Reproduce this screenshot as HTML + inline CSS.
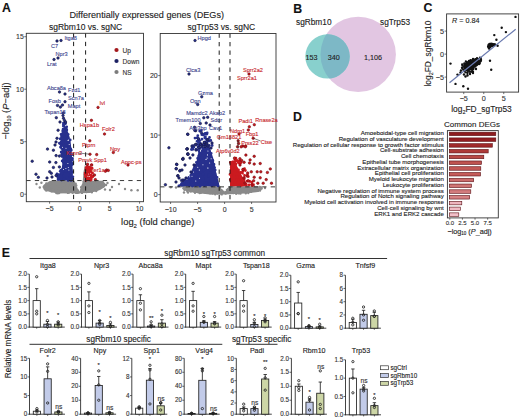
<!DOCTYPE html>
<html><head><meta charset="utf-8"><style>
html,body{margin:0;padding:0;background:#fff;}
svg{display:block;}
text{font-family:"Liberation Sans", sans-serif;}
</style></head><body>
<svg width="520" height="419" viewBox="0 0 520 419" font-family="Liberation Sans, sans-serif">
<rect width="520" height="419" fill="#fff"/>
<text x="2.00" y="12.30" font-size="12.3" text-anchor="start" fill="#111" stroke="#111" stroke-width="0.12" font-weight="bold">A</text>
<text x="293.30" y="12.60" font-size="12.3" text-anchor="start" fill="#111" stroke="#111" stroke-width="0.12" font-weight="bold">B</text>
<text x="423.50" y="12.20" font-size="12.3" text-anchor="start" fill="#111" stroke="#111" stroke-width="0.12" font-weight="bold">C</text>
<text x="293.00" y="121.00" font-size="12.3" text-anchor="start" fill="#111" stroke="#111" stroke-width="0.12" font-weight="bold">D</text>
<text x="1.80" y="256.50" font-size="12.3" text-anchor="start" fill="#111" stroke="#111" stroke-width="0.12" font-weight="bold">E</text>
<text x="69.50" y="18.20" font-size="9.1" text-anchor="start" fill="#222" stroke="#222" stroke-width="0.12" >Differentially expressed genes (DEGs)</text>
<text x="49.00" y="30.00" font-size="8.5" text-anchor="start" fill="#222" stroke="#222" stroke-width="0.12" >sgRbm10 vs. sgNC</text>
<text x="187.50" y="30.00" font-size="8.5" text-anchor="start" fill="#222" stroke="#222" stroke-width="0.12" >sgTrp53 vs. sgNC</text>
<text transform="translate(8.6,111) rotate(-90)" font-size="9.4" text-anchor="middle" fill="#222" stroke="#222" stroke-width="0.12">−log<tspan font-size="5.5" dy="2">10</tspan><tspan dy="-2"> (</tspan><tspan font-style="italic">P</tspan>−adj)</text>
<text x="157.7" y="225.0" font-size="9.4" text-anchor="middle" fill="#222" stroke="#222" stroke-width="0.12">log<tspan font-size="6" dy="2.5">2</tspan><tspan dy="-2.5"> (fold change)</tspan></text>
<polygon points="44.0,184.5 50.0,181.0 53.0,180.7 74.4,180.7 79.2,192.0 83.2,180.7 103.0,180.7 105.5,184.0 105.0,187.0 100.0,190.0 90.0,193.0 79.0,193.2 70.0,193.2 58.0,193.6 50.0,192.0 44.0,190.0 42.5,187.0" fill="#8a8a8a" />
<polygon points="82.8,180.7 83.5,172.0 84.8,165.0 85.6,166.0 85.6,180.7" fill="#8a8a8a" />
<path d="M61.7,182.6a1.2,1.2 0 1,0 2.4,0a1.2,1.2 0 1,0 -2.4,0M82.3,181.6a1.2,1.2 0 1,0 2.4,0a1.2,1.2 0 1,0 -2.4,0M75.1,185.4a1.2,1.2 0 1,0 2.4,0a1.2,1.2 0 1,0 -2.4,0M45.0,187.2a1.2,1.2 0 1,0 2.4,0a1.2,1.2 0 1,0 -2.4,0M43.7,186.3a1.2,1.2 0 1,0 2.4,0a1.2,1.2 0 1,0 -2.4,0M68.0,191.4a1.2,1.2 0 1,0 2.4,0a1.2,1.2 0 1,0 -2.4,0M49.1,183.6a1.2,1.2 0 1,0 2.4,0a1.2,1.2 0 1,0 -2.4,0M80.8,192.9a1.2,1.2 0 1,0 2.4,0a1.2,1.2 0 1,0 -2.4,0M95.4,184.4a1.2,1.2 0 1,0 2.4,0a1.2,1.2 0 1,0 -2.4,0M50.4,182.2a1.2,1.2 0 1,0 2.4,0a1.2,1.2 0 1,0 -2.4,0M60.7,191.2a1.2,1.2 0 1,0 2.4,0a1.2,1.2 0 1,0 -2.4,0M52.7,188.2a1.2,1.2 0 1,0 2.4,0a1.2,1.2 0 1,0 -2.4,0M81.6,185.5a1.2,1.2 0 1,0 2.4,0a1.2,1.2 0 1,0 -2.4,0M45.1,183.4a1.2,1.2 0 1,0 2.4,0a1.2,1.2 0 1,0 -2.4,0M84.2,186.2a1.2,1.2 0 1,0 2.4,0a1.2,1.2 0 1,0 -2.4,0M61.1,188.3a1.2,1.2 0 1,0 2.4,0a1.2,1.2 0 1,0 -2.4,0M69.9,184.6a1.2,1.2 0 1,0 2.4,0a1.2,1.2 0 1,0 -2.4,0M91.3,189.7a1.2,1.2 0 1,0 2.4,0a1.2,1.2 0 1,0 -2.4,0M56.7,188.1a1.2,1.2 0 1,0 2.4,0a1.2,1.2 0 1,0 -2.4,0M74.4,192.0a1.2,1.2 0 1,0 2.4,0a1.2,1.2 0 1,0 -2.4,0M87.3,184.4a1.2,1.2 0 1,0 2.4,0a1.2,1.2 0 1,0 -2.4,0M67.6,190.5a1.2,1.2 0 1,0 2.4,0a1.2,1.2 0 1,0 -2.4,0M50.9,187.0a1.2,1.2 0 1,0 2.4,0a1.2,1.2 0 1,0 -2.4,0M43.8,189.3a1.2,1.2 0 1,0 2.4,0a1.2,1.2 0 1,0 -2.4,0M89.5,188.1a1.2,1.2 0 1,0 2.4,0a1.2,1.2 0 1,0 -2.4,0M96.5,184.7a1.2,1.2 0 1,0 2.4,0a1.2,1.2 0 1,0 -2.4,0M85.1,188.4a1.2,1.2 0 1,0 2.4,0a1.2,1.2 0 1,0 -2.4,0M71.2,189.3a1.2,1.2 0 1,0 2.4,0a1.2,1.2 0 1,0 -2.4,0M45.1,189.7a1.2,1.2 0 1,0 2.4,0a1.2,1.2 0 1,0 -2.4,0M93.1,184.4a1.2,1.2 0 1,0 2.4,0a1.2,1.2 0 1,0 -2.4,0M65.6,189.3a1.2,1.2 0 1,0 2.4,0a1.2,1.2 0 1,0 -2.4,0M42.7,186.7a1.2,1.2 0 1,0 2.4,0a1.2,1.2 0 1,0 -2.4,0M51.9,182.2a1.2,1.2 0 1,0 2.4,0a1.2,1.2 0 1,0 -2.4,0M45.0,190.6a1.2,1.2 0 1,0 2.4,0a1.2,1.2 0 1,0 -2.4,0M49.4,183.9a1.2,1.2 0 1,0 2.4,0a1.2,1.2 0 1,0 -2.4,0M65.9,191.9a1.2,1.2 0 1,0 2.4,0a1.2,1.2 0 1,0 -2.4,0M46.4,186.5a1.2,1.2 0 1,0 2.4,0a1.2,1.2 0 1,0 -2.4,0M75.9,192.1a1.2,1.2 0 1,0 2.4,0a1.2,1.2 0 1,0 -2.4,0M58.8,186.1a1.2,1.2 0 1,0 2.4,0a1.2,1.2 0 1,0 -2.4,0M63.9,192.1a1.2,1.2 0 1,0 2.4,0a1.2,1.2 0 1,0 -2.4,0M101.6,182.6a1.2,1.2 0 1,0 2.4,0a1.2,1.2 0 1,0 -2.4,0M52.4,183.7a1.2,1.2 0 1,0 2.4,0a1.2,1.2 0 1,0 -2.4,0M56.0,187.0a1.2,1.2 0 1,0 2.4,0a1.2,1.2 0 1,0 -2.4,0M64.6,188.0a1.2,1.2 0 1,0 2.4,0a1.2,1.2 0 1,0 -2.4,0M73.8,188.7a1.2,1.2 0 1,0 2.4,0a1.2,1.2 0 1,0 -2.4,0M83.9,181.4a1.2,1.2 0 1,0 2.4,0a1.2,1.2 0 1,0 -2.4,0M66.0,185.8a1.2,1.2 0 1,0 2.4,0a1.2,1.2 0 1,0 -2.4,0M47.8,188.9a1.2,1.2 0 1,0 2.4,0a1.2,1.2 0 1,0 -2.4,0M54.5,182.8a1.2,1.2 0 1,0 2.4,0a1.2,1.2 0 1,0 -2.4,0M62.7,181.4a1.2,1.2 0 1,0 2.4,0a1.2,1.2 0 1,0 -2.4,0M47.7,185.4a1.2,1.2 0 1,0 2.4,0a1.2,1.2 0 1,0 -2.4,0M57.2,185.2a1.2,1.2 0 1,0 2.4,0a1.2,1.2 0 1,0 -2.4,0M64.2,182.3a1.2,1.2 0 1,0 2.4,0a1.2,1.2 0 1,0 -2.4,0M70.7,186.9a1.2,1.2 0 1,0 2.4,0a1.2,1.2 0 1,0 -2.4,0M62.9,184.1a1.2,1.2 0 1,0 2.4,0a1.2,1.2 0 1,0 -2.4,0M93.5,182.8a1.2,1.2 0 1,0 2.4,0a1.2,1.2 0 1,0 -2.4,0M95.7,189.7a1.2,1.2 0 1,0 2.4,0a1.2,1.2 0 1,0 -2.4,0M57.8,185.4a1.2,1.2 0 1,0 2.4,0a1.2,1.2 0 1,0 -2.4,0M51.8,190.7a1.2,1.2 0 1,0 2.4,0a1.2,1.2 0 1,0 -2.4,0M74.9,190.7a1.2,1.2 0 1,0 2.4,0a1.2,1.2 0 1,0 -2.4,0M62.1,183.6a1.2,1.2 0 1,0 2.4,0a1.2,1.2 0 1,0 -2.4,0M95.0,191.1a1.2,1.2 0 1,0 2.4,0a1.2,1.2 0 1,0 -2.4,0M92.9,190.2a1.2,1.2 0 1,0 2.4,0a1.2,1.2 0 1,0 -2.4,0M55.6,187.4a1.2,1.2 0 1,0 2.4,0a1.2,1.2 0 1,0 -2.4,0M63.7,181.1a1.2,1.2 0 1,0 2.4,0a1.2,1.2 0 1,0 -2.4,0M57.6,189.6a1.2,1.2 0 1,0 2.4,0a1.2,1.2 0 1,0 -2.4,0M101.6,186.5a1.2,1.2 0 1,0 2.4,0a1.2,1.2 0 1,0 -2.4,0M101.5,185.4a1.2,1.2 0 1,0 2.4,0a1.2,1.2 0 1,0 -2.4,0M55.2,183.6a1.2,1.2 0 1,0 2.4,0a1.2,1.2 0 1,0 -2.4,0M53.7,183.3a1.2,1.2 0 1,0 2.4,0a1.2,1.2 0 1,0 -2.4,0M80.6,192.3a1.2,1.2 0 1,0 2.4,0a1.2,1.2 0 1,0 -2.4,0M94.2,186.9a1.2,1.2 0 1,0 2.4,0a1.2,1.2 0 1,0 -2.4,0M82.4,191.0a1.2,1.2 0 1,0 2.4,0a1.2,1.2 0 1,0 -2.4,0M46.6,189.2a1.2,1.2 0 1,0 2.4,0a1.2,1.2 0 1,0 -2.4,0M88.6,186.9a1.2,1.2 0 1,0 2.4,0a1.2,1.2 0 1,0 -2.4,0M52.5,190.9a1.2,1.2 0 1,0 2.4,0a1.2,1.2 0 1,0 -2.4,0M62.2,191.0a1.2,1.2 0 1,0 2.4,0a1.2,1.2 0 1,0 -2.4,0M102.5,185.8a1.2,1.2 0 1,0 2.4,0a1.2,1.2 0 1,0 -2.4,0M66.6,192.9a1.2,1.2 0 1,0 2.4,0a1.2,1.2 0 1,0 -2.4,0M87.0,182.9a1.2,1.2 0 1,0 2.4,0a1.2,1.2 0 1,0 -2.4,0M49.3,182.6a1.2,1.2 0 1,0 2.4,0a1.2,1.2 0 1,0 -2.4,0M50.5,191.4a1.2,1.2 0 1,0 2.4,0a1.2,1.2 0 1,0 -2.4,0M63.4,187.8a1.2,1.2 0 1,0 2.4,0a1.2,1.2 0 1,0 -2.4,0M74.5,192.7a1.2,1.2 0 1,0 2.4,0a1.2,1.2 0 1,0 -2.4,0M68.6,191.9a1.2,1.2 0 1,0 2.4,0a1.2,1.2 0 1,0 -2.4,0M93.3,183.4a1.2,1.2 0 1,0 2.4,0a1.2,1.2 0 1,0 -2.4,0M57.2,184.5a1.2,1.2 0 1,0 2.4,0a1.2,1.2 0 1,0 -2.4,0M56.5,188.3a1.2,1.2 0 1,0 2.4,0a1.2,1.2 0 1,0 -2.4,0M57.6,186.1a1.2,1.2 0 1,0 2.4,0a1.2,1.2 0 1,0 -2.4,0M63.6,186.6a1.2,1.2 0 1,0 2.4,0a1.2,1.2 0 1,0 -2.4,0M78.1,192.4a1.2,1.2 0 1,0 2.4,0a1.2,1.2 0 1,0 -2.4,0M67.8,192.5a1.2,1.2 0 1,0 2.4,0a1.2,1.2 0 1,0 -2.4,0M72.9,187.6a1.2,1.2 0 1,0 2.4,0a1.2,1.2 0 1,0 -2.4,0M69.0,183.1a1.2,1.2 0 1,0 2.4,0a1.2,1.2 0 1,0 -2.4,0M52.2,186.8a1.2,1.2 0 1,0 2.4,0a1.2,1.2 0 1,0 -2.4,0M87.0,187.9a1.2,1.2 0 1,0 2.4,0a1.2,1.2 0 1,0 -2.4,0M61.8,187.4a1.2,1.2 0 1,0 2.4,0a1.2,1.2 0 1,0 -2.4,0M76.3,190.8a1.2,1.2 0 1,0 2.4,0a1.2,1.2 0 1,0 -2.4,0M48.0,187.9a1.2,1.2 0 1,0 2.4,0a1.2,1.2 0 1,0 -2.4,0M57.0,184.3a1.2,1.2 0 1,0 2.4,0a1.2,1.2 0 1,0 -2.4,0M90.0,187.2a1.2,1.2 0 1,0 2.4,0a1.2,1.2 0 1,0 -2.4,0M76.7,190.5a1.2,1.2 0 1,0 2.4,0a1.2,1.2 0 1,0 -2.4,0M98.8,186.4a1.2,1.2 0 1,0 2.4,0a1.2,1.2 0 1,0 -2.4,0M79.9,187.2a1.2,1.2 0 1,0 2.4,0a1.2,1.2 0 1,0 -2.4,0M73.6,189.6a1.2,1.2 0 1,0 2.4,0a1.2,1.2 0 1,0 -2.4,0M69.8,187.6a1.2,1.2 0 1,0 2.4,0a1.2,1.2 0 1,0 -2.4,0M71.4,192.8a1.2,1.2 0 1,0 2.4,0a1.2,1.2 0 1,0 -2.4,0M85.4,192.0a1.2,1.2 0 1,0 2.4,0a1.2,1.2 0 1,0 -2.4,0M100.7,184.0a1.2,1.2 0 1,0 2.4,0a1.2,1.2 0 1,0 -2.4,0M76.5,192.9a1.2,1.2 0 1,0 2.4,0a1.2,1.2 0 1,0 -2.4,0M94.2,182.5a1.2,1.2 0 1,0 2.4,0a1.2,1.2 0 1,0 -2.4,0M49.0,186.4a1.2,1.2 0 1,0 2.4,0a1.2,1.2 0 1,0 -2.4,0M45.9,183.8a1.2,1.2 0 1,0 2.4,0a1.2,1.2 0 1,0 -2.4,0M45.9,189.3a1.2,1.2 0 1,0 2.4,0a1.2,1.2 0 1,0 -2.4,0M90.7,192.3a1.2,1.2 0 1,0 2.4,0a1.2,1.2 0 1,0 -2.4,0M51.0,189.9a1.2,1.2 0 1,0 2.4,0a1.2,1.2 0 1,0 -2.4,0M82.9,182.5a1.2,1.2 0 1,0 2.4,0a1.2,1.2 0 1,0 -2.4,0M55.1,193.0a1.2,1.2 0 1,0 2.4,0a1.2,1.2 0 1,0 -2.4,0M66.4,187.0a1.2,1.2 0 1,0 2.4,0a1.2,1.2 0 1,0 -2.4,0M51.5,186.3a1.2,1.2 0 1,0 2.4,0a1.2,1.2 0 1,0 -2.4,0M73.8,185.1a1.2,1.2 0 1,0 2.4,0a1.2,1.2 0 1,0 -2.4,0M53.6,184.8a1.2,1.2 0 1,0 2.4,0a1.2,1.2 0 1,0 -2.4,0M86.8,181.0a1.2,1.2 0 1,0 2.4,0a1.2,1.2 0 1,0 -2.4,0M80.6,187.3a1.2,1.2 0 1,0 2.4,0a1.2,1.2 0 1,0 -2.4,0M47.9,184.1a1.2,1.2 0 1,0 2.4,0a1.2,1.2 0 1,0 -2.4,0M58.3,182.4a1.2,1.2 0 1,0 2.4,0a1.2,1.2 0 1,0 -2.4,0M67.9,192.5a1.2,1.2 0 1,0 2.4,0a1.2,1.2 0 1,0 -2.4,0M92.9,184.0a1.2,1.2 0 1,0 2.4,0a1.2,1.2 0 1,0 -2.4,0M84.7,186.2a1.2,1.2 0 1,0 2.4,0a1.2,1.2 0 1,0 -2.4,0M81.3,191.0a1.2,1.2 0 1,0 2.4,0a1.2,1.2 0 1,0 -2.4,0M69.9,185.1a1.2,1.2 0 1,0 2.4,0a1.2,1.2 0 1,0 -2.4,0M76.1,192.7a1.2,1.2 0 1,0 2.4,0a1.2,1.2 0 1,0 -2.4,0M58.2,182.4a1.2,1.2 0 1,0 2.4,0a1.2,1.2 0 1,0 -2.4,0M74.5,183.8a1.2,1.2 0 1,0 2.4,0a1.2,1.2 0 1,0 -2.4,0M48.2,182.8a1.2,1.2 0 1,0 2.4,0a1.2,1.2 0 1,0 -2.4,0M61.0,184.6a1.2,1.2 0 1,0 2.4,0a1.2,1.2 0 1,0 -2.4,0M89.1,184.4a1.2,1.2 0 1,0 2.4,0a1.2,1.2 0 1,0 -2.4,0M72.8,183.0a1.2,1.2 0 1,0 2.4,0a1.2,1.2 0 1,0 -2.4,0M63.2,180.9a1.2,1.2 0 1,0 2.4,0a1.2,1.2 0 1,0 -2.4,0M57.1,180.9a1.2,1.2 0 1,0 2.4,0a1.2,1.2 0 1,0 -2.4,0M87.5,187.8a1.2,1.2 0 1,0 2.4,0a1.2,1.2 0 1,0 -2.4,0M53.2,186.8a1.2,1.2 0 1,0 2.4,0a1.2,1.2 0 1,0 -2.4,0M100.2,182.1a1.2,1.2 0 1,0 2.4,0a1.2,1.2 0 1,0 -2.4,0M92.9,186.3a1.2,1.2 0 1,0 2.4,0a1.2,1.2 0 1,0 -2.4,0M72.5,191.5a1.2,1.2 0 1,0 2.4,0a1.2,1.2 0 1,0 -2.4,0M66.1,187.2a1.2,1.2 0 1,0 2.4,0a1.2,1.2 0 1,0 -2.4,0M62.9,191.4a1.2,1.2 0 1,0 2.4,0a1.2,1.2 0 1,0 -2.4,0M85.8,188.9a1.2,1.2 0 1,0 2.4,0a1.2,1.2 0 1,0 -2.4,0M66.8,185.2a1.2,1.2 0 1,0 2.4,0a1.2,1.2 0 1,0 -2.4,0M45.8,190.3a1.2,1.2 0 1,0 2.4,0a1.2,1.2 0 1,0 -2.4,0M57.4,182.8a1.2,1.2 0 1,0 2.4,0a1.2,1.2 0 1,0 -2.4,0M96.1,189.4a1.2,1.2 0 1,0 2.4,0a1.2,1.2 0 1,0 -2.4,0M59.1,183.8a1.2,1.2 0 1,0 2.4,0a1.2,1.2 0 1,0 -2.4,0M59.8,186.6a1.2,1.2 0 1,0 2.4,0a1.2,1.2 0 1,0 -2.4,0M51.2,186.5a1.2,1.2 0 1,0 2.4,0a1.2,1.2 0 1,0 -2.4,0M57.9,193.1a1.2,1.2 0 1,0 2.4,0a1.2,1.2 0 1,0 -2.4,0M56.7,193.2a1.2,1.2 0 1,0 2.4,0a1.2,1.2 0 1,0 -2.4,0M60.8,185.3a1.2,1.2 0 1,0 2.4,0a1.2,1.2 0 1,0 -2.4,0M71.2,187.2a1.2,1.2 0 1,0 2.4,0a1.2,1.2 0 1,0 -2.4,0M54.0,187.2a1.2,1.2 0 1,0 2.4,0a1.2,1.2 0 1,0 -2.4,0" fill="#8a8a8a"/>
<circle cx="41.40" cy="182.70" r="1.2" fill="#8a8a8a" />
<circle cx="39.80" cy="187.50" r="1.2" fill="#8a8a8a" />
<circle cx="106.00" cy="185.00" r="1.2" fill="#8a8a8a" />
<circle cx="105.00" cy="189.50" r="1.2" fill="#8a8a8a" />
<circle cx="107.50" cy="183.00" r="1.2" fill="#8a8a8a" />
<circle cx="36.50" cy="184.00" r="1.2" fill="#8a8a8a" />
<circle cx="119.00" cy="184.00" r="1.2" fill="#8a8a8a" />
<circle cx="125.00" cy="189.00" r="1.2" fill="#8a8a8a" />
<circle cx="131.40" cy="190.20" r="1.2" fill="#8a8a8a" />
<circle cx="137.70" cy="190.20" r="1.2" fill="#8a8a8a" />
<circle cx="110.00" cy="190.00" r="1.2" fill="#8a8a8a" />
<circle cx="112.00" cy="187.00" r="1.2" fill="#8a8a8a" />
<polygon points="64.0,127.0 66.5,127.0 68.5,134.0 70.5,141.0 71.5,150.0 72.3,160.0 73.0,180.5 56.5,180.5 58.5,175.0 61.5,170.0 62.8,160.0 62.0,150.0 60.5,145.0 60.5,140.0 62.3,135.0 63.3,130.0" fill="#27308e" />
<path d="M63.9,153.4a1.4,1.4 0 1,0 2.8,0a1.4,1.4 0 1,0 -2.8,0M67.1,160.8a1.4,1.4 0 1,0 2.8,0a1.4,1.4 0 1,0 -2.8,0M66.4,173.5a1.4,1.4 0 1,0 2.8,0a1.4,1.4 0 1,0 -2.8,0M60.1,141.8a1.4,1.4 0 1,0 2.8,0a1.4,1.4 0 1,0 -2.8,0M66.6,160.0a1.4,1.4 0 1,0 2.8,0a1.4,1.4 0 1,0 -2.8,0M69.8,159.1a1.4,1.4 0 1,0 2.8,0a1.4,1.4 0 1,0 -2.8,0M66.8,169.7a1.4,1.4 0 1,0 2.8,0a1.4,1.4 0 1,0 -2.8,0M62.3,171.0a1.4,1.4 0 1,0 2.8,0a1.4,1.4 0 1,0 -2.8,0M68.1,170.5a1.4,1.4 0 1,0 2.8,0a1.4,1.4 0 1,0 -2.8,0M63.9,174.3a1.4,1.4 0 1,0 2.8,0a1.4,1.4 0 1,0 -2.8,0M65.8,162.9a1.4,1.4 0 1,0 2.8,0a1.4,1.4 0 1,0 -2.8,0M63.4,159.1a1.4,1.4 0 1,0 2.8,0a1.4,1.4 0 1,0 -2.8,0M64.7,162.1a1.4,1.4 0 1,0 2.8,0a1.4,1.4 0 1,0 -2.8,0M62.0,123.2a1.4,1.4 0 1,0 2.8,0a1.4,1.4 0 1,0 -2.8,0M68.0,166.0a1.4,1.4 0 1,0 2.8,0a1.4,1.4 0 1,0 -2.8,0M62.3,153.8a1.4,1.4 0 1,0 2.8,0a1.4,1.4 0 1,0 -2.8,0M65.3,126.8a1.4,1.4 0 1,0 2.8,0a1.4,1.4 0 1,0 -2.8,0M66.8,137.5a1.4,1.4 0 1,0 2.8,0a1.4,1.4 0 1,0 -2.8,0M66.7,134.8a1.4,1.4 0 1,0 2.8,0a1.4,1.4 0 1,0 -2.8,0M66.9,179.1a1.4,1.4 0 1,0 2.8,0a1.4,1.4 0 1,0 -2.8,0M62.1,145.0a1.4,1.4 0 1,0 2.8,0a1.4,1.4 0 1,0 -2.8,0M61.8,162.3a1.4,1.4 0 1,0 2.8,0a1.4,1.4 0 1,0 -2.8,0M67.4,158.5a1.4,1.4 0 1,0 2.8,0a1.4,1.4 0 1,0 -2.8,0M65.0,127.5a1.4,1.4 0 1,0 2.8,0a1.4,1.4 0 1,0 -2.8,0M66.9,140.5a1.4,1.4 0 1,0 2.8,0a1.4,1.4 0 1,0 -2.8,0M63.6,123.7a1.4,1.4 0 1,0 2.8,0a1.4,1.4 0 1,0 -2.8,0M65.6,162.8a1.4,1.4 0 1,0 2.8,0a1.4,1.4 0 1,0 -2.8,0M65.6,139.7a1.4,1.4 0 1,0 2.8,0a1.4,1.4 0 1,0 -2.8,0M62.6,149.7a1.4,1.4 0 1,0 2.8,0a1.4,1.4 0 1,0 -2.8,0M61.6,129.8a1.4,1.4 0 1,0 2.8,0a1.4,1.4 0 1,0 -2.8,0M71.5,176.8a1.4,1.4 0 1,0 2.8,0a1.4,1.4 0 1,0 -2.8,0M68.4,178.7a1.4,1.4 0 1,0 2.8,0a1.4,1.4 0 1,0 -2.8,0M61.3,138.4a1.4,1.4 0 1,0 2.8,0a1.4,1.4 0 1,0 -2.8,0M56.6,177.4a1.4,1.4 0 1,0 2.8,0a1.4,1.4 0 1,0 -2.8,0M68.4,152.3a1.4,1.4 0 1,0 2.8,0a1.4,1.4 0 1,0 -2.8,0M69.7,163.4a1.4,1.4 0 1,0 2.8,0a1.4,1.4 0 1,0 -2.8,0M57.1,174.6a1.4,1.4 0 1,0 2.8,0a1.4,1.4 0 1,0 -2.8,0M62.0,124.4a1.4,1.4 0 1,0 2.8,0a1.4,1.4 0 1,0 -2.8,0M61.3,140.4a1.4,1.4 0 1,0 2.8,0a1.4,1.4 0 1,0 -2.8,0M58.7,171.3a1.4,1.4 0 1,0 2.8,0a1.4,1.4 0 1,0 -2.8,0M70.5,164.0a1.4,1.4 0 1,0 2.8,0a1.4,1.4 0 1,0 -2.8,0M59.8,145.6a1.4,1.4 0 1,0 2.8,0a1.4,1.4 0 1,0 -2.8,0M59.6,147.6a1.4,1.4 0 1,0 2.8,0a1.4,1.4 0 1,0 -2.8,0M58.1,176.8a1.4,1.4 0 1,0 2.8,0a1.4,1.4 0 1,0 -2.8,0M62.5,133.9a1.4,1.4 0 1,0 2.8,0a1.4,1.4 0 1,0 -2.8,0M59.8,178.0a1.4,1.4 0 1,0 2.8,0a1.4,1.4 0 1,0 -2.8,0M69.7,169.7a1.4,1.4 0 1,0 2.8,0a1.4,1.4 0 1,0 -2.8,0M64.8,175.5a1.4,1.4 0 1,0 2.8,0a1.4,1.4 0 1,0 -2.8,0M70.8,154.6a1.4,1.4 0 1,0 2.8,0a1.4,1.4 0 1,0 -2.8,0M66.7,148.9a1.4,1.4 0 1,0 2.8,0a1.4,1.4 0 1,0 -2.8,0M67.1,160.1a1.4,1.4 0 1,0 2.8,0a1.4,1.4 0 1,0 -2.8,0M61.7,142.8a1.4,1.4 0 1,0 2.8,0a1.4,1.4 0 1,0 -2.8,0M65.3,140.3a1.4,1.4 0 1,0 2.8,0a1.4,1.4 0 1,0 -2.8,0M63.4,145.7a1.4,1.4 0 1,0 2.8,0a1.4,1.4 0 1,0 -2.8,0M56.6,175.1a1.4,1.4 0 1,0 2.8,0a1.4,1.4 0 1,0 -2.8,0M62.2,135.7a1.4,1.4 0 1,0 2.8,0a1.4,1.4 0 1,0 -2.8,0M70.1,180.3a1.4,1.4 0 1,0 2.8,0a1.4,1.4 0 1,0 -2.8,0M61.3,131.0a1.4,1.4 0 1,0 2.8,0a1.4,1.4 0 1,0 -2.8,0M63.6,174.0a1.4,1.4 0 1,0 2.8,0a1.4,1.4 0 1,0 -2.8,0M67.1,146.7a1.4,1.4 0 1,0 2.8,0a1.4,1.4 0 1,0 -2.8,0M60.6,153.1a1.4,1.4 0 1,0 2.8,0a1.4,1.4 0 1,0 -2.8,0M59.9,142.4a1.4,1.4 0 1,0 2.8,0a1.4,1.4 0 1,0 -2.8,0M62.3,159.2a1.4,1.4 0 1,0 2.8,0a1.4,1.4 0 1,0 -2.8,0M60.3,148.6a1.4,1.4 0 1,0 2.8,0a1.4,1.4 0 1,0 -2.8,0M71.0,171.8a1.4,1.4 0 1,0 2.8,0a1.4,1.4 0 1,0 -2.8,0M69.9,150.2a1.4,1.4 0 1,0 2.8,0a1.4,1.4 0 1,0 -2.8,0M63.9,123.0a1.4,1.4 0 1,0 2.8,0a1.4,1.4 0 1,0 -2.8,0M60.2,176.3a1.4,1.4 0 1,0 2.8,0a1.4,1.4 0 1,0 -2.8,0M68.5,172.2a1.4,1.4 0 1,0 2.8,0a1.4,1.4 0 1,0 -2.8,0M62.7,162.2a1.4,1.4 0 1,0 2.8,0a1.4,1.4 0 1,0 -2.8,0M70.8,164.5a1.4,1.4 0 1,0 2.8,0a1.4,1.4 0 1,0 -2.8,0M65.1,167.0a1.4,1.4 0 1,0 2.8,0a1.4,1.4 0 1,0 -2.8,0M61.4,154.7a1.4,1.4 0 1,0 2.8,0a1.4,1.4 0 1,0 -2.8,0M57.1,175.9a1.4,1.4 0 1,0 2.8,0a1.4,1.4 0 1,0 -2.8,0M65.1,140.5a1.4,1.4 0 1,0 2.8,0a1.4,1.4 0 1,0 -2.8,0M64.9,163.2a1.4,1.4 0 1,0 2.8,0a1.4,1.4 0 1,0 -2.8,0M62.7,156.5a1.4,1.4 0 1,0 2.8,0a1.4,1.4 0 1,0 -2.8,0M60.1,135.9a1.4,1.4 0 1,0 2.8,0a1.4,1.4 0 1,0 -2.8,0M64.2,123.6a1.4,1.4 0 1,0 2.8,0a1.4,1.4 0 1,0 -2.8,0M71.1,160.1a1.4,1.4 0 1,0 2.8,0a1.4,1.4 0 1,0 -2.8,0M69.7,150.3a1.4,1.4 0 1,0 2.8,0a1.4,1.4 0 1,0 -2.8,0M71.1,163.5a1.4,1.4 0 1,0 2.8,0a1.4,1.4 0 1,0 -2.8,0M62.2,161.8a1.4,1.4 0 1,0 2.8,0a1.4,1.4 0 1,0 -2.8,0M60.7,137.8a1.4,1.4 0 1,0 2.8,0a1.4,1.4 0 1,0 -2.8,0M65.5,176.2a1.4,1.4 0 1,0 2.8,0a1.4,1.4 0 1,0 -2.8,0M59.1,147.2a1.4,1.4 0 1,0 2.8,0a1.4,1.4 0 1,0 -2.8,0M65.8,134.4a1.4,1.4 0 1,0 2.8,0a1.4,1.4 0 1,0 -2.8,0M68.0,165.5a1.4,1.4 0 1,0 2.8,0a1.4,1.4 0 1,0 -2.8,0M62.3,134.8a1.4,1.4 0 1,0 2.8,0a1.4,1.4 0 1,0 -2.8,0M58.3,177.7a1.4,1.4 0 1,0 2.8,0a1.4,1.4 0 1,0 -2.8,0M62.2,133.8a1.4,1.4 0 1,0 2.8,0a1.4,1.4 0 1,0 -2.8,0M65.4,177.6a1.4,1.4 0 1,0 2.8,0a1.4,1.4 0 1,0 -2.8,0M56.7,179.0a1.4,1.4 0 1,0 2.8,0a1.4,1.4 0 1,0 -2.8,0M69.9,173.8a1.4,1.4 0 1,0 2.8,0a1.4,1.4 0 1,0 -2.8,0M66.7,180.4a1.4,1.4 0 1,0 2.8,0a1.4,1.4 0 1,0 -2.8,0M56.2,176.8a1.4,1.4 0 1,0 2.8,0a1.4,1.4 0 1,0 -2.8,0M65.4,144.8a1.4,1.4 0 1,0 2.8,0a1.4,1.4 0 1,0 -2.8,0M59.8,142.1a1.4,1.4 0 1,0 2.8,0a1.4,1.4 0 1,0 -2.8,0M58.0,143.2a1.4,1.4 0 1,0 2.8,0a1.4,1.4 0 1,0 -2.8,0M59.5,170.2a1.4,1.4 0 1,0 2.8,0a1.4,1.4 0 1,0 -2.8,0M68.5,147.9a1.4,1.4 0 1,0 2.8,0a1.4,1.4 0 1,0 -2.8,0M59.8,175.9a1.4,1.4 0 1,0 2.8,0a1.4,1.4 0 1,0 -2.8,0M60.5,169.7a1.4,1.4 0 1,0 2.8,0a1.4,1.4 0 1,0 -2.8,0M67.0,174.7a1.4,1.4 0 1,0 2.8,0a1.4,1.4 0 1,0 -2.8,0M59.1,138.7a1.4,1.4 0 1,0 2.8,0a1.4,1.4 0 1,0 -2.8,0M71.1,158.5a1.4,1.4 0 1,0 2.8,0a1.4,1.4 0 1,0 -2.8,0M58.7,138.8a1.4,1.4 0 1,0 2.8,0a1.4,1.4 0 1,0 -2.8,0M70.3,159.5a1.4,1.4 0 1,0 2.8,0a1.4,1.4 0 1,0 -2.8,0M71.1,177.8a1.4,1.4 0 1,0 2.8,0a1.4,1.4 0 1,0 -2.8,0M60.1,137.4a1.4,1.4 0 1,0 2.8,0a1.4,1.4 0 1,0 -2.8,0M60.9,151.4a1.4,1.4 0 1,0 2.8,0a1.4,1.4 0 1,0 -2.8,0M68.1,165.5a1.4,1.4 0 1,0 2.8,0a1.4,1.4 0 1,0 -2.8,0M68.5,167.4a1.4,1.4 0 1,0 2.8,0a1.4,1.4 0 1,0 -2.8,0M64.3,141.8a1.4,1.4 0 1,0 2.8,0a1.4,1.4 0 1,0 -2.8,0M58.8,143.8a1.4,1.4 0 1,0 2.8,0a1.4,1.4 0 1,0 -2.8,0M58.9,179.4a1.4,1.4 0 1,0 2.8,0a1.4,1.4 0 1,0 -2.8,0M69.7,179.8a1.4,1.4 0 1,0 2.8,0a1.4,1.4 0 1,0 -2.8,0M66.3,148.7a1.4,1.4 0 1,0 2.8,0a1.4,1.4 0 1,0 -2.8,0M64.6,161.8a1.4,1.4 0 1,0 2.8,0a1.4,1.4 0 1,0 -2.8,0M67.0,171.7a1.4,1.4 0 1,0 2.8,0a1.4,1.4 0 1,0 -2.8,0M65.4,130.0a1.4,1.4 0 1,0 2.8,0a1.4,1.4 0 1,0 -2.8,0M68.8,139.9a1.4,1.4 0 1,0 2.8,0a1.4,1.4 0 1,0 -2.8,0M63.5,144.4a1.4,1.4 0 1,0 2.8,0a1.4,1.4 0 1,0 -2.8,0M66.8,134.5a1.4,1.4 0 1,0 2.8,0a1.4,1.4 0 1,0 -2.8,0M55.6,173.8a1.4,1.4 0 1,0 2.8,0a1.4,1.4 0 1,0 -2.8,0M63.8,141.8a1.4,1.4 0 1,0 2.8,0a1.4,1.4 0 1,0 -2.8,0M60.2,180.1a1.4,1.4 0 1,0 2.8,0a1.4,1.4 0 1,0 -2.8,0M62.4,136.3a1.4,1.4 0 1,0 2.8,0a1.4,1.4 0 1,0 -2.8,0M68.2,160.6a1.4,1.4 0 1,0 2.8,0a1.4,1.4 0 1,0 -2.8,0M61.8,170.1a1.4,1.4 0 1,0 2.8,0a1.4,1.4 0 1,0 -2.8,0M68.8,175.6a1.4,1.4 0 1,0 2.8,0a1.4,1.4 0 1,0 -2.8,0M69.3,148.8a1.4,1.4 0 1,0 2.8,0a1.4,1.4 0 1,0 -2.8,0M64.1,158.6a1.4,1.4 0 1,0 2.8,0a1.4,1.4 0 1,0 -2.8,0M65.2,134.7a1.4,1.4 0 1,0 2.8,0a1.4,1.4 0 1,0 -2.8,0M65.7,133.6a1.4,1.4 0 1,0 2.8,0a1.4,1.4 0 1,0 -2.8,0M67.9,154.5a1.4,1.4 0 1,0 2.8,0a1.4,1.4 0 1,0 -2.8,0M60.2,154.6a1.4,1.4 0 1,0 2.8,0a1.4,1.4 0 1,0 -2.8,0M64.9,128.2a1.4,1.4 0 1,0 2.8,0a1.4,1.4 0 1,0 -2.8,0M60.5,139.3a1.4,1.4 0 1,0 2.8,0a1.4,1.4 0 1,0 -2.8,0M58.5,177.8a1.4,1.4 0 1,0 2.8,0a1.4,1.4 0 1,0 -2.8,0M59.5,146.9a1.4,1.4 0 1,0 2.8,0a1.4,1.4 0 1,0 -2.8,0M69.3,180.3a1.4,1.4 0 1,0 2.8,0a1.4,1.4 0 1,0 -2.8,0M59.6,134.3a1.4,1.4 0 1,0 2.8,0a1.4,1.4 0 1,0 -2.8,0M66.7,134.7a1.4,1.4 0 1,0 2.8,0a1.4,1.4 0 1,0 -2.8,0M60.8,170.2a1.4,1.4 0 1,0 2.8,0a1.4,1.4 0 1,0 -2.8,0M60.4,173.8a1.4,1.4 0 1,0 2.8,0a1.4,1.4 0 1,0 -2.8,0M61.5,132.3a1.4,1.4 0 1,0 2.8,0a1.4,1.4 0 1,0 -2.8,0M65.0,175.3a1.4,1.4 0 1,0 2.8,0a1.4,1.4 0 1,0 -2.8,0M59.8,152.0a1.4,1.4 0 1,0 2.8,0a1.4,1.4 0 1,0 -2.8,0M62.7,176.2a1.4,1.4 0 1,0 2.8,0a1.4,1.4 0 1,0 -2.8,0M68.1,178.6a1.4,1.4 0 1,0 2.8,0a1.4,1.4 0 1,0 -2.8,0M70.8,179.1a1.4,1.4 0 1,0 2.8,0a1.4,1.4 0 1,0 -2.8,0M61.9,126.1a1.4,1.4 0 1,0 2.8,0a1.4,1.4 0 1,0 -2.8,0M70.1,158.7a1.4,1.4 0 1,0 2.8,0a1.4,1.4 0 1,0 -2.8,0M60.4,171.7a1.4,1.4 0 1,0 2.8,0a1.4,1.4 0 1,0 -2.8,0M62.6,145.1a1.4,1.4 0 1,0 2.8,0a1.4,1.4 0 1,0 -2.8,0M66.6,174.6a1.4,1.4 0 1,0 2.8,0a1.4,1.4 0 1,0 -2.8,0M64.2,154.6a1.4,1.4 0 1,0 2.8,0a1.4,1.4 0 1,0 -2.8,0M64.7,140.6a1.4,1.4 0 1,0 2.8,0a1.4,1.4 0 1,0 -2.8,0M60.7,156.5a1.4,1.4 0 1,0 2.8,0a1.4,1.4 0 1,0 -2.8,0M60.8,160.9a1.4,1.4 0 1,0 2.8,0a1.4,1.4 0 1,0 -2.8,0M61.2,148.2a1.4,1.4 0 1,0 2.8,0a1.4,1.4 0 1,0 -2.8,0M62.0,136.5a1.4,1.4 0 1,0 2.8,0a1.4,1.4 0 1,0 -2.8,0M67.3,167.8a1.4,1.4 0 1,0 2.8,0a1.4,1.4 0 1,0 -2.8,0M61.4,133.3a1.4,1.4 0 1,0 2.8,0a1.4,1.4 0 1,0 -2.8,0M61.7,129.2a1.4,1.4 0 1,0 2.8,0a1.4,1.4 0 1,0 -2.8,0M62.4,125.3a1.4,1.4 0 1,0 2.8,0a1.4,1.4 0 1,0 -2.8,0M64.9,127.7a1.4,1.4 0 1,0 2.8,0a1.4,1.4 0 1,0 -2.8,0M66.8,167.7a1.4,1.4 0 1,0 2.8,0a1.4,1.4 0 1,0 -2.8,0M62.5,126.1a1.4,1.4 0 1,0 2.8,0a1.4,1.4 0 1,0 -2.8,0" fill="#27308e"/>
<path d="M65.5,148.2a0.5,0.5 0 1,0 1.0,0a0.5,0.5 0 1,0 -1.0,0M68.4,169.9a0.5,0.5 0 1,0 1.0,0a0.5,0.5 0 1,0 -1.0,0M67.4,163.5a0.5,0.5 0 1,0 1.0,0a0.5,0.5 0 1,0 -1.0,0M63.0,169.4a0.5,0.5 0 1,0 1.0,0a0.5,0.5 0 1,0 -1.0,0M65.4,168.5a0.5,0.5 0 1,0 1.0,0a0.5,0.5 0 1,0 -1.0,0M67.8,167.6a0.5,0.5 0 1,0 1.0,0a0.5,0.5 0 1,0 -1.0,0M62.0,147.3a0.5,0.5 0 1,0 1.0,0a0.5,0.5 0 1,0 -1.0,0M67.5,140.6a0.5,0.5 0 1,0 1.0,0a0.5,0.5 0 1,0 -1.0,0M68.7,144.6a0.5,0.5 0 1,0 1.0,0a0.5,0.5 0 1,0 -1.0,0M68.0,140.0a0.5,0.5 0 1,0 1.0,0a0.5,0.5 0 1,0 -1.0,0" fill="#ffffff"/>
<circle cx="57.00" cy="41.00" r="1.25" fill="#27308e" stroke="#15163a" stroke-width="0.6"/>
<circle cx="61.00" cy="40.50" r="1.25" fill="#27308e" stroke="#15163a" stroke-width="0.6"/>
<circle cx="58.00" cy="58.00" r="1.25" fill="#27308e" stroke="#15163a" stroke-width="0.6"/>
<circle cx="54.00" cy="59.50" r="1.25" fill="#27308e" stroke="#15163a" stroke-width="0.6"/>
<circle cx="59.50" cy="92.00" r="1.25" fill="#27308e" stroke="#15163a" stroke-width="0.6"/>
<circle cx="65.00" cy="94.00" r="1.25" fill="#27308e" stroke="#15163a" stroke-width="0.6"/>
<circle cx="65.00" cy="101.70" r="1.25" fill="#27308e" stroke="#15163a" stroke-width="0.6"/>
<circle cx="62.50" cy="105.00" r="1.25" fill="#27308e" stroke="#15163a" stroke-width="0.6"/>
<circle cx="60.40" cy="107.10" r="1.25" fill="#27308e" stroke="#15163a" stroke-width="0.6"/>
<circle cx="57.50" cy="105.40" r="1.25" fill="#27308e" stroke="#15163a" stroke-width="0.6"/>
<circle cx="63.30" cy="112.90" r="1.25" fill="#27308e" stroke="#15163a" stroke-width="0.6"/>
<circle cx="63.50" cy="118.30" r="1.25" fill="#27308e" stroke="#15163a" stroke-width="0.6"/>
<circle cx="64.50" cy="120.50" r="1.25" fill="#27308e" stroke="#15163a" stroke-width="0.6"/>
<circle cx="56.30" cy="117.70" r="1.25" fill="#27308e" stroke="#15163a" stroke-width="0.6"/>
<circle cx="60.00" cy="122.00" r="1.25" fill="#27308e" stroke="#15163a" stroke-width="0.6"/>
<circle cx="63.00" cy="115.50" r="1.25" fill="#27308e" stroke="#15163a" stroke-width="0.6"/>
<circle cx="65.50" cy="122.00" r="1.25" fill="#27308e" stroke="#15163a" stroke-width="0.6"/>
<circle cx="58.10" cy="130.20" r="1.25" fill="#27308e" stroke="#15163a" stroke-width="0.6"/>
<circle cx="57.00" cy="138.30" r="1.25" fill="#27308e" stroke="#15163a" stroke-width="0.6"/>
<circle cx="47.50" cy="149.10" r="1.25" fill="#27308e" stroke="#15163a" stroke-width="0.6"/>
<circle cx="53.40" cy="150.20" r="1.25" fill="#27308e" stroke="#15163a" stroke-width="0.6"/>
<circle cx="56.10" cy="155.60" r="1.25" fill="#27308e" stroke="#15163a" stroke-width="0.6"/>
<circle cx="59.40" cy="156.10" r="1.25" fill="#27308e" stroke="#15163a" stroke-width="0.6"/>
<circle cx="49.70" cy="162.00" r="1.25" fill="#27308e" stroke="#15163a" stroke-width="0.6"/>
<circle cx="55.90" cy="162.60" r="1.25" fill="#27308e" stroke="#15163a" stroke-width="0.6"/>
<circle cx="53.40" cy="167.40" r="1.25" fill="#27308e" stroke="#15163a" stroke-width="0.6"/>
<circle cx="59.40" cy="166.90" r="1.25" fill="#27308e" stroke="#15163a" stroke-width="0.6"/>
<circle cx="49.70" cy="171.70" r="1.25" fill="#27308e" stroke="#15163a" stroke-width="0.6"/>
<circle cx="51.30" cy="173.30" r="1.25" fill="#27308e" stroke="#15163a" stroke-width="0.6"/>
<circle cx="56.10" cy="175.50" r="1.25" fill="#27308e" stroke="#15163a" stroke-width="0.6"/>
<circle cx="32.20" cy="161.20" r="1.25" fill="#27308e" stroke="#15163a" stroke-width="0.6"/>
<circle cx="36.00" cy="174.20" r="1.25" fill="#27308e" stroke="#15163a" stroke-width="0.6"/>
<circle cx="38.30" cy="177.30" r="1.25" fill="#27308e" stroke="#15163a" stroke-width="0.6"/>
<circle cx="52.00" cy="177.00" r="1.25" fill="#27308e" stroke="#15163a" stroke-width="0.6"/>
<circle cx="47.00" cy="178.00" r="1.25" fill="#27308e" stroke="#15163a" stroke-width="0.6"/>
<circle cx="55.00" cy="145.00" r="1.25" fill="#27308e" stroke="#15163a" stroke-width="0.6"/>
<circle cx="56.00" cy="142.00" r="1.25" fill="#27308e" stroke="#15163a" stroke-width="0.6"/>
<polygon points="85.8,180.5 86.0,172.0 87.5,168.0 90.5,168.0 92.0,172.0 92.5,180.5" fill="#cb1a1f" />
<path d="M88.0,179.2a1.4,1.4 0 1,0 2.8,0a1.4,1.4 0 1,0 -2.8,0M85.4,168.3a1.4,1.4 0 1,0 2.8,0a1.4,1.4 0 1,0 -2.8,0M88.0,169.3a1.4,1.4 0 1,0 2.8,0a1.4,1.4 0 1,0 -2.8,0M85.0,179.5a1.4,1.4 0 1,0 2.8,0a1.4,1.4 0 1,0 -2.8,0M89.5,178.8a1.4,1.4 0 1,0 2.8,0a1.4,1.4 0 1,0 -2.8,0M85.1,177.0a1.4,1.4 0 1,0 2.8,0a1.4,1.4 0 1,0 -2.8,0M84.6,172.8a1.4,1.4 0 1,0 2.8,0a1.4,1.4 0 1,0 -2.8,0M89.1,169.9a1.4,1.4 0 1,0 2.8,0a1.4,1.4 0 1,0 -2.8,0M91.2,173.2a1.4,1.4 0 1,0 2.8,0a1.4,1.4 0 1,0 -2.8,0M88.6,178.6a1.4,1.4 0 1,0 2.8,0a1.4,1.4 0 1,0 -2.8,0M84.5,180.4a1.4,1.4 0 1,0 2.8,0a1.4,1.4 0 1,0 -2.8,0M89.1,170.5a1.4,1.4 0 1,0 2.8,0a1.4,1.4 0 1,0 -2.8,0M90.5,168.4a1.4,1.4 0 1,0 2.8,0a1.4,1.4 0 1,0 -2.8,0M86.7,176.6a1.4,1.4 0 1,0 2.8,0a1.4,1.4 0 1,0 -2.8,0M87.4,166.9a1.4,1.4 0 1,0 2.8,0a1.4,1.4 0 1,0 -2.8,0M90.1,164.8a1.4,1.4 0 1,0 2.8,0a1.4,1.4 0 1,0 -2.8,0M90.7,168.2a1.4,1.4 0 1,0 2.8,0a1.4,1.4 0 1,0 -2.8,0M89.2,180.2a1.4,1.4 0 1,0 2.8,0a1.4,1.4 0 1,0 -2.8,0M88.7,175.0a1.4,1.4 0 1,0 2.8,0a1.4,1.4 0 1,0 -2.8,0M89.0,171.1a1.4,1.4 0 1,0 2.8,0a1.4,1.4 0 1,0 -2.8,0M88.1,178.8a1.4,1.4 0 1,0 2.8,0a1.4,1.4 0 1,0 -2.8,0M84.7,167.7a1.4,1.4 0 1,0 2.8,0a1.4,1.4 0 1,0 -2.8,0M84.5,169.9a1.4,1.4 0 1,0 2.8,0a1.4,1.4 0 1,0 -2.8,0M85.6,173.6a1.4,1.4 0 1,0 2.8,0a1.4,1.4 0 1,0 -2.8,0M88.7,167.4a1.4,1.4 0 1,0 2.8,0a1.4,1.4 0 1,0 -2.8,0M89.0,171.8a1.4,1.4 0 1,0 2.8,0a1.4,1.4 0 1,0 -2.8,0M84.8,179.5a1.4,1.4 0 1,0 2.8,0a1.4,1.4 0 1,0 -2.8,0M85.7,166.5a1.4,1.4 0 1,0 2.8,0a1.4,1.4 0 1,0 -2.8,0M84.4,174.5a1.4,1.4 0 1,0 2.8,0a1.4,1.4 0 1,0 -2.8,0M91.2,176.9a1.4,1.4 0 1,0 2.8,0a1.4,1.4 0 1,0 -2.8,0M87.1,168.4a1.4,1.4 0 1,0 2.8,0a1.4,1.4 0 1,0 -2.8,0M83.7,174.6a1.4,1.4 0 1,0 2.8,0a1.4,1.4 0 1,0 -2.8,0M88.5,169.8a1.4,1.4 0 1,0 2.8,0a1.4,1.4 0 1,0 -2.8,0M89.2,171.3a1.4,1.4 0 1,0 2.8,0a1.4,1.4 0 1,0 -2.8,0M91.8,176.1a1.4,1.4 0 1,0 2.8,0a1.4,1.4 0 1,0 -2.8,0M85.8,178.9a1.4,1.4 0 1,0 2.8,0a1.4,1.4 0 1,0 -2.8,0M84.0,172.8a1.4,1.4 0 1,0 2.8,0a1.4,1.4 0 1,0 -2.8,0M87.1,167.9a1.4,1.4 0 1,0 2.8,0a1.4,1.4 0 1,0 -2.8,0M84.1,176.9a1.4,1.4 0 1,0 2.8,0a1.4,1.4 0 1,0 -2.8,0M83.7,173.1a1.4,1.4 0 1,0 2.8,0a1.4,1.4 0 1,0 -2.8,0" fill="#cb1a1f"/>
<path d="M87.4,176.3a0.5,0.5 0 1,0 1.0,0a0.5,0.5 0 1,0 -1.0,0M88.8,176.5a0.5,0.5 0 1,0 1.0,0a0.5,0.5 0 1,0 -1.0,0M90.2,173.2a0.5,0.5 0 1,0 1.0,0a0.5,0.5 0 1,0 -1.0,0M87.9,174.1a0.5,0.5 0 1,0 1.0,0a0.5,0.5 0 1,0 -1.0,0" fill="#ffffff"/>
<circle cx="98.00" cy="107.40" r="1.25" fill="#cb1a1f" stroke="#6a0a0e" stroke-width="0.55"/>
<circle cx="91.40" cy="120.30" r="1.25" fill="#cb1a1f" stroke="#6a0a0e" stroke-width="0.55"/>
<circle cx="104.50" cy="134.00" r="1.25" fill="#cb1a1f" stroke="#6a0a0e" stroke-width="0.55"/>
<circle cx="89.80" cy="140.80" r="1.25" fill="#cb1a1f" stroke="#6a0a0e" stroke-width="0.55"/>
<circle cx="90.00" cy="154.20" r="1.25" fill="#cb1a1f" stroke="#6a0a0e" stroke-width="0.55"/>
<circle cx="96.70" cy="154.60" r="1.25" fill="#cb1a1f" stroke="#6a0a0e" stroke-width="0.55"/>
<circle cx="113.30" cy="152.50" r="1.25" fill="#cb1a1f" stroke="#6a0a0e" stroke-width="0.55"/>
<circle cx="128.00" cy="165.00" r="1.25" fill="#cb1a1f" stroke="#6a0a0e" stroke-width="0.55"/>
<circle cx="87.50" cy="164.20" r="1.25" fill="#cb1a1f" stroke="#6a0a0e" stroke-width="0.55"/>
<circle cx="91.70" cy="165.00" r="1.25" fill="#cb1a1f" stroke="#6a0a0e" stroke-width="0.55"/>
<circle cx="106.70" cy="170.00" r="1.25" fill="#cb1a1f" stroke="#6a0a0e" stroke-width="0.55"/>
<circle cx="108.30" cy="170.40" r="1.25" fill="#cb1a1f" stroke="#6a0a0e" stroke-width="0.55"/>
<circle cx="105.40" cy="171.20" r="1.25" fill="#cb1a1f" stroke="#6a0a0e" stroke-width="0.55"/>
<circle cx="95.40" cy="179.60" r="1.25" fill="#cb1a1f" stroke="#6a0a0e" stroke-width="0.55"/>
<circle cx="94.50" cy="175.00" r="1.25" fill="#cb1a1f" stroke="#6a0a0e" stroke-width="0.55"/>
<line x1="73.60" y1="33.30" x2="73.60" y2="201.70" stroke="#111" stroke-width="0.95" stroke-dasharray="4.3,4.2"/>
<line x1="85.60" y1="33.30" x2="85.60" y2="201.70" stroke="#111" stroke-width="0.95" stroke-dasharray="4.3,4.2"/>
<line x1="26.30" y1="180.55" x2="143.50" y2="180.55" stroke="#222" stroke-width="0.9" stroke-dasharray="4.3,4.2"/>
<rect x="26.30" y="33.30" width="117.20" height="168.40" fill="none" stroke="#333" stroke-width="0.9" />
<line x1="49.60" y1="201.70" x2="49.60" y2="203.70" stroke="#333" stroke-width="0.7" />
<text x="49.60" y="211.30" font-size="7" text-anchor="middle" fill="#333" stroke="#333" stroke-width="0.12" >−5</text>
<line x1="79.60" y1="201.70" x2="79.60" y2="203.70" stroke="#333" stroke-width="0.7" />
<text x="79.60" y="211.30" font-size="7" text-anchor="middle" fill="#333" stroke="#333" stroke-width="0.12" >0</text>
<line x1="109.60" y1="201.70" x2="109.60" y2="203.70" stroke="#333" stroke-width="0.7" />
<text x="109.60" y="211.30" font-size="7" text-anchor="middle" fill="#333" stroke="#333" stroke-width="0.12" >5</text>
<line x1="139.60" y1="201.70" x2="139.60" y2="203.70" stroke="#333" stroke-width="0.7" />
<text x="139.60" y="211.30" font-size="7" text-anchor="middle" fill="#333" stroke="#333" stroke-width="0.12" >10</text>
<line x1="24.30" y1="194.20" x2="26.30" y2="194.20" stroke="#333" stroke-width="0.7" />
<text x="23.80" y="196.70" font-size="7" text-anchor="end" fill="#333" stroke="#333" stroke-width="0.12" >0</text>
<line x1="24.30" y1="141.70" x2="26.30" y2="141.70" stroke="#333" stroke-width="0.7" />
<text x="23.80" y="144.20" font-size="7" text-anchor="end" fill="#333" stroke="#333" stroke-width="0.12" >5</text>
<line x1="24.30" y1="89.20" x2="26.30" y2="89.20" stroke="#333" stroke-width="0.7" />
<text x="23.80" y="91.70" font-size="7" text-anchor="end" fill="#333" stroke="#333" stroke-width="0.12" >10</text>
<line x1="24.30" y1="36.70" x2="26.30" y2="36.70" stroke="#333" stroke-width="0.7" />
<text x="23.80" y="39.20" font-size="7" text-anchor="end" fill="#333" stroke="#333" stroke-width="0.12" >15</text>
<circle cx="116.50" cy="50.00" r="2.1" fill="#a3181c" />
<text x="122.50" y="52.60" font-size="6.6" text-anchor="start" fill="#333" stroke="#333" stroke-width="0.12" >Up</text>
<circle cx="116.50" cy="61.00" r="2.1" fill="#1c2163" />
<text x="122.50" y="63.60" font-size="6.6" text-anchor="start" fill="#333" stroke="#333" stroke-width="0.12" >Down</text>
<circle cx="116.50" cy="72.00" r="2.1" fill="#7c7c7c" />
<text x="122.50" y="74.60" font-size="6.6" text-anchor="start" fill="#333" stroke="#333" stroke-width="0.12" >NS</text>
<text x="64.50" y="39.50" font-size="5.6" text-anchor="start" fill="#40468e" stroke="#40468e" stroke-width="0.12" >Itga8</text>
<text x="51.00" y="48.00" font-size="5.6" text-anchor="start" fill="#40468e" stroke="#40468e" stroke-width="0.12" >C7</text>
<text x="55.50" y="56.00" font-size="5.6" text-anchor="start" fill="#40468e" stroke="#40468e" stroke-width="0.12" >Npr3</text>
<text x="47.00" y="66.00" font-size="5.6" text-anchor="start" fill="#40468e" stroke="#40468e" stroke-width="0.12" >Lrat</text>
<text x="47.00" y="90.00" font-size="5.6" text-anchor="start" fill="#40468e" stroke="#40468e" stroke-width="0.12" >Abca8a</text>
<text x="68.00" y="92.00" font-size="5.6" text-anchor="start" fill="#40468e" stroke="#40468e" stroke-width="0.12" >Fzd1</text>
<text x="68.00" y="99.50" font-size="5.6" text-anchor="start" fill="#40468e" stroke="#40468e" stroke-width="0.12" >Scn7a</text>
<text x="48.50" y="103.00" font-size="5.6" text-anchor="start" fill="#40468e" stroke="#40468e" stroke-width="0.12" >Fosb</text>
<text x="67.80" y="108.00" font-size="5.6" text-anchor="start" fill="#40468e" stroke="#40468e" stroke-width="0.12" >Mapt</text>
<text x="44.50" y="113.50" font-size="5.6" text-anchor="start" fill="#40468e" stroke="#40468e" stroke-width="0.12" >Tspan18</text>
<text x="99.50" y="104.80" font-size="5.6" text-anchor="start" fill="#c8282c" stroke="#c8282c" stroke-width="0.12" >Ivl</text>
<text x="79.80" y="127.00" font-size="5.6" text-anchor="start" fill="#c8282c" stroke="#c8282c" stroke-width="0.12" >Hspa1b</text>
<text x="102.00" y="131.00" font-size="5.6" text-anchor="start" fill="#c8282c" stroke="#c8282c" stroke-width="0.12" >Folr2</text>
<text x="82.00" y="147.40" font-size="5.6" text-anchor="start" fill="#c8282c" stroke="#c8282c" stroke-width="0.12" >Ptprn</text>
<text x="66.30" y="154.80" font-size="5.6" text-anchor="start" fill="#c8282c" stroke="#c8282c" stroke-width="0.12" >Kcnn2</text>
<text x="78.30" y="162.40" font-size="5.6" text-anchor="start" fill="#c8282c" stroke="#c8282c" stroke-width="0.12" >Pmvk</text>
<text x="93.70" y="162.40" font-size="5.6" text-anchor="start" fill="#c8282c" stroke="#c8282c" stroke-width="0.12" >Spp1</text>
<text x="110.00" y="150.50" font-size="5.6" text-anchor="start" fill="#c8282c" stroke="#c8282c" stroke-width="0.12" >Npy</text>
<text x="121.00" y="163.50" font-size="5.6" text-anchor="start" fill="#c8282c" stroke="#c8282c" stroke-width="0.12" >Apoc-ps</text>
<text x="92.00" y="171.60" font-size="5.6" text-anchor="start" fill="#c8282c" stroke="#c8282c" stroke-width="0.12" >Ier1a</text>
<line x1="78.30" y1="153.00" x2="89.80" y2="154.20" stroke="#333" stroke-width="0.6" />
<polygon points="183.0,186.3 219.3,186.3 224.6,192.5 229.4,186.3 262.0,186.3 263.0,189.0 258.0,192.0 245.0,193.5 224.6,194.6 210.0,194.6 196.0,193.0 186.0,191.0 182.0,188.5" fill="#8a8a8a" />
<path d="M244.2,192.2a1.2,1.2 0 1,0 2.4,0a1.2,1.2 0 1,0 -2.4,0M241.2,190.2a1.2,1.2 0 1,0 2.4,0a1.2,1.2 0 1,0 -2.4,0M240.9,190.1a1.2,1.2 0 1,0 2.4,0a1.2,1.2 0 1,0 -2.4,0M199.1,187.2a1.2,1.2 0 1,0 2.4,0a1.2,1.2 0 1,0 -2.4,0M199.6,186.6a1.2,1.2 0 1,0 2.4,0a1.2,1.2 0 1,0 -2.4,0M208.0,192.5a1.2,1.2 0 1,0 2.4,0a1.2,1.2 0 1,0 -2.4,0M237.1,193.3a1.2,1.2 0 1,0 2.4,0a1.2,1.2 0 1,0 -2.4,0M238.4,188.5a1.2,1.2 0 1,0 2.4,0a1.2,1.2 0 1,0 -2.4,0M225.7,189.9a1.2,1.2 0 1,0 2.4,0a1.2,1.2 0 1,0 -2.4,0M244.7,190.6a1.2,1.2 0 1,0 2.4,0a1.2,1.2 0 1,0 -2.4,0M202.3,191.6a1.2,1.2 0 1,0 2.4,0a1.2,1.2 0 1,0 -2.4,0M259.0,188.1a1.2,1.2 0 1,0 2.4,0a1.2,1.2 0 1,0 -2.4,0M252.1,186.4a1.2,1.2 0 1,0 2.4,0a1.2,1.2 0 1,0 -2.4,0M201.9,188.3a1.2,1.2 0 1,0 2.4,0a1.2,1.2 0 1,0 -2.4,0M241.2,189.0a1.2,1.2 0 1,0 2.4,0a1.2,1.2 0 1,0 -2.4,0M252.1,189.0a1.2,1.2 0 1,0 2.4,0a1.2,1.2 0 1,0 -2.4,0M231.9,192.1a1.2,1.2 0 1,0 2.4,0a1.2,1.2 0 1,0 -2.4,0M218.8,193.3a1.2,1.2 0 1,0 2.4,0a1.2,1.2 0 1,0 -2.4,0M237.3,193.4a1.2,1.2 0 1,0 2.4,0a1.2,1.2 0 1,0 -2.4,0M216.2,192.3a1.2,1.2 0 1,0 2.4,0a1.2,1.2 0 1,0 -2.4,0M227.0,188.9a1.2,1.2 0 1,0 2.4,0a1.2,1.2 0 1,0 -2.4,0M198.0,191.5a1.2,1.2 0 1,0 2.4,0a1.2,1.2 0 1,0 -2.4,0M192.5,186.5a1.2,1.2 0 1,0 2.4,0a1.2,1.2 0 1,0 -2.4,0M208.7,187.5a1.2,1.2 0 1,0 2.4,0a1.2,1.2 0 1,0 -2.4,0M183.1,186.6a1.2,1.2 0 1,0 2.4,0a1.2,1.2 0 1,0 -2.4,0M236.9,191.6a1.2,1.2 0 1,0 2.4,0a1.2,1.2 0 1,0 -2.4,0M237.3,192.4a1.2,1.2 0 1,0 2.4,0a1.2,1.2 0 1,0 -2.4,0M186.1,191.2a1.2,1.2 0 1,0 2.4,0a1.2,1.2 0 1,0 -2.4,0M210.2,193.1a1.2,1.2 0 1,0 2.4,0a1.2,1.2 0 1,0 -2.4,0M189.5,188.0a1.2,1.2 0 1,0 2.4,0a1.2,1.2 0 1,0 -2.4,0M189.9,186.6a1.2,1.2 0 1,0 2.4,0a1.2,1.2 0 1,0 -2.4,0M232.2,193.1a1.2,1.2 0 1,0 2.4,0a1.2,1.2 0 1,0 -2.4,0M232.0,188.7a1.2,1.2 0 1,0 2.4,0a1.2,1.2 0 1,0 -2.4,0M188.9,187.1a1.2,1.2 0 1,0 2.4,0a1.2,1.2 0 1,0 -2.4,0M242.1,188.0a1.2,1.2 0 1,0 2.4,0a1.2,1.2 0 1,0 -2.4,0M206.7,189.8a1.2,1.2 0 1,0 2.4,0a1.2,1.2 0 1,0 -2.4,0M182.5,188.4a1.2,1.2 0 1,0 2.4,0a1.2,1.2 0 1,0 -2.4,0M203.7,192.2a1.2,1.2 0 1,0 2.4,0a1.2,1.2 0 1,0 -2.4,0M210.6,189.0a1.2,1.2 0 1,0 2.4,0a1.2,1.2 0 1,0 -2.4,0M258.9,190.5a1.2,1.2 0 1,0 2.4,0a1.2,1.2 0 1,0 -2.4,0M249.8,191.4a1.2,1.2 0 1,0 2.4,0a1.2,1.2 0 1,0 -2.4,0M183.3,189.7a1.2,1.2 0 1,0 2.4,0a1.2,1.2 0 1,0 -2.4,0M216.2,192.7a1.2,1.2 0 1,0 2.4,0a1.2,1.2 0 1,0 -2.4,0M208.9,192.1a1.2,1.2 0 1,0 2.4,0a1.2,1.2 0 1,0 -2.4,0M250.6,187.1a1.2,1.2 0 1,0 2.4,0a1.2,1.2 0 1,0 -2.4,0M247.2,187.7a1.2,1.2 0 1,0 2.4,0a1.2,1.2 0 1,0 -2.4,0M220.6,192.9a1.2,1.2 0 1,0 2.4,0a1.2,1.2 0 1,0 -2.4,0M195.7,190.4a1.2,1.2 0 1,0 2.4,0a1.2,1.2 0 1,0 -2.4,0M208.9,193.2a1.2,1.2 0 1,0 2.4,0a1.2,1.2 0 1,0 -2.4,0M203.8,188.1a1.2,1.2 0 1,0 2.4,0a1.2,1.2 0 1,0 -2.4,0M237.5,190.4a1.2,1.2 0 1,0 2.4,0a1.2,1.2 0 1,0 -2.4,0M189.7,191.6a1.2,1.2 0 1,0 2.4,0a1.2,1.2 0 1,0 -2.4,0M237.3,192.8a1.2,1.2 0 1,0 2.4,0a1.2,1.2 0 1,0 -2.4,0M231.7,189.3a1.2,1.2 0 1,0 2.4,0a1.2,1.2 0 1,0 -2.4,0M213.3,189.6a1.2,1.2 0 1,0 2.4,0a1.2,1.2 0 1,0 -2.4,0M252.9,187.0a1.2,1.2 0 1,0 2.4,0a1.2,1.2 0 1,0 -2.4,0M252.8,186.5a1.2,1.2 0 1,0 2.4,0a1.2,1.2 0 1,0 -2.4,0M197.5,188.5a1.2,1.2 0 1,0 2.4,0a1.2,1.2 0 1,0 -2.4,0M253.8,190.5a1.2,1.2 0 1,0 2.4,0a1.2,1.2 0 1,0 -2.4,0M211.5,193.6a1.2,1.2 0 1,0 2.4,0a1.2,1.2 0 1,0 -2.4,0M199.7,190.1a1.2,1.2 0 1,0 2.4,0a1.2,1.2 0 1,0 -2.4,0M223.9,192.6a1.2,1.2 0 1,0 2.4,0a1.2,1.2 0 1,0 -2.4,0M241.8,191.7a1.2,1.2 0 1,0 2.4,0a1.2,1.2 0 1,0 -2.4,0M209.0,189.0a1.2,1.2 0 1,0 2.4,0a1.2,1.2 0 1,0 -2.4,0M234.4,192.5a1.2,1.2 0 1,0 2.4,0a1.2,1.2 0 1,0 -2.4,0M194.5,189.9a1.2,1.2 0 1,0 2.4,0a1.2,1.2 0 1,0 -2.4,0M243.4,191.1a1.2,1.2 0 1,0 2.4,0a1.2,1.2 0 1,0 -2.4,0M191.0,190.1a1.2,1.2 0 1,0 2.4,0a1.2,1.2 0 1,0 -2.4,0M252.5,188.3a1.2,1.2 0 1,0 2.4,0a1.2,1.2 0 1,0 -2.4,0M196.3,188.8a1.2,1.2 0 1,0 2.4,0a1.2,1.2 0 1,0 -2.4,0M237.8,193.3a1.2,1.2 0 1,0 2.4,0a1.2,1.2 0 1,0 -2.4,0M193.3,187.6a1.2,1.2 0 1,0 2.4,0a1.2,1.2 0 1,0 -2.4,0M200.9,189.0a1.2,1.2 0 1,0 2.4,0a1.2,1.2 0 1,0 -2.4,0M207.4,187.9a1.2,1.2 0 1,0 2.4,0a1.2,1.2 0 1,0 -2.4,0M189.0,189.5a1.2,1.2 0 1,0 2.4,0a1.2,1.2 0 1,0 -2.4,0M240.2,189.9a1.2,1.2 0 1,0 2.4,0a1.2,1.2 0 1,0 -2.4,0M196.7,191.6a1.2,1.2 0 1,0 2.4,0a1.2,1.2 0 1,0 -2.4,0M189.5,188.0a1.2,1.2 0 1,0 2.4,0a1.2,1.2 0 1,0 -2.4,0M212.3,186.6a1.2,1.2 0 1,0 2.4,0a1.2,1.2 0 1,0 -2.4,0M213.1,192.9a1.2,1.2 0 1,0 2.4,0a1.2,1.2 0 1,0 -2.4,0M237.0,190.5a1.2,1.2 0 1,0 2.4,0a1.2,1.2 0 1,0 -2.4,0M232.0,190.1a1.2,1.2 0 1,0 2.4,0a1.2,1.2 0 1,0 -2.4,0M192.3,191.3a1.2,1.2 0 1,0 2.4,0a1.2,1.2 0 1,0 -2.4,0M213.6,192.4a1.2,1.2 0 1,0 2.4,0a1.2,1.2 0 1,0 -2.4,0M254.3,189.9a1.2,1.2 0 1,0 2.4,0a1.2,1.2 0 1,0 -2.4,0M227.3,192.5a1.2,1.2 0 1,0 2.4,0a1.2,1.2 0 1,0 -2.4,0M214.9,188.2a1.2,1.2 0 1,0 2.4,0a1.2,1.2 0 1,0 -2.4,0M239.3,193.6a1.2,1.2 0 1,0 2.4,0a1.2,1.2 0 1,0 -2.4,0M243.5,192.1a1.2,1.2 0 1,0 2.4,0a1.2,1.2 0 1,0 -2.4,0M249.8,191.9a1.2,1.2 0 1,0 2.4,0a1.2,1.2 0 1,0 -2.4,0M232.8,190.1a1.2,1.2 0 1,0 2.4,0a1.2,1.2 0 1,0 -2.4,0M206.2,191.5a1.2,1.2 0 1,0 2.4,0a1.2,1.2 0 1,0 -2.4,0M188.7,189.8a1.2,1.2 0 1,0 2.4,0a1.2,1.2 0 1,0 -2.4,0M244.2,192.2a1.2,1.2 0 1,0 2.4,0a1.2,1.2 0 1,0 -2.4,0M231.8,188.4a1.2,1.2 0 1,0 2.4,0a1.2,1.2 0 1,0 -2.4,0M215.1,190.1a1.2,1.2 0 1,0 2.4,0a1.2,1.2 0 1,0 -2.4,0M231.1,189.7a1.2,1.2 0 1,0 2.4,0a1.2,1.2 0 1,0 -2.4,0M195.6,191.7a1.2,1.2 0 1,0 2.4,0a1.2,1.2 0 1,0 -2.4,0M243.8,189.5a1.2,1.2 0 1,0 2.4,0a1.2,1.2 0 1,0 -2.4,0M220.5,194.4a1.2,1.2 0 1,0 2.4,0a1.2,1.2 0 1,0 -2.4,0M193.8,192.8a1.2,1.2 0 1,0 2.4,0a1.2,1.2 0 1,0 -2.4,0M257.0,190.6a1.2,1.2 0 1,0 2.4,0a1.2,1.2 0 1,0 -2.4,0M189.0,191.1a1.2,1.2 0 1,0 2.4,0a1.2,1.2 0 1,0 -2.4,0M224.6,192.3a1.2,1.2 0 1,0 2.4,0a1.2,1.2 0 1,0 -2.4,0M222.3,191.6a1.2,1.2 0 1,0 2.4,0a1.2,1.2 0 1,0 -2.4,0M247.9,190.6a1.2,1.2 0 1,0 2.4,0a1.2,1.2 0 1,0 -2.4,0M214.0,194.2a1.2,1.2 0 1,0 2.4,0a1.2,1.2 0 1,0 -2.4,0M197.8,192.0a1.2,1.2 0 1,0 2.4,0a1.2,1.2 0 1,0 -2.4,0M212.6,192.6a1.2,1.2 0 1,0 2.4,0a1.2,1.2 0 1,0 -2.4,0M209.6,186.8a1.2,1.2 0 1,0 2.4,0a1.2,1.2 0 1,0 -2.4,0M203.0,189.6a1.2,1.2 0 1,0 2.4,0a1.2,1.2 0 1,0 -2.4,0M214.9,192.1a1.2,1.2 0 1,0 2.4,0a1.2,1.2 0 1,0 -2.4,0M209.3,188.5a1.2,1.2 0 1,0 2.4,0a1.2,1.2 0 1,0 -2.4,0M199.0,192.5a1.2,1.2 0 1,0 2.4,0a1.2,1.2 0 1,0 -2.4,0M256.9,190.7a1.2,1.2 0 1,0 2.4,0a1.2,1.2 0 1,0 -2.4,0M198.5,193.0a1.2,1.2 0 1,0 2.4,0a1.2,1.2 0 1,0 -2.4,0M212.5,188.1a1.2,1.2 0 1,0 2.4,0a1.2,1.2 0 1,0 -2.4,0M246.4,191.6a1.2,1.2 0 1,0 2.4,0a1.2,1.2 0 1,0 -2.4,0M218.8,191.0a1.2,1.2 0 1,0 2.4,0a1.2,1.2 0 1,0 -2.4,0M209.4,191.6a1.2,1.2 0 1,0 2.4,0a1.2,1.2 0 1,0 -2.4,0M247.1,193.1a1.2,1.2 0 1,0 2.4,0a1.2,1.2 0 1,0 -2.4,0M218.7,188.7a1.2,1.2 0 1,0 2.4,0a1.2,1.2 0 1,0 -2.4,0M248.3,189.2a1.2,1.2 0 1,0 2.4,0a1.2,1.2 0 1,0 -2.4,0M249.7,188.5a1.2,1.2 0 1,0 2.4,0a1.2,1.2 0 1,0 -2.4,0M211.3,188.4a1.2,1.2 0 1,0 2.4,0a1.2,1.2 0 1,0 -2.4,0M215.3,187.8a1.2,1.2 0 1,0 2.4,0a1.2,1.2 0 1,0 -2.4,0M203.6,188.3a1.2,1.2 0 1,0 2.4,0a1.2,1.2 0 1,0 -2.4,0M205.2,190.3a1.2,1.2 0 1,0 2.4,0a1.2,1.2 0 1,0 -2.4,0M215.5,191.6a1.2,1.2 0 1,0 2.4,0a1.2,1.2 0 1,0 -2.4,0M234.2,189.3a1.2,1.2 0 1,0 2.4,0a1.2,1.2 0 1,0 -2.4,0M232.1,186.4a1.2,1.2 0 1,0 2.4,0a1.2,1.2 0 1,0 -2.4,0M233.9,188.4a1.2,1.2 0 1,0 2.4,0a1.2,1.2 0 1,0 -2.4,0M189.0,187.5a1.2,1.2 0 1,0 2.4,0a1.2,1.2 0 1,0 -2.4,0M199.7,192.7a1.2,1.2 0 1,0 2.4,0a1.2,1.2 0 1,0 -2.4,0M208.9,187.6a1.2,1.2 0 1,0 2.4,0a1.2,1.2 0 1,0 -2.4,0M230.1,192.8a1.2,1.2 0 1,0 2.4,0a1.2,1.2 0 1,0 -2.4,0M234.9,193.7a1.2,1.2 0 1,0 2.4,0a1.2,1.2 0 1,0 -2.4,0M244.6,193.3a1.2,1.2 0 1,0 2.4,0a1.2,1.2 0 1,0 -2.4,0M196.8,192.1a1.2,1.2 0 1,0 2.4,0a1.2,1.2 0 1,0 -2.4,0M223.8,192.5a1.2,1.2 0 1,0 2.4,0a1.2,1.2 0 1,0 -2.4,0M216.3,193.6a1.2,1.2 0 1,0 2.4,0a1.2,1.2 0 1,0 -2.4,0M199.8,187.5a1.2,1.2 0 1,0 2.4,0a1.2,1.2 0 1,0 -2.4,0M218.6,187.5a1.2,1.2 0 1,0 2.4,0a1.2,1.2 0 1,0 -2.4,0M220.6,190.4a1.2,1.2 0 1,0 2.4,0a1.2,1.2 0 1,0 -2.4,0M224.5,193.5a1.2,1.2 0 1,0 2.4,0a1.2,1.2 0 1,0 -2.4,0M218.7,191.0a1.2,1.2 0 1,0 2.4,0a1.2,1.2 0 1,0 -2.4,0M234.7,193.3a1.2,1.2 0 1,0 2.4,0a1.2,1.2 0 1,0 -2.4,0M211.2,189.8a1.2,1.2 0 1,0 2.4,0a1.2,1.2 0 1,0 -2.4,0M258.6,186.9a1.2,1.2 0 1,0 2.4,0a1.2,1.2 0 1,0 -2.4,0M232.4,191.6a1.2,1.2 0 1,0 2.4,0a1.2,1.2 0 1,0 -2.4,0" fill="#8a8a8a"/>
<circle cx="170.80" cy="187.30" r="1.2" fill="#8a8a8a" />
<circle cx="176.00" cy="187.50" r="1.2" fill="#8a8a8a" />
<circle cx="188.00" cy="192.50" r="1.2" fill="#8a8a8a" />
<circle cx="187.00" cy="190.00" r="1.2" fill="#8a8a8a" />
<circle cx="265.00" cy="188.00" r="1.2" fill="#8a8a8a" />
<circle cx="184.00" cy="192.50" r="1.2" fill="#8a8a8a" />
<path d="M204.6,148.6a1.4,1.4 0 1,0 2.8,0a1.4,1.4 0 1,0 -2.8,0M196.4,149.6a1.4,1.4 0 1,0 2.8,0a1.4,1.4 0 1,0 -2.8,0M200.6,139.2a1.4,1.4 0 1,0 2.8,0a1.4,1.4 0 1,0 -2.8,0M205.5,142.1a1.4,1.4 0 1,0 2.8,0a1.4,1.4 0 1,0 -2.8,0M196.6,147.1a1.4,1.4 0 1,0 2.8,0a1.4,1.4 0 1,0 -2.8,0M197.2,139.0a1.4,1.4 0 1,0 2.8,0a1.4,1.4 0 1,0 -2.8,0M201.0,145.2a1.4,1.4 0 1,0 2.8,0a1.4,1.4 0 1,0 -2.8,0M193.6,138.1a1.4,1.4 0 1,0 2.8,0a1.4,1.4 0 1,0 -2.8,0M198.5,140.6a1.4,1.4 0 1,0 2.8,0a1.4,1.4 0 1,0 -2.8,0M208.1,137.5a1.4,1.4 0 1,0 2.8,0a1.4,1.4 0 1,0 -2.8,0M200.4,134.7a1.4,1.4 0 1,0 2.8,0a1.4,1.4 0 1,0 -2.8,0M200.5,149.5a1.4,1.4 0 1,0 2.8,0a1.4,1.4 0 1,0 -2.8,0M204.0,145.6a1.4,1.4 0 1,0 2.8,0a1.4,1.4 0 1,0 -2.8,0M196.4,135.7a1.4,1.4 0 1,0 2.8,0a1.4,1.4 0 1,0 -2.8,0M195.6,141.3a1.4,1.4 0 1,0 2.8,0a1.4,1.4 0 1,0 -2.8,0M203.5,145.5a1.4,1.4 0 1,0 2.8,0a1.4,1.4 0 1,0 -2.8,0M209.4,140.5a1.4,1.4 0 1,0 2.8,0a1.4,1.4 0 1,0 -2.8,0M204.1,145.6a1.4,1.4 0 1,0 2.8,0a1.4,1.4 0 1,0 -2.8,0M203.1,142.2a1.4,1.4 0 1,0 2.8,0a1.4,1.4 0 1,0 -2.8,0M205.0,141.5a1.4,1.4 0 1,0 2.8,0a1.4,1.4 0 1,0 -2.8,0M204.6,133.5a1.4,1.4 0 1,0 2.8,0a1.4,1.4 0 1,0 -2.8,0M204.3,138.6a1.4,1.4 0 1,0 2.8,0a1.4,1.4 0 1,0 -2.8,0M206.8,148.2a1.4,1.4 0 1,0 2.8,0a1.4,1.4 0 1,0 -2.8,0M204.0,136.7a1.4,1.4 0 1,0 2.8,0a1.4,1.4 0 1,0 -2.8,0M207.9,145.5a1.4,1.4 0 1,0 2.8,0a1.4,1.4 0 1,0 -2.8,0M201.8,134.4a1.4,1.4 0 1,0 2.8,0a1.4,1.4 0 1,0 -2.8,0M195.7,137.9a1.4,1.4 0 1,0 2.8,0a1.4,1.4 0 1,0 -2.8,0M196.1,138.0a1.4,1.4 0 1,0 2.8,0a1.4,1.4 0 1,0 -2.8,0M203.7,148.6a1.4,1.4 0 1,0 2.8,0a1.4,1.4 0 1,0 -2.8,0M207.6,141.1a1.4,1.4 0 1,0 2.8,0a1.4,1.4 0 1,0 -2.8,0M202.5,148.7a1.4,1.4 0 1,0 2.8,0a1.4,1.4 0 1,0 -2.8,0M198.3,131.1a1.4,1.4 0 1,0 2.8,0a1.4,1.4 0 1,0 -2.8,0M203.7,133.5a1.4,1.4 0 1,0 2.8,0a1.4,1.4 0 1,0 -2.8,0M191.5,149.3a1.4,1.4 0 1,0 2.8,0a1.4,1.4 0 1,0 -2.8,0M190.7,147.3a1.4,1.4 0 1,0 2.8,0a1.4,1.4 0 1,0 -2.8,0M205.5,134.1a1.4,1.4 0 1,0 2.8,0a1.4,1.4 0 1,0 -2.8,0M205.8,132.9a1.4,1.4 0 1,0 2.8,0a1.4,1.4 0 1,0 -2.8,0M205.4,147.0a1.4,1.4 0 1,0 2.8,0a1.4,1.4 0 1,0 -2.8,0M203.4,143.9a1.4,1.4 0 1,0 2.8,0a1.4,1.4 0 1,0 -2.8,0M199.4,148.6a1.4,1.4 0 1,0 2.8,0a1.4,1.4 0 1,0 -2.8,0M194.6,149.3a1.4,1.4 0 1,0 2.8,0a1.4,1.4 0 1,0 -2.8,0M195.9,144.3a1.4,1.4 0 1,0 2.8,0a1.4,1.4 0 1,0 -2.8,0M192.5,147.1a1.4,1.4 0 1,0 2.8,0a1.4,1.4 0 1,0 -2.8,0M200.0,130.3a1.4,1.4 0 1,0 2.8,0a1.4,1.4 0 1,0 -2.8,0M197.2,141.1a1.4,1.4 0 1,0 2.8,0a1.4,1.4 0 1,0 -2.8,0M198.9,143.2a1.4,1.4 0 1,0 2.8,0a1.4,1.4 0 1,0 -2.8,0M192.0,145.7a1.4,1.4 0 1,0 2.8,0a1.4,1.4 0 1,0 -2.8,0M197.1,142.5a1.4,1.4 0 1,0 2.8,0a1.4,1.4 0 1,0 -2.8,0M203.4,137.8a1.4,1.4 0 1,0 2.8,0a1.4,1.4 0 1,0 -2.8,0M197.7,145.5a1.4,1.4 0 1,0 2.8,0a1.4,1.4 0 1,0 -2.8,0M210.8,145.5a1.4,1.4 0 1,0 2.8,0a1.4,1.4 0 1,0 -2.8,0M201.9,135.1a1.4,1.4 0 1,0 2.8,0a1.4,1.4 0 1,0 -2.8,0M190.0,149.5a1.4,1.4 0 1,0 2.8,0a1.4,1.4 0 1,0 -2.8,0M205.1,146.4a1.4,1.4 0 1,0 2.8,0a1.4,1.4 0 1,0 -2.8,0M196.4,141.7a1.4,1.4 0 1,0 2.8,0a1.4,1.4 0 1,0 -2.8,0" fill="#27308e"/>
<polygon points="200.0,147.0 209.6,147.0 213.2,158.0 215.6,170.0 218.6,182.0 219.5,186.3 177.4,186.3 182.2,182.0 189.3,176.0 192.9,170.0 196.5,161.5 198.9,150.0" fill="#27308e" />
<path d="M201.4,159.1a1.3,1.3 0 1,0 2.6,0a1.3,1.3 0 1,0 -2.6,0M194.1,181.9a1.3,1.3 0 1,0 2.6,0a1.3,1.3 0 1,0 -2.6,0M192.0,173.9a1.3,1.3 0 1,0 2.6,0a1.3,1.3 0 1,0 -2.6,0M201.4,182.2a1.3,1.3 0 1,0 2.6,0a1.3,1.3 0 1,0 -2.6,0M210.1,158.1a1.3,1.3 0 1,0 2.6,0a1.3,1.3 0 1,0 -2.6,0M193.9,170.1a1.3,1.3 0 1,0 2.6,0a1.3,1.3 0 1,0 -2.6,0M210.5,181.9a1.3,1.3 0 1,0 2.6,0a1.3,1.3 0 1,0 -2.6,0M210.3,181.1a1.3,1.3 0 1,0 2.6,0a1.3,1.3 0 1,0 -2.6,0M200.2,157.8a1.3,1.3 0 1,0 2.6,0a1.3,1.3 0 1,0 -2.6,0M211.9,178.7a1.3,1.3 0 1,0 2.6,0a1.3,1.3 0 1,0 -2.6,0M204.9,182.9a1.3,1.3 0 1,0 2.6,0a1.3,1.3 0 1,0 -2.6,0M199.4,178.3a1.3,1.3 0 1,0 2.6,0a1.3,1.3 0 1,0 -2.6,0M201.7,173.6a1.3,1.3 0 1,0 2.6,0a1.3,1.3 0 1,0 -2.6,0M209.4,165.1a1.3,1.3 0 1,0 2.6,0a1.3,1.3 0 1,0 -2.6,0M208.6,156.2a1.3,1.3 0 1,0 2.6,0a1.3,1.3 0 1,0 -2.6,0M200.5,182.2a1.3,1.3 0 1,0 2.6,0a1.3,1.3 0 1,0 -2.6,0M213.4,167.5a1.3,1.3 0 1,0 2.6,0a1.3,1.3 0 1,0 -2.6,0M196.2,170.2a1.3,1.3 0 1,0 2.6,0a1.3,1.3 0 1,0 -2.6,0M193.0,167.3a1.3,1.3 0 1,0 2.6,0a1.3,1.3 0 1,0 -2.6,0M209.2,153.1a1.3,1.3 0 1,0 2.6,0a1.3,1.3 0 1,0 -2.6,0M201.2,160.6a1.3,1.3 0 1,0 2.6,0a1.3,1.3 0 1,0 -2.6,0M177.5,185.9a1.3,1.3 0 1,0 2.6,0a1.3,1.3 0 1,0 -2.6,0M212.6,166.1a1.3,1.3 0 1,0 2.6,0a1.3,1.3 0 1,0 -2.6,0M200.0,157.3a1.3,1.3 0 1,0 2.6,0a1.3,1.3 0 1,0 -2.6,0M208.9,163.7a1.3,1.3 0 1,0 2.6,0a1.3,1.3 0 1,0 -2.6,0M215.9,177.2a1.3,1.3 0 1,0 2.6,0a1.3,1.3 0 1,0 -2.6,0M210.6,184.9a1.3,1.3 0 1,0 2.6,0a1.3,1.3 0 1,0 -2.6,0M199.6,181.2a1.3,1.3 0 1,0 2.6,0a1.3,1.3 0 1,0 -2.6,0M195.4,184.2a1.3,1.3 0 1,0 2.6,0a1.3,1.3 0 1,0 -2.6,0M201.3,162.6a1.3,1.3 0 1,0 2.6,0a1.3,1.3 0 1,0 -2.6,0M181.1,184.7a1.3,1.3 0 1,0 2.6,0a1.3,1.3 0 1,0 -2.6,0M203.1,184.6a1.3,1.3 0 1,0 2.6,0a1.3,1.3 0 1,0 -2.6,0M204.3,162.4a1.3,1.3 0 1,0 2.6,0a1.3,1.3 0 1,0 -2.6,0M216.8,186.0a1.3,1.3 0 1,0 2.6,0a1.3,1.3 0 1,0 -2.6,0M214.1,182.5a1.3,1.3 0 1,0 2.6,0a1.3,1.3 0 1,0 -2.6,0M209.2,174.9a1.3,1.3 0 1,0 2.6,0a1.3,1.3 0 1,0 -2.6,0M203.3,185.7a1.3,1.3 0 1,0 2.6,0a1.3,1.3 0 1,0 -2.6,0M207.9,183.9a1.3,1.3 0 1,0 2.6,0a1.3,1.3 0 1,0 -2.6,0M204.6,158.7a1.3,1.3 0 1,0 2.6,0a1.3,1.3 0 1,0 -2.6,0M201.0,176.8a1.3,1.3 0 1,0 2.6,0a1.3,1.3 0 1,0 -2.6,0M204.6,147.5a1.3,1.3 0 1,0 2.6,0a1.3,1.3 0 1,0 -2.6,0M206.3,154.7a1.3,1.3 0 1,0 2.6,0a1.3,1.3 0 1,0 -2.6,0M185.4,183.7a1.3,1.3 0 1,0 2.6,0a1.3,1.3 0 1,0 -2.6,0M212.6,181.9a1.3,1.3 0 1,0 2.6,0a1.3,1.3 0 1,0 -2.6,0M180.2,183.5a1.3,1.3 0 1,0 2.6,0a1.3,1.3 0 1,0 -2.6,0M211.6,171.7a1.3,1.3 0 1,0 2.6,0a1.3,1.3 0 1,0 -2.6,0M210.8,165.8a1.3,1.3 0 1,0 2.6,0a1.3,1.3 0 1,0 -2.6,0M202.5,152.6a1.3,1.3 0 1,0 2.6,0a1.3,1.3 0 1,0 -2.6,0M206.1,168.7a1.3,1.3 0 1,0 2.6,0a1.3,1.3 0 1,0 -2.6,0M182.2,181.2a1.3,1.3 0 1,0 2.6,0a1.3,1.3 0 1,0 -2.6,0M211.4,160.1a1.3,1.3 0 1,0 2.6,0a1.3,1.3 0 1,0 -2.6,0M189.5,182.5a1.3,1.3 0 1,0 2.6,0a1.3,1.3 0 1,0 -2.6,0M180.9,185.5a1.3,1.3 0 1,0 2.6,0a1.3,1.3 0 1,0 -2.6,0M204.2,155.3a1.3,1.3 0 1,0 2.6,0a1.3,1.3 0 1,0 -2.6,0M196.2,158.2a1.3,1.3 0 1,0 2.6,0a1.3,1.3 0 1,0 -2.6,0M191.4,185.9a1.3,1.3 0 1,0 2.6,0a1.3,1.3 0 1,0 -2.6,0M206.7,158.5a1.3,1.3 0 1,0 2.6,0a1.3,1.3 0 1,0 -2.6,0M210.1,160.4a1.3,1.3 0 1,0 2.6,0a1.3,1.3 0 1,0 -2.6,0M211.1,167.7a1.3,1.3 0 1,0 2.6,0a1.3,1.3 0 1,0 -2.6,0M200.2,152.4a1.3,1.3 0 1,0 2.6,0a1.3,1.3 0 1,0 -2.6,0M206.1,154.7a1.3,1.3 0 1,0 2.6,0a1.3,1.3 0 1,0 -2.6,0M201.7,166.5a1.3,1.3 0 1,0 2.6,0a1.3,1.3 0 1,0 -2.6,0M201.9,174.8a1.3,1.3 0 1,0 2.6,0a1.3,1.3 0 1,0 -2.6,0M210.3,169.9a1.3,1.3 0 1,0 2.6,0a1.3,1.3 0 1,0 -2.6,0M206.9,163.0a1.3,1.3 0 1,0 2.6,0a1.3,1.3 0 1,0 -2.6,0M206.5,149.2a1.3,1.3 0 1,0 2.6,0a1.3,1.3 0 1,0 -2.6,0M210.2,160.2a1.3,1.3 0 1,0 2.6,0a1.3,1.3 0 1,0 -2.6,0M211.5,181.0a1.3,1.3 0 1,0 2.6,0a1.3,1.3 0 1,0 -2.6,0M183.9,179.7a1.3,1.3 0 1,0 2.6,0a1.3,1.3 0 1,0 -2.6,0M191.7,170.4a1.3,1.3 0 1,0 2.6,0a1.3,1.3 0 1,0 -2.6,0M194.9,167.3a1.3,1.3 0 1,0 2.6,0a1.3,1.3 0 1,0 -2.6,0M210.5,181.0a1.3,1.3 0 1,0 2.6,0a1.3,1.3 0 1,0 -2.6,0M189.6,174.9a1.3,1.3 0 1,0 2.6,0a1.3,1.3 0 1,0 -2.6,0M192.2,176.5a1.3,1.3 0 1,0 2.6,0a1.3,1.3 0 1,0 -2.6,0M197.7,167.8a1.3,1.3 0 1,0 2.6,0a1.3,1.3 0 1,0 -2.6,0M198.7,147.8a1.3,1.3 0 1,0 2.6,0a1.3,1.3 0 1,0 -2.6,0M186.6,179.1a1.3,1.3 0 1,0 2.6,0a1.3,1.3 0 1,0 -2.6,0M205.5,154.7a1.3,1.3 0 1,0 2.6,0a1.3,1.3 0 1,0 -2.6,0M200.4,167.6a1.3,1.3 0 1,0 2.6,0a1.3,1.3 0 1,0 -2.6,0M205.7,151.0a1.3,1.3 0 1,0 2.6,0a1.3,1.3 0 1,0 -2.6,0M212.7,175.2a1.3,1.3 0 1,0 2.6,0a1.3,1.3 0 1,0 -2.6,0M196.9,166.7a1.3,1.3 0 1,0 2.6,0a1.3,1.3 0 1,0 -2.6,0M201.0,180.8a1.3,1.3 0 1,0 2.6,0a1.3,1.3 0 1,0 -2.6,0M207.5,153.5a1.3,1.3 0 1,0 2.6,0a1.3,1.3 0 1,0 -2.6,0M210.9,183.8a1.3,1.3 0 1,0 2.6,0a1.3,1.3 0 1,0 -2.6,0M211.5,167.7a1.3,1.3 0 1,0 2.6,0a1.3,1.3 0 1,0 -2.6,0M192.8,184.0a1.3,1.3 0 1,0 2.6,0a1.3,1.3 0 1,0 -2.6,0M208.8,160.3a1.3,1.3 0 1,0 2.6,0a1.3,1.3 0 1,0 -2.6,0M194.4,185.6a1.3,1.3 0 1,0 2.6,0a1.3,1.3 0 1,0 -2.6,0M210.0,182.9a1.3,1.3 0 1,0 2.6,0a1.3,1.3 0 1,0 -2.6,0M210.4,180.3a1.3,1.3 0 1,0 2.6,0a1.3,1.3 0 1,0 -2.6,0M216.4,183.7a1.3,1.3 0 1,0 2.6,0a1.3,1.3 0 1,0 -2.6,0M202.7,161.3a1.3,1.3 0 1,0 2.6,0a1.3,1.3 0 1,0 -2.6,0M198.4,149.7a1.3,1.3 0 1,0 2.6,0a1.3,1.3 0 1,0 -2.6,0M194.3,166.8a1.3,1.3 0 1,0 2.6,0a1.3,1.3 0 1,0 -2.6,0M210.2,181.8a1.3,1.3 0 1,0 2.6,0a1.3,1.3 0 1,0 -2.6,0M203.1,157.4a1.3,1.3 0 1,0 2.6,0a1.3,1.3 0 1,0 -2.6,0M204.7,157.7a1.3,1.3 0 1,0 2.6,0a1.3,1.3 0 1,0 -2.6,0M198.9,183.3a1.3,1.3 0 1,0 2.6,0a1.3,1.3 0 1,0 -2.6,0M202.3,156.8a1.3,1.3 0 1,0 2.6,0a1.3,1.3 0 1,0 -2.6,0M198.0,164.0a1.3,1.3 0 1,0 2.6,0a1.3,1.3 0 1,0 -2.6,0M198.6,152.8a1.3,1.3 0 1,0 2.6,0a1.3,1.3 0 1,0 -2.6,0M211.5,171.0a1.3,1.3 0 1,0 2.6,0a1.3,1.3 0 1,0 -2.6,0M200.1,172.6a1.3,1.3 0 1,0 2.6,0a1.3,1.3 0 1,0 -2.6,0M195.5,168.5a1.3,1.3 0 1,0 2.6,0a1.3,1.3 0 1,0 -2.6,0M201.9,165.4a1.3,1.3 0 1,0 2.6,0a1.3,1.3 0 1,0 -2.6,0M192.2,170.0a1.3,1.3 0 1,0 2.6,0a1.3,1.3 0 1,0 -2.6,0M199.5,166.3a1.3,1.3 0 1,0 2.6,0a1.3,1.3 0 1,0 -2.6,0M188.1,185.8a1.3,1.3 0 1,0 2.6,0a1.3,1.3 0 1,0 -2.6,0M188.5,177.3a1.3,1.3 0 1,0 2.6,0a1.3,1.3 0 1,0 -2.6,0M212.8,164.3a1.3,1.3 0 1,0 2.6,0a1.3,1.3 0 1,0 -2.6,0M194.6,175.9a1.3,1.3 0 1,0 2.6,0a1.3,1.3 0 1,0 -2.6,0M190.9,173.5a1.3,1.3 0 1,0 2.6,0a1.3,1.3 0 1,0 -2.6,0M202.0,180.4a1.3,1.3 0 1,0 2.6,0a1.3,1.3 0 1,0 -2.6,0M210.7,167.3a1.3,1.3 0 1,0 2.6,0a1.3,1.3 0 1,0 -2.6,0M207.2,176.2a1.3,1.3 0 1,0 2.6,0a1.3,1.3 0 1,0 -2.6,0M208.1,165.7a1.3,1.3 0 1,0 2.6,0a1.3,1.3 0 1,0 -2.6,0M209.1,174.8a1.3,1.3 0 1,0 2.6,0a1.3,1.3 0 1,0 -2.6,0M208.3,170.0a1.3,1.3 0 1,0 2.6,0a1.3,1.3 0 1,0 -2.6,0M197.1,184.8a1.3,1.3 0 1,0 2.6,0a1.3,1.3 0 1,0 -2.6,0M200.2,163.4a1.3,1.3 0 1,0 2.6,0a1.3,1.3 0 1,0 -2.6,0M209.1,181.3a1.3,1.3 0 1,0 2.6,0a1.3,1.3 0 1,0 -2.6,0M201.7,161.9a1.3,1.3 0 1,0 2.6,0a1.3,1.3 0 1,0 -2.6,0M195.1,165.0a1.3,1.3 0 1,0 2.6,0a1.3,1.3 0 1,0 -2.6,0M206.5,158.5a1.3,1.3 0 1,0 2.6,0a1.3,1.3 0 1,0 -2.6,0M192.5,168.8a1.3,1.3 0 1,0 2.6,0a1.3,1.3 0 1,0 -2.6,0M209.2,180.4a1.3,1.3 0 1,0 2.6,0a1.3,1.3 0 1,0 -2.6,0M197.1,164.5a1.3,1.3 0 1,0 2.6,0a1.3,1.3 0 1,0 -2.6,0M200.6,150.5a1.3,1.3 0 1,0 2.6,0a1.3,1.3 0 1,0 -2.6,0M211.6,179.9a1.3,1.3 0 1,0 2.6,0a1.3,1.3 0 1,0 -2.6,0M194.1,182.8a1.3,1.3 0 1,0 2.6,0a1.3,1.3 0 1,0 -2.6,0M199.9,166.5a1.3,1.3 0 1,0 2.6,0a1.3,1.3 0 1,0 -2.6,0M214.8,177.4a1.3,1.3 0 1,0 2.6,0a1.3,1.3 0 1,0 -2.6,0M198.8,186.2a1.3,1.3 0 1,0 2.6,0a1.3,1.3 0 1,0 -2.6,0M197.9,167.3a1.3,1.3 0 1,0 2.6,0a1.3,1.3 0 1,0 -2.6,0M204.9,162.3a1.3,1.3 0 1,0 2.6,0a1.3,1.3 0 1,0 -2.6,0M190.9,184.3a1.3,1.3 0 1,0 2.6,0a1.3,1.3 0 1,0 -2.6,0M204.6,167.6a1.3,1.3 0 1,0 2.6,0a1.3,1.3 0 1,0 -2.6,0M193.0,169.1a1.3,1.3 0 1,0 2.6,0a1.3,1.3 0 1,0 -2.6,0M200.3,181.6a1.3,1.3 0 1,0 2.6,0a1.3,1.3 0 1,0 -2.6,0M194.6,171.5a1.3,1.3 0 1,0 2.6,0a1.3,1.3 0 1,0 -2.6,0M198.4,179.1a1.3,1.3 0 1,0 2.6,0a1.3,1.3 0 1,0 -2.6,0M197.7,151.3a1.3,1.3 0 1,0 2.6,0a1.3,1.3 0 1,0 -2.6,0M213.8,174.1a1.3,1.3 0 1,0 2.6,0a1.3,1.3 0 1,0 -2.6,0M210.6,185.9a1.3,1.3 0 1,0 2.6,0a1.3,1.3 0 1,0 -2.6,0M197.6,166.8a1.3,1.3 0 1,0 2.6,0a1.3,1.3 0 1,0 -2.6,0M202.6,170.7a1.3,1.3 0 1,0 2.6,0a1.3,1.3 0 1,0 -2.6,0M191.0,186.1a1.3,1.3 0 1,0 2.6,0a1.3,1.3 0 1,0 -2.6,0M202.9,148.7a1.3,1.3 0 1,0 2.6,0a1.3,1.3 0 1,0 -2.6,0M193.4,178.0a1.3,1.3 0 1,0 2.6,0a1.3,1.3 0 1,0 -2.6,0M211.6,170.0a1.3,1.3 0 1,0 2.6,0a1.3,1.3 0 1,0 -2.6,0M204.2,154.7a1.3,1.3 0 1,0 2.6,0a1.3,1.3 0 1,0 -2.6,0M197.1,168.7a1.3,1.3 0 1,0 2.6,0a1.3,1.3 0 1,0 -2.6,0M198.5,186.2a1.3,1.3 0 1,0 2.6,0a1.3,1.3 0 1,0 -2.6,0M200.3,163.2a1.3,1.3 0 1,0 2.6,0a1.3,1.3 0 1,0 -2.6,0M208.1,151.2a1.3,1.3 0 1,0 2.6,0a1.3,1.3 0 1,0 -2.6,0M198.1,179.3a1.3,1.3 0 1,0 2.6,0a1.3,1.3 0 1,0 -2.6,0M201.9,178.7a1.3,1.3 0 1,0 2.6,0a1.3,1.3 0 1,0 -2.6,0M208.5,159.7a1.3,1.3 0 1,0 2.6,0a1.3,1.3 0 1,0 -2.6,0M206.2,160.9a1.3,1.3 0 1,0 2.6,0a1.3,1.3 0 1,0 -2.6,0M200.6,160.7a1.3,1.3 0 1,0 2.6,0a1.3,1.3 0 1,0 -2.6,0M195.0,162.2a1.3,1.3 0 1,0 2.6,0a1.3,1.3 0 1,0 -2.6,0M200.6,184.7a1.3,1.3 0 1,0 2.6,0a1.3,1.3 0 1,0 -2.6,0M194.6,171.4a1.3,1.3 0 1,0 2.6,0a1.3,1.3 0 1,0 -2.6,0M215.3,180.6a1.3,1.3 0 1,0 2.6,0a1.3,1.3 0 1,0 -2.6,0M189.4,182.3a1.3,1.3 0 1,0 2.6,0a1.3,1.3 0 1,0 -2.6,0M210.4,158.9a1.3,1.3 0 1,0 2.6,0a1.3,1.3 0 1,0 -2.6,0M201.5,184.7a1.3,1.3 0 1,0 2.6,0a1.3,1.3 0 1,0 -2.6,0M197.0,184.3a1.3,1.3 0 1,0 2.6,0a1.3,1.3 0 1,0 -2.6,0M206.3,155.7a1.3,1.3 0 1,0 2.6,0a1.3,1.3 0 1,0 -2.6,0M189.1,181.4a1.3,1.3 0 1,0 2.6,0a1.3,1.3 0 1,0 -2.6,0M196.5,178.2a1.3,1.3 0 1,0 2.6,0a1.3,1.3 0 1,0 -2.6,0M199.7,151.5a1.3,1.3 0 1,0 2.6,0a1.3,1.3 0 1,0 -2.6,0M198.6,162.2a1.3,1.3 0 1,0 2.6,0a1.3,1.3 0 1,0 -2.6,0M204.1,160.4a1.3,1.3 0 1,0 2.6,0a1.3,1.3 0 1,0 -2.6,0M194.8,179.9a1.3,1.3 0 1,0 2.6,0a1.3,1.3 0 1,0 -2.6,0M210.0,153.3a1.3,1.3 0 1,0 2.6,0a1.3,1.3 0 1,0 -2.6,0M191.0,175.4a1.3,1.3 0 1,0 2.6,0a1.3,1.3 0 1,0 -2.6,0M192.0,184.7a1.3,1.3 0 1,0 2.6,0a1.3,1.3 0 1,0 -2.6,0M184.9,184.4a1.3,1.3 0 1,0 2.6,0a1.3,1.3 0 1,0 -2.6,0M197.4,155.9a1.3,1.3 0 1,0 2.6,0a1.3,1.3 0 1,0 -2.6,0M205.8,157.2a1.3,1.3 0 1,0 2.6,0a1.3,1.3 0 1,0 -2.6,0M214.0,170.1a1.3,1.3 0 1,0 2.6,0a1.3,1.3 0 1,0 -2.6,0M201.7,155.4a1.3,1.3 0 1,0 2.6,0a1.3,1.3 0 1,0 -2.6,0M197.7,168.3a1.3,1.3 0 1,0 2.6,0a1.3,1.3 0 1,0 -2.6,0M187.5,177.3a1.3,1.3 0 1,0 2.6,0a1.3,1.3 0 1,0 -2.6,0M192.3,172.8a1.3,1.3 0 1,0 2.6,0a1.3,1.3 0 1,0 -2.6,0M200.0,159.2a1.3,1.3 0 1,0 2.6,0a1.3,1.3 0 1,0 -2.6,0M183.6,180.4a1.3,1.3 0 1,0 2.6,0a1.3,1.3 0 1,0 -2.6,0M214.4,177.5a1.3,1.3 0 1,0 2.6,0a1.3,1.3 0 1,0 -2.6,0M213.3,180.8a1.3,1.3 0 1,0 2.6,0a1.3,1.3 0 1,0 -2.6,0M204.0,160.8a1.3,1.3 0 1,0 2.6,0a1.3,1.3 0 1,0 -2.6,0M193.5,172.9a1.3,1.3 0 1,0 2.6,0a1.3,1.3 0 1,0 -2.6,0M205.5,156.8a1.3,1.3 0 1,0 2.6,0a1.3,1.3 0 1,0 -2.6,0M211.7,160.8a1.3,1.3 0 1,0 2.6,0a1.3,1.3 0 1,0 -2.6,0M202.6,154.1a1.3,1.3 0 1,0 2.6,0a1.3,1.3 0 1,0 -2.6,0M181.0,182.9a1.3,1.3 0 1,0 2.6,0a1.3,1.3 0 1,0 -2.6,0M207.0,175.0a1.3,1.3 0 1,0 2.6,0a1.3,1.3 0 1,0 -2.6,0M203.0,154.1a1.3,1.3 0 1,0 2.6,0a1.3,1.3 0 1,0 -2.6,0M211.4,169.4a1.3,1.3 0 1,0 2.6,0a1.3,1.3 0 1,0 -2.6,0" fill="#27308e"/>
<path d="M206.9,154.9a0.55,0.55 0 1,0 1.1,0a0.55,0.55 0 1,0 -1.1,0M202.4,164.7a0.55,0.55 0 1,0 1.1,0a0.55,0.55 0 1,0 -1.1,0M201.0,149.0a0.55,0.55 0 1,0 1.1,0a0.55,0.55 0 1,0 -1.1,0M200.0,150.0a0.55,0.55 0 1,0 1.1,0a0.55,0.55 0 1,0 -1.1,0M209.1,163.0a0.55,0.55 0 1,0 1.1,0a0.55,0.55 0 1,0 -1.1,0M197.2,167.2a0.55,0.55 0 1,0 1.1,0a0.55,0.55 0 1,0 -1.1,0M198.8,170.0a0.55,0.55 0 1,0 1.1,0a0.55,0.55 0 1,0 -1.1,0M207.4,151.0a0.55,0.55 0 1,0 1.1,0a0.55,0.55 0 1,0 -1.1,0M206.6,158.1a0.55,0.55 0 1,0 1.1,0a0.55,0.55 0 1,0 -1.1,0M207.4,168.1a0.55,0.55 0 1,0 1.1,0a0.55,0.55 0 1,0 -1.1,0M199.9,151.1a0.55,0.55 0 1,0 1.1,0a0.55,0.55 0 1,0 -1.1,0M210.6,158.8a0.55,0.55 0 1,0 1.1,0a0.55,0.55 0 1,0 -1.1,0M207.3,168.1a0.55,0.55 0 1,0 1.1,0a0.55,0.55 0 1,0 -1.1,0M205.5,159.4a0.55,0.55 0 1,0 1.1,0a0.55,0.55 0 1,0 -1.1,0" fill="#ffffff"/>
<path d="M186.3,179.2a0.5,0.5 0 1,0 1.0,0a0.5,0.5 0 1,0 -1.0,0M191.5,176.2a0.5,0.5 0 1,0 1.0,0a0.5,0.5 0 1,0 -1.0,0M195.3,180.9a0.5,0.5 0 1,0 1.0,0a0.5,0.5 0 1,0 -1.0,0M189.2,176.7a0.5,0.5 0 1,0 1.0,0a0.5,0.5 0 1,0 -1.0,0M199.1,178.2a0.5,0.5 0 1,0 1.0,0a0.5,0.5 0 1,0 -1.0,0M193.1,172.0a0.5,0.5 0 1,0 1.0,0a0.5,0.5 0 1,0 -1.0,0" fill="#ffffff"/>
<circle cx="195.00" cy="40.50" r="1.25" fill="#27308e" stroke="#15163a" stroke-width="0.6"/>
<circle cx="189.00" cy="74.00" r="1.25" fill="#27308e" stroke="#15163a" stroke-width="0.6"/>
<circle cx="201.75" cy="96.75" r="1.25" fill="#27308e" stroke="#15163a" stroke-width="0.6"/>
<circle cx="197.70" cy="104.50" r="1.25" fill="#27308e" stroke="#15163a" stroke-width="0.6"/>
<circle cx="203.80" cy="117.80" r="1.25" fill="#27308e" stroke="#15163a" stroke-width="0.6"/>
<circle cx="207.70" cy="117.30" r="1.25" fill="#27308e" stroke="#15163a" stroke-width="0.6"/>
<circle cx="200.30" cy="123.50" r="1.25" fill="#27308e" stroke="#15163a" stroke-width="0.6"/>
<circle cx="206.20" cy="123.00" r="1.25" fill="#27308e" stroke="#15163a" stroke-width="0.6"/>
<circle cx="210.00" cy="125.00" r="1.25" fill="#27308e" stroke="#15163a" stroke-width="0.6"/>
<circle cx="194.60" cy="127.30" r="1.25" fill="#27308e" stroke="#15163a" stroke-width="0.6"/>
<circle cx="195.70" cy="130.70" r="1.25" fill="#27308e" stroke="#15163a" stroke-width="0.6"/>
<circle cx="201.50" cy="132.70" r="1.25" fill="#27308e" stroke="#15163a" stroke-width="0.6"/>
<circle cx="187.70" cy="134.20" r="1.25" fill="#27308e" stroke="#15163a" stroke-width="0.6"/>
<circle cx="198.50" cy="138.80" r="1.25" fill="#27308e" stroke="#15163a" stroke-width="0.6"/>
<circle cx="207.70" cy="139.60" r="1.25" fill="#27308e" stroke="#15163a" stroke-width="0.6"/>
<circle cx="168.90" cy="147.80" r="1.25" fill="#27308e" stroke="#15163a" stroke-width="0.6"/>
<circle cx="187.40" cy="148.80" r="1.25" fill="#27308e" stroke="#15163a" stroke-width="0.6"/>
<circle cx="187.70" cy="154.20" r="1.25" fill="#27308e" stroke="#15163a" stroke-width="0.6"/>
<circle cx="182.80" cy="159.20" r="1.25" fill="#27308e" stroke="#15163a" stroke-width="0.6"/>
<circle cx="176.60" cy="164.20" r="1.25" fill="#27308e" stroke="#15163a" stroke-width="0.6"/>
<circle cx="176.20" cy="168.80" r="1.25" fill="#27308e" stroke="#15163a" stroke-width="0.6"/>
<circle cx="180.00" cy="170.40" r="1.25" fill="#27308e" stroke="#15163a" stroke-width="0.6"/>
<circle cx="177.70" cy="175.80" r="1.25" fill="#27308e" stroke="#15163a" stroke-width="0.6"/>
<circle cx="181.50" cy="180.40" r="1.25" fill="#27308e" stroke="#15163a" stroke-width="0.6"/>
<circle cx="165.40" cy="184.70" r="1.25" fill="#27308e" stroke="#15163a" stroke-width="0.6"/>
<circle cx="187.80" cy="134.30" r="1.25" fill="#27308e" stroke="#15163a" stroke-width="0.6"/>
<circle cx="194.80" cy="130.40" r="1.25" fill="#27308e" stroke="#15163a" stroke-width="0.6"/>
<circle cx="208.00" cy="139.80" r="1.25" fill="#27308e" stroke="#15163a" stroke-width="0.6"/>
<circle cx="195.50" cy="144.40" r="1.25" fill="#27308e" stroke="#15163a" stroke-width="0.6"/>
<circle cx="201.00" cy="144.40" r="1.25" fill="#27308e" stroke="#15163a" stroke-width="0.6"/>
<circle cx="204.80" cy="142.90" r="1.25" fill="#27308e" stroke="#15163a" stroke-width="0.6"/>
<circle cx="187.00" cy="149.00" r="1.25" fill="#27308e" stroke="#15163a" stroke-width="0.6"/>
<circle cx="187.80" cy="153.70" r="1.25" fill="#27308e" stroke="#15163a" stroke-width="0.6"/>
<circle cx="183.10" cy="158.40" r="1.25" fill="#27308e" stroke="#15163a" stroke-width="0.6"/>
<circle cx="192.00" cy="146.00" r="1.25" fill="#27308e" stroke="#15163a" stroke-width="0.6"/>
<circle cx="190.00" cy="158.00" r="1.25" fill="#27308e" stroke="#15163a" stroke-width="0.6"/>
<circle cx="185.00" cy="165.00" r="1.25" fill="#27308e" stroke="#15163a" stroke-width="0.6"/>
<circle cx="182.00" cy="170.00" r="1.25" fill="#27308e" stroke="#15163a" stroke-width="0.6"/>
<circle cx="179.00" cy="178.00" r="1.25" fill="#27308e" stroke="#15163a" stroke-width="0.6"/>
<circle cx="176.00" cy="182.00" r="1.25" fill="#27308e" stroke="#15163a" stroke-width="0.6"/>
<circle cx="212.00" cy="143.00" r="1.25" fill="#27308e" stroke="#15163a" stroke-width="0.6"/>
<circle cx="186.90" cy="149.00" r="1.25" fill="#27308e" stroke="#15163a" stroke-width="0.6"/>
<circle cx="188.10" cy="154.30" r="1.25" fill="#27308e" stroke="#15163a" stroke-width="0.6"/>
<circle cx="182.80" cy="159.10" r="1.25" fill="#27308e" stroke="#15163a" stroke-width="0.6"/>
<circle cx="192.90" cy="154.90" r="1.25" fill="#27308e" stroke="#15163a" stroke-width="0.6"/>
<circle cx="195.90" cy="144.80" r="1.25" fill="#27308e" stroke="#15163a" stroke-width="0.6"/>
<circle cx="200.70" cy="144.80" r="1.25" fill="#27308e" stroke="#15163a" stroke-width="0.6"/>
<circle cx="204.20" cy="142.40" r="1.25" fill="#27308e" stroke="#15163a" stroke-width="0.6"/>
<circle cx="176.80" cy="164.50" r="1.25" fill="#27308e" stroke="#15163a" stroke-width="0.6"/>
<circle cx="176.20" cy="168.60" r="1.25" fill="#27308e" stroke="#15163a" stroke-width="0.6"/>
<circle cx="179.80" cy="171.00" r="1.25" fill="#27308e" stroke="#15163a" stroke-width="0.6"/>
<circle cx="178.00" cy="175.80" r="1.25" fill="#27308e" stroke="#15163a" stroke-width="0.6"/>
<circle cx="194.00" cy="165.00" r="1.25" fill="#27308e" stroke="#15163a" stroke-width="0.6"/>
<circle cx="191.00" cy="172.00" r="1.25" fill="#27308e" stroke="#15163a" stroke-width="0.6"/>
<circle cx="186.00" cy="178.00" r="1.25" fill="#27308e" stroke="#15163a" stroke-width="0.6"/>
<circle cx="183.00" cy="180.00" r="1.25" fill="#27308e" stroke="#15163a" stroke-width="0.6"/>
<circle cx="207.00" cy="144.00" r="1.25" fill="#27308e" stroke="#15163a" stroke-width="0.6"/>
<circle cx="211.00" cy="148.00" r="1.25" fill="#27308e" stroke="#15163a" stroke-width="0.6"/>
<circle cx="196.00" cy="150.00" r="1.25" fill="#27308e" stroke="#15163a" stroke-width="0.6"/>
<circle cx="202.00" cy="146.00" r="1.25" fill="#27308e" stroke="#15163a" stroke-width="0.6"/>
<circle cx="205.00" cy="146.50" r="1.25" fill="#27308e" stroke="#15163a" stroke-width="0.6"/>
<circle cx="208.00" cy="146.00" r="1.25" fill="#27308e" stroke="#15163a" stroke-width="0.6"/>
<circle cx="199.00" cy="147.50" r="1.25" fill="#27308e" stroke="#15163a" stroke-width="0.6"/>
<circle cx="203.50" cy="144.50" r="1.25" fill="#27308e" stroke="#15163a" stroke-width="0.6"/>
<polygon points="230.0,186.3 230.0,163.0 232.0,160.5 235.5,160.5 236.5,165.0 239.0,170.0 241.5,175.0 244.5,180.0 248.0,186.3" fill="#cb1a1f" />
<path d="M229.8,167.5a1.4,1.4 0 1,0 2.8,0a1.4,1.4 0 1,0 -2.8,0M239.1,162.9a1.4,1.4 0 1,0 2.8,0a1.4,1.4 0 1,0 -2.8,0M236.4,161.0a1.4,1.4 0 1,0 2.8,0a1.4,1.4 0 1,0 -2.8,0M246.9,176.6a1.4,1.4 0 1,0 2.8,0a1.4,1.4 0 1,0 -2.8,0M234.5,164.1a1.4,1.4 0 1,0 2.8,0a1.4,1.4 0 1,0 -2.8,0M241.8,170.0a1.4,1.4 0 1,0 2.8,0a1.4,1.4 0 1,0 -2.8,0M236.1,182.9a1.4,1.4 0 1,0 2.8,0a1.4,1.4 0 1,0 -2.8,0M231.9,173.5a1.4,1.4 0 1,0 2.8,0a1.4,1.4 0 1,0 -2.8,0M237.0,180.9a1.4,1.4 0 1,0 2.8,0a1.4,1.4 0 1,0 -2.8,0M242.7,179.3a1.4,1.4 0 1,0 2.8,0a1.4,1.4 0 1,0 -2.8,0M232.7,176.5a1.4,1.4 0 1,0 2.8,0a1.4,1.4 0 1,0 -2.8,0M244.0,170.5a1.4,1.4 0 1,0 2.8,0a1.4,1.4 0 1,0 -2.8,0M248.4,181.4a1.4,1.4 0 1,0 2.8,0a1.4,1.4 0 1,0 -2.8,0M231.2,165.5a1.4,1.4 0 1,0 2.8,0a1.4,1.4 0 1,0 -2.8,0M237.7,163.0a1.4,1.4 0 1,0 2.8,0a1.4,1.4 0 1,0 -2.8,0M229.8,165.2a1.4,1.4 0 1,0 2.8,0a1.4,1.4 0 1,0 -2.8,0M233.4,177.6a1.4,1.4 0 1,0 2.8,0a1.4,1.4 0 1,0 -2.8,0M236.8,170.7a1.4,1.4 0 1,0 2.8,0a1.4,1.4 0 1,0 -2.8,0M237.8,161.9a1.4,1.4 0 1,0 2.8,0a1.4,1.4 0 1,0 -2.8,0M230.4,178.0a1.4,1.4 0 1,0 2.8,0a1.4,1.4 0 1,0 -2.8,0M231.1,171.3a1.4,1.4 0 1,0 2.8,0a1.4,1.4 0 1,0 -2.8,0M239.7,162.6a1.4,1.4 0 1,0 2.8,0a1.4,1.4 0 1,0 -2.8,0M244.8,184.4a1.4,1.4 0 1,0 2.8,0a1.4,1.4 0 1,0 -2.8,0M234.7,161.1a1.4,1.4 0 1,0 2.8,0a1.4,1.4 0 1,0 -2.8,0M228.9,179.7a1.4,1.4 0 1,0 2.8,0a1.4,1.4 0 1,0 -2.8,0M233.1,175.7a1.4,1.4 0 1,0 2.8,0a1.4,1.4 0 1,0 -2.8,0M250.5,184.2a1.4,1.4 0 1,0 2.8,0a1.4,1.4 0 1,0 -2.8,0M232.6,180.0a1.4,1.4 0 1,0 2.8,0a1.4,1.4 0 1,0 -2.8,0M236.8,162.4a1.4,1.4 0 1,0 2.8,0a1.4,1.4 0 1,0 -2.8,0M237.9,173.1a1.4,1.4 0 1,0 2.8,0a1.4,1.4 0 1,0 -2.8,0M237.9,181.4a1.4,1.4 0 1,0 2.8,0a1.4,1.4 0 1,0 -2.8,0M234.5,158.2a1.4,1.4 0 1,0 2.8,0a1.4,1.4 0 1,0 -2.8,0M243.2,175.4a1.4,1.4 0 1,0 2.8,0a1.4,1.4 0 1,0 -2.8,0M252.1,184.7a1.4,1.4 0 1,0 2.8,0a1.4,1.4 0 1,0 -2.8,0M241.3,171.6a1.4,1.4 0 1,0 2.8,0a1.4,1.4 0 1,0 -2.8,0M232.4,165.8a1.4,1.4 0 1,0 2.8,0a1.4,1.4 0 1,0 -2.8,0M239.9,185.4a1.4,1.4 0 1,0 2.8,0a1.4,1.4 0 1,0 -2.8,0M239.8,162.6a1.4,1.4 0 1,0 2.8,0a1.4,1.4 0 1,0 -2.8,0M250.4,182.1a1.4,1.4 0 1,0 2.8,0a1.4,1.4 0 1,0 -2.8,0M235.7,176.4a1.4,1.4 0 1,0 2.8,0a1.4,1.4 0 1,0 -2.8,0M241.8,169.3a1.4,1.4 0 1,0 2.8,0a1.4,1.4 0 1,0 -2.8,0M237.1,169.9a1.4,1.4 0 1,0 2.8,0a1.4,1.4 0 1,0 -2.8,0M245.8,181.2a1.4,1.4 0 1,0 2.8,0a1.4,1.4 0 1,0 -2.8,0M236.0,170.0a1.4,1.4 0 1,0 2.8,0a1.4,1.4 0 1,0 -2.8,0M233.4,159.5a1.4,1.4 0 1,0 2.8,0a1.4,1.4 0 1,0 -2.8,0M236.7,170.5a1.4,1.4 0 1,0 2.8,0a1.4,1.4 0 1,0 -2.8,0M251.0,185.5a1.4,1.4 0 1,0 2.8,0a1.4,1.4 0 1,0 -2.8,0M246.1,174.8a1.4,1.4 0 1,0 2.8,0a1.4,1.4 0 1,0 -2.8,0M236.0,173.7a1.4,1.4 0 1,0 2.8,0a1.4,1.4 0 1,0 -2.8,0M237.3,182.9a1.4,1.4 0 1,0 2.8,0a1.4,1.4 0 1,0 -2.8,0M228.9,162.5a1.4,1.4 0 1,0 2.8,0a1.4,1.4 0 1,0 -2.8,0M230.4,176.4a1.4,1.4 0 1,0 2.8,0a1.4,1.4 0 1,0 -2.8,0M238.0,174.0a1.4,1.4 0 1,0 2.8,0a1.4,1.4 0 1,0 -2.8,0M239.2,172.5a1.4,1.4 0 1,0 2.8,0a1.4,1.4 0 1,0 -2.8,0M243.1,168.6a1.4,1.4 0 1,0 2.8,0a1.4,1.4 0 1,0 -2.8,0M231.2,162.3a1.4,1.4 0 1,0 2.8,0a1.4,1.4 0 1,0 -2.8,0M231.2,182.3a1.4,1.4 0 1,0 2.8,0a1.4,1.4 0 1,0 -2.8,0M234.9,159.8a1.4,1.4 0 1,0 2.8,0a1.4,1.4 0 1,0 -2.8,0M241.1,173.2a1.4,1.4 0 1,0 2.8,0a1.4,1.4 0 1,0 -2.8,0M234.2,173.8a1.4,1.4 0 1,0 2.8,0a1.4,1.4 0 1,0 -2.8,0M231.2,172.0a1.4,1.4 0 1,0 2.8,0a1.4,1.4 0 1,0 -2.8,0M239.8,182.3a1.4,1.4 0 1,0 2.8,0a1.4,1.4 0 1,0 -2.8,0M242.7,177.9a1.4,1.4 0 1,0 2.8,0a1.4,1.4 0 1,0 -2.8,0M230.9,181.3a1.4,1.4 0 1,0 2.8,0a1.4,1.4 0 1,0 -2.8,0M238.5,162.0a1.4,1.4 0 1,0 2.8,0a1.4,1.4 0 1,0 -2.8,0M234.5,167.9a1.4,1.4 0 1,0 2.8,0a1.4,1.4 0 1,0 -2.8,0M228.6,174.4a1.4,1.4 0 1,0 2.8,0a1.4,1.4 0 1,0 -2.8,0M233.8,165.8a1.4,1.4 0 1,0 2.8,0a1.4,1.4 0 1,0 -2.8,0M232.6,178.8a1.4,1.4 0 1,0 2.8,0a1.4,1.4 0 1,0 -2.8,0M237.2,179.4a1.4,1.4 0 1,0 2.8,0a1.4,1.4 0 1,0 -2.8,0M246.2,181.2a1.4,1.4 0 1,0 2.8,0a1.4,1.4 0 1,0 -2.8,0M231.4,167.9a1.4,1.4 0 1,0 2.8,0a1.4,1.4 0 1,0 -2.8,0M247.7,184.8a1.4,1.4 0 1,0 2.8,0a1.4,1.4 0 1,0 -2.8,0M242.7,180.5a1.4,1.4 0 1,0 2.8,0a1.4,1.4 0 1,0 -2.8,0M231.2,184.1a1.4,1.4 0 1,0 2.8,0a1.4,1.4 0 1,0 -2.8,0M233.3,170.1a1.4,1.4 0 1,0 2.8,0a1.4,1.4 0 1,0 -2.8,0M231.1,180.5a1.4,1.4 0 1,0 2.8,0a1.4,1.4 0 1,0 -2.8,0M233.1,173.2a1.4,1.4 0 1,0 2.8,0a1.4,1.4 0 1,0 -2.8,0M235.9,177.1a1.4,1.4 0 1,0 2.8,0a1.4,1.4 0 1,0 -2.8,0M238.3,161.2a1.4,1.4 0 1,0 2.8,0a1.4,1.4 0 1,0 -2.8,0" fill="#cb1a1f"/>
<circle cx="249.00" cy="74.00" r="1.25" fill="#cb1a1f" stroke="#6a0a0e" stroke-width="0.55"/>
<circle cx="254.30" cy="124.70" r="1.25" fill="#cb1a1f" stroke="#6a0a0e" stroke-width="0.55"/>
<circle cx="249.30" cy="126.80" r="1.25" fill="#cb1a1f" stroke="#6a0a0e" stroke-width="0.55"/>
<circle cx="248.30" cy="130.00" r="1.25" fill="#cb1a1f" stroke="#6a0a0e" stroke-width="0.55"/>
<circle cx="239.00" cy="133.90" r="1.25" fill="#cb1a1f" stroke="#6a0a0e" stroke-width="0.55"/>
<circle cx="253.20" cy="138.20" r="1.25" fill="#cb1a1f" stroke="#6a0a0e" stroke-width="0.55"/>
<circle cx="238.20" cy="140.80" r="1.25" fill="#cb1a1f" stroke="#6a0a0e" stroke-width="0.55"/>
<circle cx="238.60" cy="143.50" r="1.25" fill="#cb1a1f" stroke="#6a0a0e" stroke-width="0.55"/>
<circle cx="242.90" cy="146.10" r="1.25" fill="#cb1a1f" stroke="#6a0a0e" stroke-width="0.55"/>
<circle cx="245.70" cy="146.10" r="1.25" fill="#cb1a1f" stroke="#6a0a0e" stroke-width="0.55"/>
<circle cx="237.50" cy="146.80" r="1.25" fill="#cb1a1f" stroke="#6a0a0e" stroke-width="0.55"/>
<circle cx="241.10" cy="146.80" r="1.25" fill="#cb1a1f" stroke="#6a0a0e" stroke-width="0.55"/>
<circle cx="245.30" cy="146.80" r="1.25" fill="#cb1a1f" stroke="#6a0a0e" stroke-width="0.55"/>
<circle cx="245.90" cy="155.10" r="1.25" fill="#cb1a1f" stroke="#6a0a0e" stroke-width="0.55"/>
<circle cx="254.20" cy="156.30" r="1.25" fill="#cb1a1f" stroke="#6a0a0e" stroke-width="0.55"/>
<circle cx="234.50" cy="158.10" r="1.25" fill="#cb1a1f" stroke="#6a0a0e" stroke-width="0.55"/>
<circle cx="239.90" cy="158.70" r="1.25" fill="#cb1a1f" stroke="#6a0a0e" stroke-width="0.55"/>
<circle cx="241.70" cy="160.50" r="1.25" fill="#cb1a1f" stroke="#6a0a0e" stroke-width="0.55"/>
<circle cx="244.10" cy="162.30" r="1.25" fill="#cb1a1f" stroke="#6a0a0e" stroke-width="0.55"/>
<circle cx="250.10" cy="159.90" r="1.25" fill="#cb1a1f" stroke="#6a0a0e" stroke-width="0.55"/>
<circle cx="249.50" cy="162.90" r="1.25" fill="#cb1a1f" stroke="#6a0a0e" stroke-width="0.55"/>
<circle cx="254.20" cy="164.10" r="1.25" fill="#cb1a1f" stroke="#6a0a0e" stroke-width="0.55"/>
<circle cx="260.20" cy="163.50" r="1.25" fill="#cb1a1f" stroke="#6a0a0e" stroke-width="0.55"/>
<circle cx="242.90" cy="169.50" r="1.25" fill="#cb1a1f" stroke="#6a0a0e" stroke-width="0.55"/>
<circle cx="251.30" cy="171.80" r="1.25" fill="#cb1a1f" stroke="#6a0a0e" stroke-width="0.55"/>
<circle cx="257.20" cy="171.80" r="1.25" fill="#cb1a1f" stroke="#6a0a0e" stroke-width="0.55"/>
<circle cx="260.80" cy="171.80" r="1.25" fill="#cb1a1f" stroke="#6a0a0e" stroke-width="0.55"/>
<circle cx="267.40" cy="172.40" r="1.25" fill="#cb1a1f" stroke="#6a0a0e" stroke-width="0.55"/>
<circle cx="270.30" cy="168.90" r="1.25" fill="#cb1a1f" stroke="#6a0a0e" stroke-width="0.55"/>
<circle cx="247.70" cy="173.00" r="1.25" fill="#cb1a1f" stroke="#6a0a0e" stroke-width="0.55"/>
<circle cx="247.10" cy="176.00" r="1.25" fill="#cb1a1f" stroke="#6a0a0e" stroke-width="0.55"/>
<circle cx="254.20" cy="177.20" r="1.25" fill="#cb1a1f" stroke="#6a0a0e" stroke-width="0.55"/>
<circle cx="260.20" cy="177.80" r="1.25" fill="#cb1a1f" stroke="#6a0a0e" stroke-width="0.55"/>
<circle cx="266.20" cy="179.60" r="1.25" fill="#cb1a1f" stroke="#6a0a0e" stroke-width="0.55"/>
<circle cx="248.30" cy="180.80" r="1.25" fill="#cb1a1f" stroke="#6a0a0e" stroke-width="0.55"/>
<circle cx="253.60" cy="180.80" r="1.25" fill="#cb1a1f" stroke="#6a0a0e" stroke-width="0.55"/>
<circle cx="257.80" cy="183.20" r="1.25" fill="#cb1a1f" stroke="#6a0a0e" stroke-width="0.55"/>
<circle cx="263.20" cy="183.20" r="1.25" fill="#cb1a1f" stroke="#6a0a0e" stroke-width="0.55"/>
<circle cx="271.50" cy="183.20" r="1.25" fill="#cb1a1f" stroke="#6a0a0e" stroke-width="0.55"/>
<circle cx="240.00" cy="165.00" r="1.25" fill="#cb1a1f" stroke="#6a0a0e" stroke-width="0.55"/>
<circle cx="244.00" cy="178.00" r="1.25" fill="#cb1a1f" stroke="#6a0a0e" stroke-width="0.55"/>
<circle cx="252.00" cy="185.00" r="1.25" fill="#cb1a1f" stroke="#6a0a0e" stroke-width="0.55"/>
<circle cx="245.00" cy="183.00" r="1.25" fill="#cb1a1f" stroke="#6a0a0e" stroke-width="0.55"/>
<line x1="253.20" y1="138.20" x2="260.70" y2="141.00" stroke="#333" stroke-width="0.6" />
<line x1="238.00" y1="139.50" x2="238.00" y2="148.50" stroke="#222" stroke-width="0.7" />
<line x1="219.20" y1="33.50" x2="219.20" y2="202.00" stroke="#111" stroke-width="0.95" stroke-dasharray="4.3,4.2"/>
<line x1="230.00" y1="33.50" x2="230.00" y2="202.00" stroke="#111" stroke-width="0.95" stroke-dasharray="4.3,4.2"/>
<line x1="160.20" y1="186.86" x2="276.00" y2="186.86" stroke="#222" stroke-width="0.9" stroke-dasharray="4.3,4.2"/>
<rect x="160.20" y="33.50" width="115.80" height="168.50" fill="none" stroke="#333" stroke-width="0.9" />
<line x1="170.60" y1="202.00" x2="170.60" y2="204.00" stroke="#333" stroke-width="0.7" />
<text x="170.60" y="211.60" font-size="7" text-anchor="middle" fill="#333" stroke="#333" stroke-width="0.12" >−10</text>
<line x1="197.60" y1="202.00" x2="197.60" y2="204.00" stroke="#333" stroke-width="0.7" />
<text x="197.60" y="211.60" font-size="7" text-anchor="middle" fill="#333" stroke="#333" stroke-width="0.12" >−5</text>
<line x1="224.60" y1="202.00" x2="224.60" y2="204.00" stroke="#333" stroke-width="0.7" />
<text x="224.60" y="211.60" font-size="7" text-anchor="middle" fill="#333" stroke="#333" stroke-width="0.12" >0</text>
<line x1="251.60" y1="202.00" x2="251.60" y2="204.00" stroke="#333" stroke-width="0.7" />
<text x="251.60" y="211.60" font-size="7" text-anchor="middle" fill="#333" stroke="#333" stroke-width="0.12" >5</text>
<line x1="158.20" y1="194.60" x2="160.20" y2="194.60" stroke="#333" stroke-width="0.7" />
<text x="157.70" y="197.10" font-size="7" text-anchor="end" fill="#333" stroke="#333" stroke-width="0.12" >0</text>
<line x1="158.20" y1="135.10" x2="160.20" y2="135.10" stroke="#333" stroke-width="0.7" />
<text x="157.70" y="137.60" font-size="7" text-anchor="end" fill="#333" stroke="#333" stroke-width="0.12" >10</text>
<line x1="158.20" y1="75.60" x2="160.20" y2="75.60" stroke="#333" stroke-width="0.7" />
<text x="157.70" y="78.10" font-size="7" text-anchor="end" fill="#333" stroke="#333" stroke-width="0.12" >20</text>
<text x="197.50" y="39.50" font-size="5.6" text-anchor="start" fill="#40468e" stroke="#40468e" stroke-width="0.12" >Hpgd</text>
<text x="186.00" y="71.50" font-size="5.6" text-anchor="start" fill="#40468e" stroke="#40468e" stroke-width="0.12" >Clca3</text>
<text x="198.00" y="94.50" font-size="5.6" text-anchor="start" fill="#40468e" stroke="#40468e" stroke-width="0.12" >Gzma</text>
<text x="190.00" y="102.50" font-size="5.6" text-anchor="start" fill="#40468e" stroke="#40468e" stroke-width="0.12" >Ogn</text>
<text x="186.20" y="115.00" font-size="5.6" text-anchor="start" fill="#40468e" stroke="#40468e" stroke-width="0.12" >Mamdc2</text>
<text x="209.20" y="115.00" font-size="5.6" text-anchor="start" fill="#40468e" stroke="#40468e" stroke-width="0.12" >Akap2</text>
<text x="175.40" y="122.40" font-size="5.6" text-anchor="start" fill="#40468e" stroke="#40468e" stroke-width="0.12" >Tmem100</text>
<text x="210.50" y="122.40" font-size="5.6" text-anchor="start" fill="#40468e" stroke="#40468e" stroke-width="0.12" >Sdcr</text>
<text x="189.20" y="130.30" font-size="5.6" text-anchor="start" fill="#40468e" stroke="#40468e" stroke-width="0.12" >Abi3bp</text>
<text x="209.00" y="130.30" font-size="5.6" text-anchor="start" fill="#40468e" stroke="#40468e" stroke-width="0.12" >Cav1</text>
<text x="243.00" y="71.50" font-size="5.6" text-anchor="start" fill="#c8282c" stroke="#c8282c" stroke-width="0.12" >Sprr2a2</text>
<text x="237.00" y="80.00" font-size="5.6" text-anchor="start" fill="#c8282c" stroke="#c8282c" stroke-width="0.12" >Sprr2a1</text>
<text x="238.50" y="123.20" font-size="5.6" text-anchor="start" fill="#c8282c" stroke="#c8282c" stroke-width="0.12" >Padi1</text>
<text x="255.30" y="121.70" font-size="5.6" text-anchor="start" fill="#c8282c" stroke="#c8282c" stroke-width="0.12" >Rnase2a</text>
<text x="230.00" y="132.50" font-size="5.6" text-anchor="start" fill="#c8282c" stroke="#c8282c" stroke-width="0.12" >Ndrg1</text>
<text x="245.70" y="135.90" font-size="5.6" text-anchor="start" fill="#c8282c" stroke="#c8282c" stroke-width="0.12" >Fbp1</text>
<text x="216.70" y="139.10" font-size="5.6" text-anchor="start" fill="#c8282c" stroke="#c8282c" stroke-width="0.12" >Gm18821</text>
<text x="241.20" y="144.90" font-size="5.6" text-anchor="start" fill="#c8282c" stroke="#c8282c" stroke-width="0.12" >Prss22</text>
<text x="260.70" y="143.80" font-size="5.6" text-anchor="start" fill="#c8282c" stroke="#c8282c" stroke-width="0.12" >Ctse</text>
<text x="216.00" y="153.00" font-size="5.6" text-anchor="start" fill="#c8282c" stroke="#c8282c" stroke-width="0.12" >Atp6v0d2</text>
<defs><clipPath id="tc"><circle cx="327.5" cy="56.4" r="22.2"/></clipPath></defs>
<circle cx="358.2" cy="54.4" r="37.7" fill="#e2c6e2"/>
<circle cx="327.5" cy="56.4" r="22.2" fill="#88d0cd"/>
<circle cx="358.2" cy="54.4" r="37.7" fill="#7db8c6" clip-path="url(#tc)"/>
<text x="296.00" y="25.00" font-size="8.3" text-anchor="start" fill="#222" stroke="#222" stroke-width="0.12" >sgRbm10</text>
<text x="380.00" y="25.00" font-size="8.3" text-anchor="start" fill="#222" stroke="#222" stroke-width="0.12" >sgTrp53</text>
<text x="311.50" y="59.50" font-size="7.2" text-anchor="middle" fill="#222" stroke="#222" stroke-width="0.12" >153</text>
<text x="333.80" y="59.50" font-size="7.2" text-anchor="middle" fill="#222" stroke="#222" stroke-width="0.12" >340</text>
<text x="373.00" y="59.50" font-size="7.2" text-anchor="middle" fill="#222" stroke="#222" stroke-width="0.12" >1,106</text>
<rect x="446.60" y="13.90" width="72.00" height="78.20" fill="none" stroke="#333" stroke-width="0.9" />
<line x1="463.75" y1="92.10" x2="463.75" y2="94.10" stroke="#333" stroke-width="0.7" />
<text x="463.75" y="100.60" font-size="7.2" text-anchor="middle" fill="#333" stroke="#333" stroke-width="0.12" >−5</text>
<line x1="444.60" y1="77.10" x2="446.60" y2="77.10" stroke="#333" stroke-width="0.7" />
<text x="444.00" y="79.60" font-size="7.2" text-anchor="end" fill="#333" stroke="#333" stroke-width="0.12" >−5</text>
<line x1="483.75" y1="92.10" x2="483.75" y2="94.10" stroke="#333" stroke-width="0.7" />
<text x="483.75" y="100.60" font-size="7.2" text-anchor="middle" fill="#333" stroke="#333" stroke-width="0.12" >0</text>
<line x1="444.60" y1="54.10" x2="446.60" y2="54.10" stroke="#333" stroke-width="0.7" />
<text x="444.00" y="56.60" font-size="7.2" text-anchor="end" fill="#333" stroke="#333" stroke-width="0.12" >0</text>
<line x1="503.75" y1="92.10" x2="503.75" y2="94.10" stroke="#333" stroke-width="0.7" />
<text x="503.75" y="100.60" font-size="7.2" text-anchor="middle" fill="#333" stroke="#333" stroke-width="0.12" >5</text>
<line x1="444.60" y1="31.10" x2="446.60" y2="31.10" stroke="#333" stroke-width="0.7" />
<text x="444.00" y="33.60" font-size="7.2" text-anchor="end" fill="#333" stroke="#333" stroke-width="0.12" >5</text>
<text x="452.1" y="23" font-size="7.2" fill="#222" stroke="#222" stroke-width="0.12"><tspan font-style="italic">R</tspan> = 0.84</text>
<text transform="translate(430.5,53.6) rotate(-90)" font-size="8.4" text-anchor="middle" fill="#222" stroke="#222" stroke-width="0.12">log<tspan font-size="5.5" dy="2">2</tspan><tspan dy="-2">FD_sgRbm10</tspan></text>
<text x="481.5" y="112" font-size="8.4" text-anchor="middle" fill="#222" stroke="#222" stroke-width="0.12">log<tspan font-size="5.5" dy="2">2</tspan><tspan dy="-2">FD_sgTrp53</tspan></text>
<polygon points="463.5,63.5 469.0,60.5 475.0,58.2 479.5,58.0 479.5,61.5 476.0,66.0 472.0,70.0 468.0,71.5 465.0,71.0 463.0,67.0" fill="#111" />
<path d="M478.8,57.7a1.15,1.15 0 1,0 2.3,0a1.15,1.15 0 1,0 -2.3,0M469.9,71.9a1.15,1.15 0 1,0 2.3,0a1.15,1.15 0 1,0 -2.3,0M475.9,58.1a1.15,1.15 0 1,0 2.3,0a1.15,1.15 0 1,0 -2.3,0M463.5,71.0a1.15,1.15 0 1,0 2.3,0a1.15,1.15 0 1,0 -2.3,0M473.4,64.0a1.15,1.15 0 1,0 2.3,0a1.15,1.15 0 1,0 -2.3,0M469.4,60.1a1.15,1.15 0 1,0 2.3,0a1.15,1.15 0 1,0 -2.3,0M476.8,64.0a1.15,1.15 0 1,0 2.3,0a1.15,1.15 0 1,0 -2.3,0M464.2,72.3a1.15,1.15 0 1,0 2.3,0a1.15,1.15 0 1,0 -2.3,0M463.2,63.5a1.15,1.15 0 1,0 2.3,0a1.15,1.15 0 1,0 -2.3,0M469.2,67.0a1.15,1.15 0 1,0 2.3,0a1.15,1.15 0 1,0 -2.3,0M467.6,63.3a1.15,1.15 0 1,0 2.3,0a1.15,1.15 0 1,0 -2.3,0M473.3,62.0a1.15,1.15 0 1,0 2.3,0a1.15,1.15 0 1,0 -2.3,0M465.3,65.8a1.15,1.15 0 1,0 2.3,0a1.15,1.15 0 1,0 -2.3,0M465.1,66.9a1.15,1.15 0 1,0 2.3,0a1.15,1.15 0 1,0 -2.3,0M479.7,58.1a1.15,1.15 0 1,0 2.3,0a1.15,1.15 0 1,0 -2.3,0M471.1,70.2a1.15,1.15 0 1,0 2.3,0a1.15,1.15 0 1,0 -2.3,0M472.5,68.0a1.15,1.15 0 1,0 2.3,0a1.15,1.15 0 1,0 -2.3,0M467.1,62.1a1.15,1.15 0 1,0 2.3,0a1.15,1.15 0 1,0 -2.3,0M465.9,70.1a1.15,1.15 0 1,0 2.3,0a1.15,1.15 0 1,0 -2.3,0M474.6,65.9a1.15,1.15 0 1,0 2.3,0a1.15,1.15 0 1,0 -2.3,0M472.6,63.3a1.15,1.15 0 1,0 2.3,0a1.15,1.15 0 1,0 -2.3,0M470.9,64.2a1.15,1.15 0 1,0 2.3,0a1.15,1.15 0 1,0 -2.3,0M466.3,73.8a1.15,1.15 0 1,0 2.3,0a1.15,1.15 0 1,0 -2.3,0M469.5,63.6a1.15,1.15 0 1,0 2.3,0a1.15,1.15 0 1,0 -2.3,0M464.7,61.4a1.15,1.15 0 1,0 2.3,0a1.15,1.15 0 1,0 -2.3,0M468.9,64.9a1.15,1.15 0 1,0 2.3,0a1.15,1.15 0 1,0 -2.3,0M471.2,62.5a1.15,1.15 0 1,0 2.3,0a1.15,1.15 0 1,0 -2.3,0M465.9,62.6a1.15,1.15 0 1,0 2.3,0a1.15,1.15 0 1,0 -2.3,0M474.4,66.6a1.15,1.15 0 1,0 2.3,0a1.15,1.15 0 1,0 -2.3,0M478.6,63.1a1.15,1.15 0 1,0 2.3,0a1.15,1.15 0 1,0 -2.3,0M467.0,70.3a1.15,1.15 0 1,0 2.3,0a1.15,1.15 0 1,0 -2.3,0M468.4,71.8a1.15,1.15 0 1,0 2.3,0a1.15,1.15 0 1,0 -2.3,0M461.2,65.5a1.15,1.15 0 1,0 2.3,0a1.15,1.15 0 1,0 -2.3,0M477.8,62.1a1.15,1.15 0 1,0 2.3,0a1.15,1.15 0 1,0 -2.3,0M473.9,61.1a1.15,1.15 0 1,0 2.3,0a1.15,1.15 0 1,0 -2.3,0M467.8,60.8a1.15,1.15 0 1,0 2.3,0a1.15,1.15 0 1,0 -2.3,0M471.9,71.8a1.15,1.15 0 1,0 2.3,0a1.15,1.15 0 1,0 -2.3,0M472.8,60.7a1.15,1.15 0 1,0 2.3,0a1.15,1.15 0 1,0 -2.3,0M471.9,58.8a1.15,1.15 0 1,0 2.3,0a1.15,1.15 0 1,0 -2.3,0M463.6,66.4a1.15,1.15 0 1,0 2.3,0a1.15,1.15 0 1,0 -2.3,0M478.3,61.0a1.15,1.15 0 1,0 2.3,0a1.15,1.15 0 1,0 -2.3,0M466.4,69.9a1.15,1.15 0 1,0 2.3,0a1.15,1.15 0 1,0 -2.3,0M472.8,64.2a1.15,1.15 0 1,0 2.3,0a1.15,1.15 0 1,0 -2.3,0M473.4,63.1a1.15,1.15 0 1,0 2.3,0a1.15,1.15 0 1,0 -2.3,0M461.0,64.3a1.15,1.15 0 1,0 2.3,0a1.15,1.15 0 1,0 -2.3,0M460.8,67.8a1.15,1.15 0 1,0 2.3,0a1.15,1.15 0 1,0 -2.3,0M466.5,65.7a1.15,1.15 0 1,0 2.3,0a1.15,1.15 0 1,0 -2.3,0M471.8,61.7a1.15,1.15 0 1,0 2.3,0a1.15,1.15 0 1,0 -2.3,0M479.6,58.4a1.15,1.15 0 1,0 2.3,0a1.15,1.15 0 1,0 -2.3,0M472.1,69.4a1.15,1.15 0 1,0 2.3,0a1.15,1.15 0 1,0 -2.3,0M475.2,59.0a1.15,1.15 0 1,0 2.3,0a1.15,1.15 0 1,0 -2.3,0M476.1,64.5a1.15,1.15 0 1,0 2.3,0a1.15,1.15 0 1,0 -2.3,0M470.6,67.2a1.15,1.15 0 1,0 2.3,0a1.15,1.15 0 1,0 -2.3,0M470.9,68.3a1.15,1.15 0 1,0 2.3,0a1.15,1.15 0 1,0 -2.3,0M471.9,63.0a1.15,1.15 0 1,0 2.3,0a1.15,1.15 0 1,0 -2.3,0M474.7,61.8a1.15,1.15 0 1,0 2.3,0a1.15,1.15 0 1,0 -2.3,0M475.4,62.6a1.15,1.15 0 1,0 2.3,0a1.15,1.15 0 1,0 -2.3,0M468.9,62.1a1.15,1.15 0 1,0 2.3,0a1.15,1.15 0 1,0 -2.3,0M469.4,68.3a1.15,1.15 0 1,0 2.3,0a1.15,1.15 0 1,0 -2.3,0M475.3,63.5a1.15,1.15 0 1,0 2.3,0a1.15,1.15 0 1,0 -2.3,0M479.6,61.3a1.15,1.15 0 1,0 2.3,0a1.15,1.15 0 1,0 -2.3,0M475.0,59.0a1.15,1.15 0 1,0 2.3,0a1.15,1.15 0 1,0 -2.3,0M461.1,65.8a1.15,1.15 0 1,0 2.3,0a1.15,1.15 0 1,0 -2.3,0M471.0,60.5a1.15,1.15 0 1,0 2.3,0a1.15,1.15 0 1,0 -2.3,0M478.6,63.5a1.15,1.15 0 1,0 2.3,0a1.15,1.15 0 1,0 -2.3,0M475.4,61.5a1.15,1.15 0 1,0 2.3,0a1.15,1.15 0 1,0 -2.3,0M472.6,63.2a1.15,1.15 0 1,0 2.3,0a1.15,1.15 0 1,0 -2.3,0M475.9,65.1a1.15,1.15 0 1,0 2.3,0a1.15,1.15 0 1,0 -2.3,0M466.3,72.4a1.15,1.15 0 1,0 2.3,0a1.15,1.15 0 1,0 -2.3,0M462.0,69.6a1.15,1.15 0 1,0 2.3,0a1.15,1.15 0 1,0 -2.3,0" fill="#111"/>
<circle cx="515.50" cy="16.90" r="1.2" fill="#111" />
<circle cx="501.70" cy="27.80" r="1.2" fill="#111" />
<circle cx="505.90" cy="32.10" r="1.2" fill="#111" />
<circle cx="494.30" cy="35.10" r="1.2" fill="#111" />
<circle cx="496.40" cy="39.70" r="1.2" fill="#111" />
<circle cx="497.60" cy="45.70" r="1.2" fill="#111" />
<circle cx="450.50" cy="63.60" r="1.2" fill="#111" />
<circle cx="490.00" cy="60.70" r="1.2" fill="#111" />
<circle cx="491.20" cy="69.80" r="1.2" fill="#111" />
<circle cx="457.50" cy="74.60" r="1.2" fill="#111" />
<circle cx="455.50" cy="83.90" r="1.2" fill="#111" />
<circle cx="463.30" cy="86.20" r="1.2" fill="#111" />
<circle cx="468.00" cy="88.70" r="1.2" fill="#111" />
<circle cx="461.00" cy="70.50" r="1.2" fill="#111" />
<circle cx="462.50" cy="68.00" r="1.2" fill="#111" />
<circle cx="465.50" cy="76.50" r="1.2" fill="#111" />
<circle cx="467.50" cy="75.50" r="1.2" fill="#111" />
<circle cx="460.50" cy="72.50" r="1.2" fill="#111" />
<circle cx="464.00" cy="74.50" r="1.2" fill="#111" />
<circle cx="470.00" cy="74.00" r="1.2" fill="#111" />
<circle cx="473.00" cy="73.00" r="1.2" fill="#111" />
<circle cx="476.00" cy="69.00" r="1.2" fill="#111" />
<circle cx="481.00" cy="60.00" r="1.2" fill="#111" />
<circle cx="479.00" cy="64.00" r="1.2" fill="#111" />
<polygon points="487.5,44.0 491.0,42.5 495.5,43.5 496.0,46.0 492.0,47.0 489.0,49.5 487.5,47.0" fill="#111" />
<path d="M487.0,47.0a1.1,1.1 0 1,0 2.2,0a1.1,1.1 0 1,0 -2.2,0M486.9,46.4a1.1,1.1 0 1,0 2.2,0a1.1,1.1 0 1,0 -2.2,0M488.3,44.3a1.1,1.1 0 1,0 2.2,0a1.1,1.1 0 1,0 -2.2,0M488.6,45.5a1.1,1.1 0 1,0 2.2,0a1.1,1.1 0 1,0 -2.2,0M488.4,43.9a1.1,1.1 0 1,0 2.2,0a1.1,1.1 0 1,0 -2.2,0M488.2,46.5a1.1,1.1 0 1,0 2.2,0a1.1,1.1 0 1,0 -2.2,0M487.7,48.5a1.1,1.1 0 1,0 2.2,0a1.1,1.1 0 1,0 -2.2,0M493.8,44.4a1.1,1.1 0 1,0 2.2,0a1.1,1.1 0 1,0 -2.2,0M488.8,44.8a1.1,1.1 0 1,0 2.2,0a1.1,1.1 0 1,0 -2.2,0M487.8,47.3a1.1,1.1 0 1,0 2.2,0a1.1,1.1 0 1,0 -2.2,0M491.5,45.7a1.1,1.1 0 1,0 2.2,0a1.1,1.1 0 1,0 -2.2,0M488.2,48.7a1.1,1.1 0 1,0 2.2,0a1.1,1.1 0 1,0 -2.2,0" fill="#111"/>
<line x1="449.50" y1="82.80" x2="515.70" y2="29.20" stroke="#6b7bb0" stroke-width="1.25" />
<text x="472.00" y="126.80" font-size="8.0" text-anchor="middle" fill="#222" stroke="#222" stroke-width="0.12" >Common DEGs</text>
<rect x="449.30" y="132.15" width="46.50" height="3.50" fill="#8e1b1f" stroke="#5a1015" stroke-width="0.6" />
<text x="443.80" y="135.00" font-size="6.08" text-anchor="end" fill="#222" stroke="#222" stroke-width="0.12" >Amoeboidal-type cell migration</text>
<rect x="449.30" y="137.91" width="46.50" height="3.50" fill="#921d21" stroke="#5a1015" stroke-width="0.6" />
<text x="443.80" y="140.76" font-size="6.08" text-anchor="end" fill="#222" stroke="#222" stroke-width="0.12" >Regulation of vasculature development</text>
<rect x="449.30" y="143.68" width="43.00" height="3.50" fill="#a0292b" stroke="#5a1015" stroke-width="0.6" />
<text x="443.80" y="146.53" font-size="6.08" text-anchor="end" fill="#222" stroke="#222" stroke-width="0.12" >Regulation of cellular response to growth factor stimulus</text>
<rect x="449.30" y="149.44" width="38.90" height="3.50" fill="#ad3a38" stroke="#5a1015" stroke-width="0.6" />
<text x="443.80" y="152.29" font-size="6.08" text-anchor="end" fill="#222" stroke="#222" stroke-width="0.12" >Cell-substrate adhesion</text>
<rect x="449.30" y="155.21" width="34.50" height="3.50" fill="#b94a46" stroke="#5a1015" stroke-width="0.6" />
<text x="443.80" y="158.06" font-size="6.08" text-anchor="end" fill="#222" stroke="#222" stroke-width="0.12" >Cell chemotaxis</text>
<rect x="449.30" y="160.97" width="32.20" height="3.50" fill="#bf5350" stroke="#5a1015" stroke-width="0.6" />
<text x="443.80" y="163.82" font-size="6.08" text-anchor="end" fill="#222" stroke="#222" stroke-width="0.12" >Epithelial tube morphogenesis</text>
<rect x="449.30" y="166.74" width="31.50" height="3.50" fill="#c25856" stroke="#5a1015" stroke-width="0.6" />
<text x="443.80" y="169.59" font-size="6.08" text-anchor="end" fill="#222" stroke="#222" stroke-width="0.12" >Extracellular matrix organization</text>
<rect x="449.30" y="172.50" width="31.20" height="3.50" fill="#c45b59" stroke="#5a1015" stroke-width="0.6" />
<text x="443.80" y="175.35" font-size="6.08" text-anchor="end" fill="#222" stroke="#222" stroke-width="0.12" >Epithelial cell proliferation</text>
<rect x="449.30" y="178.27" width="24.40" height="3.50" fill="#ca6b6b" stroke="#5a1015" stroke-width="0.6" />
<text x="443.80" y="181.12" font-size="6.08" text-anchor="end" fill="#222" stroke="#222" stroke-width="0.12" >Myeloid leukocyte migration</text>
<rect x="449.30" y="184.03" width="22.20" height="3.50" fill="#cf7575" stroke="#5a1015" stroke-width="0.6" />
<text x="443.80" y="186.88" font-size="6.08" text-anchor="end" fill="#222" stroke="#222" stroke-width="0.12" >Leukocyte proliferation</text>
<rect x="449.30" y="189.80" width="21.50" height="3.50" fill="#d27b7c" stroke="#5a1015" stroke-width="0.6" />
<text x="443.80" y="192.65" font-size="6.08" text-anchor="end" fill="#222" stroke="#222" stroke-width="0.12" >Negative regulation of immune system process</text>
<rect x="449.30" y="195.56" width="20.40" height="3.50" fill="#d58182" stroke="#5a1015" stroke-width="0.6" />
<text x="443.80" y="198.41" font-size="6.08" text-anchor="end" fill="#222" stroke="#222" stroke-width="0.12" >Regulation of Notch signaling pathway</text>
<rect x="449.30" y="201.33" width="12.50" height="3.50" fill="#eeb4bd" stroke="#5a1015" stroke-width="0.6" />
<text x="443.80" y="204.18" font-size="6.08" text-anchor="end" fill="#222" stroke="#222" stroke-width="0.12" >Myeloid cell activation involved in immune response</text>
<rect x="449.30" y="207.09" width="11.00" height="3.50" fill="#f0bac3" stroke="#5a1015" stroke-width="0.6" />
<text x="443.80" y="209.94" font-size="6.08" text-anchor="end" fill="#222" stroke="#222" stroke-width="0.12" >Cell-cell signaling by wnt</text>
<rect x="449.30" y="212.86" width="9.50" height="3.50" fill="#f2bfc8" stroke="#5a1015" stroke-width="0.6" />
<text x="443.80" y="215.71" font-size="6.08" text-anchor="end" fill="#222" stroke="#222" stroke-width="0.12" >ERK1 and ERK2 cascade</text>
<rect x="447.40" y="130.60" width="50.90" height="87.30" fill="none" stroke="#333" stroke-width="0.9" />
<line x1="449.80" y1="217.90" x2="449.80" y2="219.70" stroke="#333" stroke-width="0.7" />
<text x="449.80" y="225.30" font-size="6.0" text-anchor="middle" fill="#333" stroke="#333" stroke-width="0.12" >0.0</text>
<line x1="462.42" y1="217.90" x2="462.42" y2="219.70" stroke="#333" stroke-width="0.7" />
<text x="462.42" y="225.30" font-size="6.0" text-anchor="middle" fill="#333" stroke="#333" stroke-width="0.12" >2.5</text>
<line x1="475.04" y1="217.90" x2="475.04" y2="219.70" stroke="#333" stroke-width="0.7" />
<text x="475.04" y="225.30" font-size="6.0" text-anchor="middle" fill="#333" stroke="#333" stroke-width="0.12" >5.0</text>
<line x1="487.66" y1="217.90" x2="487.66" y2="219.70" stroke="#333" stroke-width="0.7" />
<text x="487.66" y="225.30" font-size="6.0" text-anchor="middle" fill="#333" stroke="#333" stroke-width="0.12" >7.5</text>
<text x="469.6" y="233.6" font-size="7.25" text-anchor="middle" fill="#222" stroke="#222" stroke-width="0.12">−log<tspan font-size="4.5" dy="1.8">10</tspan><tspan dy="-1.8"> (</tspan><tspan font-style="italic">P</tspan>_adj)</text>
<text transform="translate(11.3,338.9) rotate(-90)" font-size="8.2" text-anchor="middle" fill="#222" stroke="#222" stroke-width="0.12">Relative mRNA levels</text>
<text x="164.30" y="255.90" font-size="8.2" text-anchor="start" fill="#222" stroke="#222" stroke-width="0.12" >sgRbm10 sgTrp53 common</text>
<line x1="29.50" y1="258.50" x2="387.10" y2="258.50" stroke="#333" stroke-width="1.0" />
<text x="86.30" y="341.60" font-size="8.2" text-anchor="start" fill="#222" stroke="#222" stroke-width="0.12" >sgRbm10 specific</text>
<line x1="29.50" y1="344.30" x2="222.30" y2="344.30" stroke="#333" stroke-width="1.0" />
<text x="232.00" y="341.60" font-size="8.2" text-anchor="start" fill="#222" stroke="#222" stroke-width="0.12" >sgTrp53 specific</text>
<line x1="236.10" y1="344.30" x2="277.50" y2="344.30" stroke="#333" stroke-width="1.0" />
<text x="47.90" y="267.50" font-size="7.1" text-anchor="middle" fill="#222" stroke="#222" stroke-width="0.12" >Itga8</text>
<line x1="29.30" y1="274.10" x2="29.30" y2="327.50" stroke="#222" stroke-width="0.85" />
<line x1="28.90" y1="327.10" x2="64.80" y2="327.10" stroke="#222" stroke-width="0.85" />
<line x1="27.40" y1="327.10" x2="29.30" y2="327.10" stroke="#222" stroke-width="0.7" />
<text x="27.00" y="329.30" font-size="6.3" text-anchor="end" fill="#333" stroke="#333" stroke-width="0.12" >0.0</text>
<line x1="27.40" y1="313.85" x2="29.30" y2="313.85" stroke="#222" stroke-width="0.7" />
<text x="27.00" y="316.05" font-size="6.3" text-anchor="end" fill="#333" stroke="#333" stroke-width="0.12" >0.5</text>
<line x1="27.40" y1="300.60" x2="29.30" y2="300.60" stroke="#222" stroke-width="0.7" />
<text x="27.00" y="302.80" font-size="6.3" text-anchor="end" fill="#333" stroke="#333" stroke-width="0.12" >1.0</text>
<line x1="27.40" y1="287.35" x2="29.30" y2="287.35" stroke="#222" stroke-width="0.7" />
<text x="27.00" y="289.55" font-size="6.3" text-anchor="end" fill="#333" stroke="#333" stroke-width="0.12" >1.5</text>
<line x1="27.40" y1="274.10" x2="29.30" y2="274.10" stroke="#222" stroke-width="0.7" />
<text x="27.00" y="276.30" font-size="6.3" text-anchor="end" fill="#333" stroke="#333" stroke-width="0.12" >2.0</text>
<line x1="36.70" y1="327.10" x2="36.70" y2="328.70" stroke="#222" stroke-width="0.7" />
<rect x="33.10" y="300.60" width="7.20" height="26.50" fill="#ffffff" stroke="#222" stroke-width="0.85" />
<line x1="36.70" y1="300.60" x2="36.70" y2="288.68" stroke="#222" stroke-width="0.85" />
<line x1="35.00" y1="288.68" x2="38.40" y2="288.68" stroke="#222" stroke-width="0.85" />
<circle cx="36.70" cy="276.75" r="1.15" fill="none" stroke="#222" stroke-width="0.85"/>
<circle cx="36.70" cy="311.20" r="1.15" fill="none" stroke="#222" stroke-width="0.85"/>
<circle cx="36.70" cy="313.85" r="1.15" fill="none" stroke="#222" stroke-width="0.85"/>
<line x1="47.45" y1="327.10" x2="47.45" y2="328.70" stroke="#222" stroke-width="0.7" />
<rect x="43.85" y="324.19" width="7.20" height="2.92" fill="#c2cbe9" stroke="#222" stroke-width="0.85" />
<line x1="47.45" y1="324.19" x2="47.45" y2="321.54" stroke="#222" stroke-width="0.85" />
<line x1="45.75" y1="321.54" x2="49.15" y2="321.54" stroke="#222" stroke-width="0.85" />
<circle cx="47.45" cy="320.48" r="1.15" fill="none" stroke="#222" stroke-width="0.85"/>
<circle cx="47.45" cy="324.45" r="1.15" fill="none" stroke="#222" stroke-width="0.85"/>
<circle cx="47.45" cy="326.57" r="1.15" fill="none" stroke="#222" stroke-width="0.85"/>
<text x="47.45" y="315.30" font-size="5.8" text-anchor="middle" fill="#222" stroke="#222" stroke-width="0.12" >*</text>
<line x1="58.20" y1="327.10" x2="58.20" y2="328.70" stroke="#222" stroke-width="0.7" />
<rect x="54.60" y="324.19" width="7.20" height="2.92" fill="#cdd6a6" stroke="#222" stroke-width="0.85" />
<line x1="58.20" y1="324.19" x2="58.20" y2="322.06" stroke="#222" stroke-width="0.85" />
<line x1="56.50" y1="322.06" x2="59.90" y2="322.06" stroke="#222" stroke-width="0.85" />
<circle cx="58.20" cy="321.80" r="1.15" fill="none" stroke="#222" stroke-width="0.85"/>
<circle cx="58.20" cy="323.92" r="1.15" fill="none" stroke="#222" stroke-width="0.85"/>
<circle cx="58.20" cy="324.98" r="1.15" fill="none" stroke="#222" stroke-width="0.85"/>
<text x="58.20" y="317.00" font-size="5.8" text-anchor="middle" fill="#222" stroke="#222" stroke-width="0.12" >*</text>
<text x="101.60" y="267.50" font-size="7.1" text-anchor="middle" fill="#222" stroke="#222" stroke-width="0.12" >Npr3</text>
<line x1="81.50" y1="274.10" x2="81.50" y2="327.50" stroke="#222" stroke-width="0.85" />
<line x1="81.10" y1="327.10" x2="117.00" y2="327.10" stroke="#222" stroke-width="0.85" />
<line x1="79.60" y1="327.10" x2="81.50" y2="327.10" stroke="#222" stroke-width="0.7" />
<text x="79.20" y="329.30" font-size="6.3" text-anchor="end" fill="#333" stroke="#333" stroke-width="0.12" >0.0</text>
<line x1="79.60" y1="313.85" x2="81.50" y2="313.85" stroke="#222" stroke-width="0.7" />
<text x="79.20" y="316.05" font-size="6.3" text-anchor="end" fill="#333" stroke="#333" stroke-width="0.12" >0.5</text>
<line x1="79.60" y1="300.60" x2="81.50" y2="300.60" stroke="#222" stroke-width="0.7" />
<text x="79.20" y="302.80" font-size="6.3" text-anchor="end" fill="#333" stroke="#333" stroke-width="0.12" >1.0</text>
<line x1="79.60" y1="287.35" x2="81.50" y2="287.35" stroke="#222" stroke-width="0.7" />
<text x="79.20" y="289.55" font-size="6.3" text-anchor="end" fill="#333" stroke="#333" stroke-width="0.12" >1.5</text>
<line x1="79.60" y1="274.10" x2="81.50" y2="274.10" stroke="#222" stroke-width="0.7" />
<text x="79.20" y="276.30" font-size="6.3" text-anchor="end" fill="#333" stroke="#333" stroke-width="0.12" >2.0</text>
<line x1="88.90" y1="327.10" x2="88.90" y2="328.70" stroke="#222" stroke-width="0.7" />
<rect x="85.30" y="300.60" width="7.20" height="26.50" fill="#ffffff" stroke="#222" stroke-width="0.85" />
<line x1="88.90" y1="300.60" x2="88.90" y2="291.86" stroke="#222" stroke-width="0.85" />
<line x1="87.20" y1="291.86" x2="90.60" y2="291.86" stroke="#222" stroke-width="0.85" />
<circle cx="88.90" cy="283.38" r="1.15" fill="none" stroke="#222" stroke-width="0.85"/>
<circle cx="88.90" cy="305.90" r="1.15" fill="none" stroke="#222" stroke-width="0.85"/>
<circle cx="88.90" cy="312.53" r="1.15" fill="none" stroke="#222" stroke-width="0.85"/>
<line x1="99.65" y1="327.10" x2="99.65" y2="328.70" stroke="#222" stroke-width="0.7" />
<rect x="96.05" y="323.12" width="7.20" height="3.97" fill="#c2cbe9" stroke="#222" stroke-width="0.85" />
<line x1="99.65" y1="323.12" x2="99.65" y2="320.48" stroke="#222" stroke-width="0.85" />
<line x1="97.95" y1="320.48" x2="101.35" y2="320.48" stroke="#222" stroke-width="0.85" />
<circle cx="99.65" cy="320.48" r="1.15" fill="none" stroke="#222" stroke-width="0.85"/>
<circle cx="99.65" cy="323.12" r="1.15" fill="none" stroke="#222" stroke-width="0.85"/>
<circle cx="99.65" cy="324.45" r="1.15" fill="none" stroke="#222" stroke-width="0.85"/>
<text x="99.65" y="314.10" font-size="5.8" text-anchor="middle" fill="#222" stroke="#222" stroke-width="0.12" >*</text>
<line x1="110.40" y1="327.10" x2="110.40" y2="328.70" stroke="#222" stroke-width="0.7" />
<rect x="106.80" y="325.51" width="7.20" height="1.59" fill="#cdd6a6" stroke="#222" stroke-width="0.85" />
<line x1="110.40" y1="325.51" x2="110.40" y2="323.92" stroke="#222" stroke-width="0.85" />
<line x1="108.70" y1="323.92" x2="112.10" y2="323.92" stroke="#222" stroke-width="0.85" />
<circle cx="110.40" cy="322.33" r="1.15" fill="none" stroke="#222" stroke-width="0.85"/>
<circle cx="110.40" cy="325.78" r="1.15" fill="none" stroke="#222" stroke-width="0.85"/>
<circle cx="110.40" cy="326.57" r="1.15" fill="none" stroke="#222" stroke-width="0.85"/>
<text x="110.40" y="319.60" font-size="5.8" text-anchor="middle" fill="#222" stroke="#222" stroke-width="0.12" >*</text>
<text x="150.60" y="267.50" font-size="7.1" text-anchor="middle" fill="#222" stroke="#222" stroke-width="0.12" >Abca8a</text>
<line x1="133.00" y1="274.10" x2="133.00" y2="327.50" stroke="#222" stroke-width="0.85" />
<line x1="132.60" y1="327.10" x2="168.50" y2="327.10" stroke="#222" stroke-width="0.85" />
<line x1="131.10" y1="327.10" x2="133.00" y2="327.10" stroke="#222" stroke-width="0.7" />
<text x="130.70" y="329.30" font-size="6.3" text-anchor="end" fill="#333" stroke="#333" stroke-width="0.12" >0.0</text>
<line x1="131.10" y1="313.85" x2="133.00" y2="313.85" stroke="#222" stroke-width="0.7" />
<text x="130.70" y="316.05" font-size="6.3" text-anchor="end" fill="#333" stroke="#333" stroke-width="0.12" >0.5</text>
<line x1="131.10" y1="300.60" x2="133.00" y2="300.60" stroke="#222" stroke-width="0.7" />
<text x="130.70" y="302.80" font-size="6.3" text-anchor="end" fill="#333" stroke="#333" stroke-width="0.12" >1.0</text>
<line x1="131.10" y1="287.35" x2="133.00" y2="287.35" stroke="#222" stroke-width="0.7" />
<text x="130.70" y="289.55" font-size="6.3" text-anchor="end" fill="#333" stroke="#333" stroke-width="0.12" >1.5</text>
<line x1="131.10" y1="274.10" x2="133.00" y2="274.10" stroke="#222" stroke-width="0.7" />
<text x="130.70" y="276.30" font-size="6.3" text-anchor="end" fill="#333" stroke="#333" stroke-width="0.12" >2.0</text>
<line x1="140.40" y1="327.10" x2="140.40" y2="328.70" stroke="#222" stroke-width="0.7" />
<rect x="136.80" y="300.60" width="7.20" height="26.50" fill="#ffffff" stroke="#222" stroke-width="0.85" />
<line x1="140.40" y1="300.60" x2="140.40" y2="294.77" stroke="#222" stroke-width="0.85" />
<line x1="138.70" y1="294.77" x2="142.10" y2="294.77" stroke="#222" stroke-width="0.85" />
<circle cx="140.40" cy="288.68" r="1.15" fill="none" stroke="#222" stroke-width="0.85"/>
<circle cx="140.40" cy="303.25" r="1.15" fill="none" stroke="#222" stroke-width="0.85"/>
<circle cx="140.40" cy="309.88" r="1.15" fill="none" stroke="#222" stroke-width="0.85"/>
<line x1="151.15" y1="327.10" x2="151.15" y2="328.70" stroke="#222" stroke-width="0.7" />
<rect x="147.55" y="326.04" width="7.20" height="1.06" fill="#c2cbe9" stroke="#222" stroke-width="0.85" />
<line x1="151.15" y1="326.04" x2="151.15" y2="324.98" stroke="#222" stroke-width="0.85" />
<line x1="149.45" y1="324.98" x2="152.85" y2="324.98" stroke="#222" stroke-width="0.85" />
<circle cx="151.15" cy="321.80" r="1.15" fill="none" stroke="#222" stroke-width="0.85"/>
<circle cx="151.15" cy="324.98" r="1.15" fill="none" stroke="#222" stroke-width="0.85"/>
<circle cx="151.15" cy="326.57" r="1.15" fill="none" stroke="#222" stroke-width="0.85"/>
<text x="151.15" y="320.10" font-size="5.8" text-anchor="middle" fill="#222" stroke="#222" stroke-width="0.12" >**</text>
<line x1="161.90" y1="327.10" x2="161.90" y2="328.70" stroke="#222" stroke-width="0.7" />
<rect x="158.30" y="323.12" width="7.20" height="3.97" fill="#cdd6a6" stroke="#222" stroke-width="0.85" />
<line x1="161.90" y1="323.12" x2="161.90" y2="319.68" stroke="#222" stroke-width="0.85" />
<line x1="160.20" y1="319.68" x2="163.60" y2="319.68" stroke="#222" stroke-width="0.85" />
<circle cx="161.90" cy="315.18" r="1.15" fill="none" stroke="#222" stroke-width="0.85"/>
<circle cx="161.90" cy="323.92" r="1.15" fill="none" stroke="#222" stroke-width="0.85"/>
<circle cx="161.90" cy="326.57" r="1.15" fill="none" stroke="#222" stroke-width="0.85"/>
<text x="161.90" y="312.60" font-size="5.8" text-anchor="middle" fill="#222" stroke="#222" stroke-width="0.12" >*</text>
<text x="203.50" y="267.50" font-size="7.1" text-anchor="middle" fill="#222" stroke="#222" stroke-width="0.12" >Mapt</text>
<line x1="185.70" y1="274.10" x2="185.70" y2="327.50" stroke="#222" stroke-width="0.85" />
<line x1="185.30" y1="327.10" x2="221.20" y2="327.10" stroke="#222" stroke-width="0.85" />
<line x1="183.80" y1="327.10" x2="185.70" y2="327.10" stroke="#222" stroke-width="0.7" />
<text x="183.40" y="329.30" font-size="6.3" text-anchor="end" fill="#333" stroke="#333" stroke-width="0.12" >0.0</text>
<line x1="183.80" y1="313.85" x2="185.70" y2="313.85" stroke="#222" stroke-width="0.7" />
<text x="183.40" y="316.05" font-size="6.3" text-anchor="end" fill="#333" stroke="#333" stroke-width="0.12" >0.5</text>
<line x1="183.80" y1="300.60" x2="185.70" y2="300.60" stroke="#222" stroke-width="0.7" />
<text x="183.40" y="302.80" font-size="6.3" text-anchor="end" fill="#333" stroke="#333" stroke-width="0.12" >1.0</text>
<line x1="183.80" y1="287.35" x2="185.70" y2="287.35" stroke="#222" stroke-width="0.7" />
<text x="183.40" y="289.55" font-size="6.3" text-anchor="end" fill="#333" stroke="#333" stroke-width="0.12" >1.5</text>
<line x1="183.80" y1="274.10" x2="185.70" y2="274.10" stroke="#222" stroke-width="0.7" />
<text x="183.40" y="276.30" font-size="6.3" text-anchor="end" fill="#333" stroke="#333" stroke-width="0.12" >2.0</text>
<line x1="193.10" y1="327.10" x2="193.10" y2="328.70" stroke="#222" stroke-width="0.7" />
<rect x="189.50" y="300.60" width="7.20" height="26.50" fill="#ffffff" stroke="#222" stroke-width="0.85" />
<line x1="193.10" y1="300.60" x2="193.10" y2="291.33" stroke="#222" stroke-width="0.85" />
<line x1="191.40" y1="291.33" x2="194.80" y2="291.33" stroke="#222" stroke-width="0.85" />
<circle cx="193.10" cy="283.38" r="1.15" fill="none" stroke="#222" stroke-width="0.85"/>
<circle cx="193.10" cy="305.90" r="1.15" fill="none" stroke="#222" stroke-width="0.85"/>
<circle cx="193.10" cy="311.20" r="1.15" fill="none" stroke="#222" stroke-width="0.85"/>
<line x1="203.85" y1="327.10" x2="203.85" y2="328.70" stroke="#222" stroke-width="0.7" />
<rect x="200.25" y="322.33" width="7.20" height="4.77" fill="#c2cbe9" stroke="#222" stroke-width="0.85" />
<line x1="203.85" y1="322.33" x2="203.85" y2="320.74" stroke="#222" stroke-width="0.85" />
<line x1="202.15" y1="320.74" x2="205.55" y2="320.74" stroke="#222" stroke-width="0.85" />
<circle cx="203.85" cy="316.50" r="1.15" fill="none" stroke="#222" stroke-width="0.85"/>
<circle cx="203.85" cy="321.80" r="1.15" fill="none" stroke="#222" stroke-width="0.85"/>
<circle cx="203.85" cy="322.33" r="1.15" fill="none" stroke="#222" stroke-width="0.85"/>
<text x="203.85" y="316.10" font-size="5.8" text-anchor="middle" fill="#222" stroke="#222" stroke-width="0.12" >*</text>
<line x1="214.60" y1="327.10" x2="214.60" y2="328.70" stroke="#222" stroke-width="0.7" />
<rect x="211.00" y="323.12" width="7.20" height="3.97" fill="#cdd6a6" stroke="#222" stroke-width="0.85" />
<line x1="214.60" y1="323.12" x2="214.60" y2="321.54" stroke="#222" stroke-width="0.85" />
<line x1="212.90" y1="321.54" x2="216.30" y2="321.54" stroke="#222" stroke-width="0.85" />
<circle cx="214.60" cy="316.50" r="1.15" fill="none" stroke="#222" stroke-width="0.85"/>
<circle cx="214.60" cy="323.12" r="1.15" fill="none" stroke="#222" stroke-width="0.85"/>
<circle cx="214.60" cy="323.92" r="1.15" fill="none" stroke="#222" stroke-width="0.85"/>
<text x="214.60" y="316.10" font-size="5.8" text-anchor="middle" fill="#222" stroke="#222" stroke-width="0.12" >*</text>
<text x="256.30" y="267.50" font-size="7.1" text-anchor="middle" fill="#222" stroke="#222" stroke-width="0.12" >Tspan18</text>
<line x1="236.20" y1="274.10" x2="236.20" y2="327.50" stroke="#222" stroke-width="0.85" />
<line x1="235.80" y1="327.10" x2="271.70" y2="327.10" stroke="#222" stroke-width="0.85" />
<line x1="234.30" y1="327.10" x2="236.20" y2="327.10" stroke="#222" stroke-width="0.7" />
<text x="233.90" y="329.30" font-size="6.3" text-anchor="end" fill="#333" stroke="#333" stroke-width="0.12" >0.0</text>
<line x1="234.30" y1="313.85" x2="236.20" y2="313.85" stroke="#222" stroke-width="0.7" />
<text x="233.90" y="316.05" font-size="6.3" text-anchor="end" fill="#333" stroke="#333" stroke-width="0.12" >0.5</text>
<line x1="234.30" y1="300.60" x2="236.20" y2="300.60" stroke="#222" stroke-width="0.7" />
<text x="233.90" y="302.80" font-size="6.3" text-anchor="end" fill="#333" stroke="#333" stroke-width="0.12" >1.0</text>
<line x1="234.30" y1="287.35" x2="236.20" y2="287.35" stroke="#222" stroke-width="0.7" />
<text x="233.90" y="289.55" font-size="6.3" text-anchor="end" fill="#333" stroke="#333" stroke-width="0.12" >1.5</text>
<line x1="234.30" y1="274.10" x2="236.20" y2="274.10" stroke="#222" stroke-width="0.7" />
<text x="233.90" y="276.30" font-size="6.3" text-anchor="end" fill="#333" stroke="#333" stroke-width="0.12" >2.0</text>
<line x1="243.60" y1="327.10" x2="243.60" y2="328.70" stroke="#222" stroke-width="0.7" />
<rect x="240.00" y="300.60" width="7.20" height="26.50" fill="#ffffff" stroke="#222" stroke-width="0.85" />
<line x1="243.60" y1="300.60" x2="243.60" y2="290.53" stroke="#222" stroke-width="0.85" />
<line x1="241.90" y1="290.53" x2="245.30" y2="290.53" stroke="#222" stroke-width="0.85" />
<circle cx="243.60" cy="280.73" r="1.15" fill="none" stroke="#222" stroke-width="0.85"/>
<circle cx="243.60" cy="305.90" r="1.15" fill="none" stroke="#222" stroke-width="0.85"/>
<circle cx="243.60" cy="311.20" r="1.15" fill="none" stroke="#222" stroke-width="0.85"/>
<line x1="254.35" y1="327.10" x2="254.35" y2="328.70" stroke="#222" stroke-width="0.7" />
<rect x="250.75" y="324.45" width="7.20" height="2.65" fill="#c2cbe9" stroke="#222" stroke-width="0.85" />
<line x1="254.35" y1="324.45" x2="254.35" y2="322.33" stroke="#222" stroke-width="0.85" />
<line x1="252.65" y1="322.33" x2="256.05" y2="322.33" stroke="#222" stroke-width="0.85" />
<circle cx="254.35" cy="319.68" r="1.15" fill="none" stroke="#222" stroke-width="0.85"/>
<circle cx="254.35" cy="323.12" r="1.15" fill="none" stroke="#222" stroke-width="0.85"/>
<circle cx="254.35" cy="326.57" r="1.15" fill="none" stroke="#222" stroke-width="0.85"/>
<text x="254.35" y="317.60" font-size="5.8" text-anchor="middle" fill="#222" stroke="#222" stroke-width="0.12" >*</text>
<line x1="265.10" y1="327.10" x2="265.10" y2="328.70" stroke="#222" stroke-width="0.7" />
<rect x="261.50" y="320.48" width="7.20" height="6.62" fill="#cdd6a6" stroke="#222" stroke-width="0.85" />
<line x1="265.10" y1="320.48" x2="265.10" y2="319.15" stroke="#222" stroke-width="0.85" />
<line x1="263.40" y1="319.15" x2="266.80" y2="319.15" stroke="#222" stroke-width="0.85" />
<circle cx="265.10" cy="317.83" r="1.15" fill="none" stroke="#222" stroke-width="0.85"/>
<circle cx="265.10" cy="320.48" r="1.15" fill="none" stroke="#222" stroke-width="0.85"/>
<circle cx="265.10" cy="321.80" r="1.15" fill="none" stroke="#222" stroke-width="0.85"/>
<text x="265.10" y="317.60" font-size="5.8" text-anchor="middle" fill="#222" stroke="#222" stroke-width="0.12" >*</text>
<text x="305.60" y="267.50" font-size="7.1" text-anchor="middle" fill="#222" stroke="#222" stroke-width="0.12" >Gzma</text>
<line x1="290.80" y1="275.20" x2="290.80" y2="328.60" stroke="#222" stroke-width="0.85" />
<line x1="290.40" y1="328.20" x2="326.30" y2="328.20" stroke="#222" stroke-width="0.85" />
<line x1="288.90" y1="328.20" x2="290.80" y2="328.20" stroke="#222" stroke-width="0.7" />
<text x="288.50" y="330.40" font-size="6.3" text-anchor="end" fill="#333" stroke="#333" stroke-width="0.12" >0.0</text>
<line x1="288.90" y1="314.95" x2="290.80" y2="314.95" stroke="#222" stroke-width="0.7" />
<text x="288.50" y="317.15" font-size="6.3" text-anchor="end" fill="#333" stroke="#333" stroke-width="0.12" >0.5</text>
<line x1="288.90" y1="301.70" x2="290.80" y2="301.70" stroke="#222" stroke-width="0.7" />
<text x="288.50" y="303.90" font-size="6.3" text-anchor="end" fill="#333" stroke="#333" stroke-width="0.12" >1.0</text>
<line x1="288.90" y1="288.45" x2="290.80" y2="288.45" stroke="#222" stroke-width="0.7" />
<text x="288.50" y="290.65" font-size="6.3" text-anchor="end" fill="#333" stroke="#333" stroke-width="0.12" >1.5</text>
<line x1="288.90" y1="275.20" x2="290.80" y2="275.20" stroke="#222" stroke-width="0.7" />
<text x="288.50" y="277.40" font-size="6.3" text-anchor="end" fill="#333" stroke="#333" stroke-width="0.12" >2.0</text>
<line x1="298.20" y1="328.20" x2="298.20" y2="329.80" stroke="#222" stroke-width="0.7" />
<rect x="294.60" y="303.03" width="7.20" height="25.17" fill="#ffffff" stroke="#222" stroke-width="0.85" />
<line x1="298.20" y1="303.03" x2="298.20" y2="292.43" stroke="#222" stroke-width="0.85" />
<line x1="296.50" y1="292.43" x2="299.90" y2="292.43" stroke="#222" stroke-width="0.85" />
<circle cx="298.20" cy="281.83" r="1.15" fill="none" stroke="#222" stroke-width="0.85"/>
<circle cx="298.20" cy="313.63" r="1.15" fill="none" stroke="#222" stroke-width="0.85"/>
<circle cx="298.20" cy="313.63" r="1.15" fill="none" stroke="#222" stroke-width="0.85"/>
<line x1="308.95" y1="328.20" x2="308.95" y2="329.80" stroke="#222" stroke-width="0.7" />
<rect x="305.35" y="326.61" width="7.20" height="1.59" fill="#c2cbe9" stroke="#222" stroke-width="0.85" />
<line x1="308.95" y1="326.61" x2="308.95" y2="326.08" stroke="#222" stroke-width="0.85" />
<line x1="307.25" y1="326.08" x2="310.65" y2="326.08" stroke="#222" stroke-width="0.85" />
<circle cx="308.95" cy="325.55" r="1.15" fill="none" stroke="#222" stroke-width="0.85"/>
<circle cx="308.95" cy="326.61" r="1.15" fill="none" stroke="#222" stroke-width="0.85"/>
<circle cx="308.95" cy="326.88" r="1.15" fill="none" stroke="#222" stroke-width="0.85"/>
<text x="308.95" y="321.10" font-size="5.8" text-anchor="middle" fill="#222" stroke="#222" stroke-width="0.12" >*</text>
<line x1="319.70" y1="328.20" x2="319.70" y2="329.80" stroke="#222" stroke-width="0.7" />
<rect x="316.10" y="326.88" width="7.20" height="1.33" fill="#cdd6a6" stroke="#222" stroke-width="0.85" />
<line x1="319.70" y1="326.88" x2="319.70" y2="326.08" stroke="#222" stroke-width="0.85" />
<line x1="318.00" y1="326.08" x2="321.40" y2="326.08" stroke="#222" stroke-width="0.85" />
<circle cx="319.70" cy="324.23" r="1.15" fill="none" stroke="#222" stroke-width="0.85"/>
<circle cx="319.70" cy="326.88" r="1.15" fill="none" stroke="#222" stroke-width="0.85"/>
<circle cx="319.70" cy="327.67" r="1.15" fill="none" stroke="#222" stroke-width="0.85"/>
<text x="319.70" y="321.60" font-size="5.8" text-anchor="middle" fill="#222" stroke="#222" stroke-width="0.12" >*</text>
<text x="365.30" y="267.50" font-size="7.1" text-anchor="middle" fill="#222" stroke="#222" stroke-width="0.12" >Tnfsf9</text>
<line x1="345.40" y1="275.20" x2="345.40" y2="328.60" stroke="#222" stroke-width="0.85" />
<line x1="345.00" y1="328.20" x2="380.90" y2="328.20" stroke="#222" stroke-width="0.85" />
<line x1="343.50" y1="328.20" x2="345.40" y2="328.20" stroke="#222" stroke-width="0.7" />
<text x="343.10" y="330.40" font-size="6.3" text-anchor="end" fill="#333" stroke="#333" stroke-width="0.12" >0</text>
<line x1="343.50" y1="314.95" x2="345.40" y2="314.95" stroke="#222" stroke-width="0.7" />
<text x="343.10" y="317.15" font-size="6.3" text-anchor="end" fill="#333" stroke="#333" stroke-width="0.12" >2</text>
<line x1="343.50" y1="301.70" x2="345.40" y2="301.70" stroke="#222" stroke-width="0.7" />
<text x="343.10" y="303.90" font-size="6.3" text-anchor="end" fill="#333" stroke="#333" stroke-width="0.12" >4</text>
<line x1="343.50" y1="288.45" x2="345.40" y2="288.45" stroke="#222" stroke-width="0.7" />
<text x="343.10" y="290.65" font-size="6.3" text-anchor="end" fill="#333" stroke="#333" stroke-width="0.12" >6</text>
<line x1="343.50" y1="275.20" x2="345.40" y2="275.20" stroke="#222" stroke-width="0.7" />
<text x="343.10" y="277.40" font-size="6.3" text-anchor="end" fill="#333" stroke="#333" stroke-width="0.12" >8</text>
<line x1="352.80" y1="328.20" x2="352.80" y2="329.80" stroke="#222" stroke-width="0.7" />
<rect x="349.20" y="322.57" width="7.20" height="5.63" fill="#ffffff" stroke="#222" stroke-width="0.85" />
<line x1="352.80" y1="322.57" x2="352.80" y2="319.26" stroke="#222" stroke-width="0.85" />
<line x1="351.10" y1="319.26" x2="354.50" y2="319.26" stroke="#222" stroke-width="0.85" />
<circle cx="352.80" cy="318.26" r="1.15" fill="none" stroke="#222" stroke-width="0.85"/>
<circle cx="352.80" cy="322.24" r="1.15" fill="none" stroke="#222" stroke-width="0.85"/>
<circle cx="352.80" cy="324.89" r="1.15" fill="none" stroke="#222" stroke-width="0.85"/>
<line x1="363.55" y1="328.20" x2="363.55" y2="329.80" stroke="#222" stroke-width="0.7" />
<rect x="359.95" y="314.29" width="7.20" height="13.91" fill="#c2cbe9" stroke="#222" stroke-width="0.85" />
<line x1="363.55" y1="314.29" x2="363.55" y2="310.31" stroke="#222" stroke-width="0.85" />
<line x1="361.85" y1="310.31" x2="365.25" y2="310.31" stroke="#222" stroke-width="0.85" />
<circle cx="363.55" cy="307.00" r="1.15" fill="none" stroke="#222" stroke-width="0.85"/>
<circle cx="363.55" cy="314.95" r="1.15" fill="none" stroke="#222" stroke-width="0.85"/>
<circle cx="363.55" cy="320.25" r="1.15" fill="none" stroke="#222" stroke-width="0.85"/>
<line x1="374.30" y1="328.20" x2="374.30" y2="329.80" stroke="#222" stroke-width="0.7" />
<rect x="370.70" y="315.61" width="7.20" height="12.59" fill="#cdd6a6" stroke="#222" stroke-width="0.85" />
<line x1="374.30" y1="315.61" x2="374.30" y2="312.30" stroke="#222" stroke-width="0.85" />
<line x1="372.60" y1="312.30" x2="376.00" y2="312.30" stroke="#222" stroke-width="0.85" />
<circle cx="374.30" cy="310.98" r="1.15" fill="none" stroke="#222" stroke-width="0.85"/>
<circle cx="374.30" cy="316.28" r="1.15" fill="none" stroke="#222" stroke-width="0.85"/>
<circle cx="374.30" cy="316.28" r="1.15" fill="none" stroke="#222" stroke-width="0.85"/>
<text x="47.70" y="352.50" font-size="7.1" text-anchor="middle" fill="#222" stroke="#222" stroke-width="0.12" >Folr2</text>
<line x1="29.50" y1="358.30" x2="29.50" y2="414.60" stroke="#222" stroke-width="0.85" />
<line x1="29.10" y1="414.20" x2="65.00" y2="414.20" stroke="#222" stroke-width="0.85" />
<line x1="27.60" y1="414.20" x2="29.50" y2="414.20" stroke="#222" stroke-width="0.7" />
<text x="27.20" y="416.40" font-size="6.3" text-anchor="end" fill="#333" stroke="#333" stroke-width="0.12" >0</text>
<line x1="27.60" y1="395.57" x2="29.50" y2="395.57" stroke="#222" stroke-width="0.7" />
<text x="27.20" y="397.77" font-size="6.3" text-anchor="end" fill="#333" stroke="#333" stroke-width="0.12" >5</text>
<line x1="27.60" y1="376.93" x2="29.50" y2="376.93" stroke="#222" stroke-width="0.7" />
<text x="27.20" y="379.13" font-size="6.3" text-anchor="end" fill="#333" stroke="#333" stroke-width="0.12" >10</text>
<line x1="27.60" y1="358.30" x2="29.50" y2="358.30" stroke="#222" stroke-width="0.7" />
<text x="27.20" y="360.50" font-size="6.3" text-anchor="end" fill="#333" stroke="#333" stroke-width="0.12" >15</text>
<line x1="36.90" y1="414.20" x2="36.90" y2="415.80" stroke="#222" stroke-width="0.7" />
<rect x="33.30" y="411.22" width="7.20" height="2.98" fill="#ffffff" stroke="#222" stroke-width="0.85" />
<line x1="36.90" y1="411.22" x2="36.90" y2="410.10" stroke="#222" stroke-width="0.85" />
<line x1="35.20" y1="410.10" x2="38.60" y2="410.10" stroke="#222" stroke-width="0.85" />
<circle cx="36.90" cy="408.61" r="1.15" fill="none" stroke="#222" stroke-width="0.85"/>
<circle cx="36.90" cy="410.47" r="1.15" fill="none" stroke="#222" stroke-width="0.85"/>
<circle cx="36.90" cy="411.96" r="1.15" fill="none" stroke="#222" stroke-width="0.85"/>
<line x1="47.65" y1="414.20" x2="47.65" y2="415.80" stroke="#222" stroke-width="0.7" />
<rect x="44.05" y="378.80" width="7.20" height="35.40" fill="#c2cbe9" stroke="#222" stroke-width="0.85" />
<line x1="47.65" y1="378.80" x2="47.65" y2="366.87" stroke="#222" stroke-width="0.85" />
<line x1="45.95" y1="366.87" x2="49.35" y2="366.87" stroke="#222" stroke-width="0.85" />
<circle cx="47.65" cy="363.89" r="1.15" fill="none" stroke="#222" stroke-width="0.85"/>
<circle cx="47.65" cy="371.34" r="1.15" fill="none" stroke="#222" stroke-width="0.85"/>
<circle cx="47.65" cy="403.02" r="1.15" fill="none" stroke="#222" stroke-width="0.85"/>
<text x="47.65" y="359.20" font-size="5.8" text-anchor="middle" fill="#222" stroke="#222" stroke-width="0.12" >*</text>
<line x1="58.40" y1="414.20" x2="58.40" y2="415.80" stroke="#222" stroke-width="0.7" />
<rect x="54.80" y="411.96" width="7.20" height="2.24" fill="#cdd6a6" stroke="#222" stroke-width="0.85" />
<line x1="58.40" y1="411.96" x2="58.40" y2="411.40" stroke="#222" stroke-width="0.85" />
<line x1="56.70" y1="411.40" x2="60.10" y2="411.40" stroke="#222" stroke-width="0.85" />
<circle cx="58.40" cy="411.22" r="1.15" fill="none" stroke="#222" stroke-width="0.85"/>
<circle cx="58.40" cy="411.96" r="1.15" fill="none" stroke="#222" stroke-width="0.85"/>
<circle cx="58.40" cy="412.34" r="1.15" fill="none" stroke="#222" stroke-width="0.85"/>
<text x="58.80" y="409.22" font-size="6.7" text-anchor="middle" fill="#333" stroke="#333" stroke-width="0.12" >ns</text>
<text x="99.90" y="352.50" font-size="7.1" text-anchor="middle" fill="#222" stroke="#222" stroke-width="0.12" >Npy</text>
<line x1="80.60" y1="358.30" x2="80.60" y2="414.60" stroke="#222" stroke-width="0.85" />
<line x1="80.20" y1="414.20" x2="116.10" y2="414.20" stroke="#222" stroke-width="0.85" />
<line x1="78.70" y1="414.20" x2="80.60" y2="414.20" stroke="#222" stroke-width="0.7" />
<text x="78.30" y="416.40" font-size="6.3" text-anchor="end" fill="#333" stroke="#333" stroke-width="0.12" >0</text>
<line x1="78.70" y1="400.23" x2="80.60" y2="400.23" stroke="#222" stroke-width="0.7" />
<text x="78.30" y="402.43" font-size="6.3" text-anchor="end" fill="#333" stroke="#333" stroke-width="0.12" >10</text>
<line x1="78.70" y1="386.25" x2="80.60" y2="386.25" stroke="#222" stroke-width="0.7" />
<text x="78.30" y="388.45" font-size="6.3" text-anchor="end" fill="#333" stroke="#333" stroke-width="0.12" >20</text>
<line x1="78.70" y1="372.27" x2="80.60" y2="372.27" stroke="#222" stroke-width="0.7" />
<text x="78.30" y="374.47" font-size="6.3" text-anchor="end" fill="#333" stroke="#333" stroke-width="0.12" >30</text>
<line x1="78.70" y1="358.30" x2="80.60" y2="358.30" stroke="#222" stroke-width="0.7" />
<text x="78.30" y="360.50" font-size="6.3" text-anchor="end" fill="#333" stroke="#333" stroke-width="0.12" >40</text>
<line x1="88.00" y1="414.20" x2="88.00" y2="415.80" stroke="#222" stroke-width="0.7" />
<rect x="84.40" y="413.08" width="7.20" height="1.12" fill="#ffffff" stroke="#222" stroke-width="0.85" />
<line x1="88.00" y1="413.08" x2="88.00" y2="412.80" stroke="#222" stroke-width="0.85" />
<line x1="86.30" y1="412.80" x2="89.70" y2="412.80" stroke="#222" stroke-width="0.85" />
<circle cx="88.00" cy="412.80" r="1.15" fill="none" stroke="#222" stroke-width="0.85"/>
<circle cx="88.00" cy="413.08" r="1.15" fill="none" stroke="#222" stroke-width="0.85"/>
<circle cx="88.00" cy="413.36" r="1.15" fill="none" stroke="#222" stroke-width="0.85"/>
<line x1="98.75" y1="414.20" x2="98.75" y2="415.80" stroke="#222" stroke-width="0.7" />
<rect x="95.15" y="385.55" width="7.20" height="28.65" fill="#c2cbe9" stroke="#222" stroke-width="0.85" />
<line x1="98.75" y1="385.55" x2="98.75" y2="376.47" stroke="#222" stroke-width="0.85" />
<line x1="97.05" y1="376.47" x2="100.45" y2="376.47" stroke="#222" stroke-width="0.85" />
<circle cx="98.75" cy="370.88" r="1.15" fill="none" stroke="#222" stroke-width="0.85"/>
<circle cx="98.75" cy="384.85" r="1.15" fill="none" stroke="#222" stroke-width="0.85"/>
<circle cx="98.75" cy="400.23" r="1.15" fill="none" stroke="#222" stroke-width="0.85"/>
<text x="98.75" y="366.60" font-size="5.8" text-anchor="middle" fill="#222" stroke="#222" stroke-width="0.12" >*</text>
<line x1="109.50" y1="414.20" x2="109.50" y2="415.80" stroke="#222" stroke-width="0.7" />
<rect x="105.90" y="412.80" width="7.20" height="1.40" fill="#cdd6a6" stroke="#222" stroke-width="0.85" />
<line x1="109.50" y1="412.80" x2="109.50" y2="412.38" stroke="#222" stroke-width="0.85" />
<line x1="107.80" y1="412.38" x2="111.20" y2="412.38" stroke="#222" stroke-width="0.85" />
<circle cx="109.50" cy="412.38" r="1.15" fill="none" stroke="#222" stroke-width="0.85"/>
<circle cx="109.50" cy="412.80" r="1.15" fill="none" stroke="#222" stroke-width="0.85"/>
<circle cx="109.50" cy="413.08" r="1.15" fill="none" stroke="#222" stroke-width="0.85"/>
<text x="109.90" y="410.38" font-size="6.7" text-anchor="middle" fill="#333" stroke="#333" stroke-width="0.12" >ns</text>
<text x="151.70" y="352.50" font-size="7.1" text-anchor="middle" fill="#222" stroke="#222" stroke-width="0.12" >Spp1</text>
<line x1="131.80" y1="358.30" x2="131.80" y2="414.60" stroke="#222" stroke-width="0.85" />
<line x1="131.40" y1="414.20" x2="167.30" y2="414.20" stroke="#222" stroke-width="0.85" />
<line x1="129.90" y1="414.20" x2="131.80" y2="414.20" stroke="#222" stroke-width="0.7" />
<text x="129.50" y="416.40" font-size="6.3" text-anchor="end" fill="#333" stroke="#333" stroke-width="0.12" >0</text>
<line x1="129.90" y1="395.57" x2="131.80" y2="395.57" stroke="#222" stroke-width="0.7" />
<text x="129.50" y="397.77" font-size="6.3" text-anchor="end" fill="#333" stroke="#333" stroke-width="0.12" >4</text>
<line x1="129.90" y1="376.93" x2="131.80" y2="376.93" stroke="#222" stroke-width="0.7" />
<text x="129.50" y="379.13" font-size="6.3" text-anchor="end" fill="#333" stroke="#333" stroke-width="0.12" >8</text>
<line x1="129.90" y1="358.30" x2="131.80" y2="358.30" stroke="#222" stroke-width="0.7" />
<text x="129.50" y="360.50" font-size="6.3" text-anchor="end" fill="#333" stroke="#333" stroke-width="0.12" >12</text>
<line x1="139.20" y1="414.20" x2="139.20" y2="415.80" stroke="#222" stroke-width="0.7" />
<rect x="135.60" y="408.14" width="7.20" height="6.06" fill="#ffffff" stroke="#222" stroke-width="0.85" />
<line x1="139.20" y1="408.14" x2="139.20" y2="407.21" stroke="#222" stroke-width="0.85" />
<line x1="137.50" y1="407.21" x2="140.90" y2="407.21" stroke="#222" stroke-width="0.85" />
<circle cx="139.20" cy="406.75" r="1.15" fill="none" stroke="#222" stroke-width="0.85"/>
<circle cx="139.20" cy="407.68" r="1.15" fill="none" stroke="#222" stroke-width="0.85"/>
<circle cx="139.20" cy="408.61" r="1.15" fill="none" stroke="#222" stroke-width="0.85"/>
<line x1="149.95" y1="414.20" x2="149.95" y2="415.80" stroke="#222" stroke-width="0.7" />
<rect x="146.35" y="380.19" width="7.20" height="34.01" fill="#c2cbe9" stroke="#222" stroke-width="0.85" />
<line x1="149.95" y1="380.19" x2="149.95" y2="368.55" stroke="#222" stroke-width="0.85" />
<line x1="148.25" y1="368.55" x2="151.65" y2="368.55" stroke="#222" stroke-width="0.85" />
<circle cx="149.95" cy="365.29" r="1.15" fill="none" stroke="#222" stroke-width="0.85"/>
<circle cx="149.95" cy="369.95" r="1.15" fill="none" stroke="#222" stroke-width="0.85"/>
<circle cx="149.95" cy="379.26" r="1.15" fill="none" stroke="#222" stroke-width="0.85"/>
<circle cx="149.95" cy="403.95" r="1.15" fill="none" stroke="#222" stroke-width="0.85"/>
<text x="149.95" y="361.10" font-size="5.8" text-anchor="middle" fill="#222" stroke="#222" stroke-width="0.12" >*</text>
<line x1="160.70" y1="414.20" x2="160.70" y2="415.80" stroke="#222" stroke-width="0.7" />
<rect x="157.10" y="405.81" width="7.20" height="8.38" fill="#cdd6a6" stroke="#222" stroke-width="0.85" />
<line x1="160.70" y1="405.81" x2="160.70" y2="403.02" stroke="#222" stroke-width="0.85" />
<line x1="159.00" y1="403.02" x2="162.40" y2="403.02" stroke="#222" stroke-width="0.85" />
<circle cx="160.70" cy="402.55" r="1.15" fill="none" stroke="#222" stroke-width="0.85"/>
<circle cx="160.70" cy="403.02" r="1.15" fill="none" stroke="#222" stroke-width="0.85"/>
<circle cx="160.70" cy="410.01" r="1.15" fill="none" stroke="#222" stroke-width="0.85"/>
<text x="161.10" y="400.55" font-size="6.7" text-anchor="middle" fill="#333" stroke="#333" stroke-width="0.12" >ns</text>
<text x="204.20" y="352.50" font-size="7.1" text-anchor="middle" fill="#222" stroke="#222" stroke-width="0.12" >Vsig4</text>
<line x1="184.20" y1="358.30" x2="184.20" y2="414.60" stroke="#222" stroke-width="0.85" />
<line x1="183.80" y1="414.20" x2="219.70" y2="414.20" stroke="#222" stroke-width="0.85" />
<line x1="182.30" y1="414.20" x2="184.20" y2="414.20" stroke="#222" stroke-width="0.7" />
<text x="181.90" y="416.40" font-size="6.3" text-anchor="end" fill="#333" stroke="#333" stroke-width="0.12" >0</text>
<line x1="182.30" y1="400.23" x2="184.20" y2="400.23" stroke="#222" stroke-width="0.7" />
<text x="181.90" y="402.43" font-size="6.3" text-anchor="end" fill="#333" stroke="#333" stroke-width="0.12" >20</text>
<line x1="182.30" y1="386.25" x2="184.20" y2="386.25" stroke="#222" stroke-width="0.7" />
<text x="181.90" y="388.45" font-size="6.3" text-anchor="end" fill="#333" stroke="#333" stroke-width="0.12" >40</text>
<line x1="182.30" y1="372.27" x2="184.20" y2="372.27" stroke="#222" stroke-width="0.7" />
<text x="181.90" y="374.47" font-size="6.3" text-anchor="end" fill="#333" stroke="#333" stroke-width="0.12" >60</text>
<line x1="182.30" y1="358.30" x2="184.20" y2="358.30" stroke="#222" stroke-width="0.7" />
<text x="181.90" y="360.50" font-size="6.3" text-anchor="end" fill="#333" stroke="#333" stroke-width="0.12" >80</text>
<line x1="191.60" y1="414.20" x2="191.60" y2="415.80" stroke="#222" stroke-width="0.7" />
<rect x="188.00" y="413.50" width="7.20" height="0.70" fill="#ffffff" stroke="#222" stroke-width="0.85" />
<line x1="191.60" y1="413.50" x2="191.60" y2="413.29" stroke="#222" stroke-width="0.85" />
<line x1="189.90" y1="413.29" x2="193.30" y2="413.29" stroke="#222" stroke-width="0.85" />
<circle cx="191.60" cy="413.29" r="1.15" fill="none" stroke="#222" stroke-width="0.85"/>
<circle cx="191.60" cy="413.50" r="1.15" fill="none" stroke="#222" stroke-width="0.85"/>
<circle cx="191.60" cy="413.64" r="1.15" fill="none" stroke="#222" stroke-width="0.85"/>
<line x1="202.35" y1="414.20" x2="202.35" y2="415.80" stroke="#222" stroke-width="0.7" />
<rect x="198.75" y="380.31" width="7.20" height="33.89" fill="#c2cbe9" stroke="#222" stroke-width="0.85" />
<line x1="202.35" y1="380.31" x2="202.35" y2="368.43" stroke="#222" stroke-width="0.85" />
<line x1="200.65" y1="368.43" x2="204.05" y2="368.43" stroke="#222" stroke-width="0.85" />
<circle cx="202.35" cy="368.78" r="1.15" fill="none" stroke="#222" stroke-width="0.85"/>
<circle cx="202.35" cy="370.88" r="1.15" fill="none" stroke="#222" stroke-width="0.85"/>
<circle cx="202.35" cy="408.61" r="1.15" fill="none" stroke="#222" stroke-width="0.85"/>
<text x="202.35" y="361.10" font-size="5.8" text-anchor="middle" fill="#222" stroke="#222" stroke-width="0.12" >*</text>
<line x1="213.10" y1="414.20" x2="213.10" y2="415.80" stroke="#222" stroke-width="0.7" />
<rect x="209.50" y="413.36" width="7.20" height="0.84" fill="#cdd6a6" stroke="#222" stroke-width="0.85" />
<line x1="213.10" y1="413.36" x2="213.10" y2="413.15" stroke="#222" stroke-width="0.85" />
<line x1="211.40" y1="413.15" x2="214.80" y2="413.15" stroke="#222" stroke-width="0.85" />
<circle cx="213.10" cy="413.08" r="1.15" fill="none" stroke="#222" stroke-width="0.85"/>
<circle cx="213.10" cy="413.36" r="1.15" fill="none" stroke="#222" stroke-width="0.85"/>
<circle cx="213.10" cy="413.50" r="1.15" fill="none" stroke="#222" stroke-width="0.85"/>
<text x="213.50" y="411.08" font-size="6.7" text-anchor="middle" fill="#333" stroke="#333" stroke-width="0.12" >ns</text>
<text x="257.00" y="352.50" font-size="7.1" text-anchor="middle" fill="#222" stroke="#222" stroke-width="0.12" >Padi</text>
<line x1="236.30" y1="358.30" x2="236.30" y2="414.60" stroke="#222" stroke-width="0.85" />
<line x1="235.90" y1="414.20" x2="271.80" y2="414.20" stroke="#222" stroke-width="0.85" />
<line x1="234.40" y1="414.20" x2="236.30" y2="414.20" stroke="#222" stroke-width="0.7" />
<text x="234.00" y="416.40" font-size="6.3" text-anchor="end" fill="#333" stroke="#333" stroke-width="0.12" >0</text>
<line x1="234.40" y1="403.02" x2="236.30" y2="403.02" stroke="#222" stroke-width="0.7" />
<text x="234.00" y="405.22" font-size="6.3" text-anchor="end" fill="#333" stroke="#333" stroke-width="0.12" >2</text>
<line x1="234.40" y1="391.84" x2="236.30" y2="391.84" stroke="#222" stroke-width="0.7" />
<text x="234.00" y="394.04" font-size="6.3" text-anchor="end" fill="#333" stroke="#333" stroke-width="0.12" >4</text>
<line x1="234.40" y1="380.66" x2="236.30" y2="380.66" stroke="#222" stroke-width="0.7" />
<text x="234.00" y="382.86" font-size="6.3" text-anchor="end" fill="#333" stroke="#333" stroke-width="0.12" >6</text>
<line x1="234.40" y1="369.48" x2="236.30" y2="369.48" stroke="#222" stroke-width="0.7" />
<text x="234.00" y="371.68" font-size="6.3" text-anchor="end" fill="#333" stroke="#333" stroke-width="0.12" >8</text>
<line x1="234.40" y1="358.30" x2="236.30" y2="358.30" stroke="#222" stroke-width="0.7" />
<text x="234.00" y="360.50" font-size="6.3" text-anchor="end" fill="#333" stroke="#333" stroke-width="0.12" >10</text>
<line x1="243.70" y1="414.20" x2="243.70" y2="415.80" stroke="#222" stroke-width="0.7" />
<rect x="240.10" y="408.61" width="7.20" height="5.59" fill="#ffffff" stroke="#222" stroke-width="0.85" />
<line x1="243.70" y1="408.61" x2="243.70" y2="406.93" stroke="#222" stroke-width="0.85" />
<line x1="242.00" y1="406.93" x2="245.40" y2="406.93" stroke="#222" stroke-width="0.85" />
<circle cx="243.70" cy="404.14" r="1.15" fill="none" stroke="#222" stroke-width="0.85"/>
<circle cx="243.70" cy="408.61" r="1.15" fill="none" stroke="#222" stroke-width="0.85"/>
<circle cx="243.70" cy="410.85" r="1.15" fill="none" stroke="#222" stroke-width="0.85"/>
<line x1="254.45" y1="414.20" x2="254.45" y2="415.80" stroke="#222" stroke-width="0.7" />
<rect x="250.85" y="408.61" width="7.20" height="5.59" fill="#c2cbe9" stroke="#222" stroke-width="0.85" />
<line x1="254.45" y1="408.61" x2="254.45" y2="407.21" stroke="#222" stroke-width="0.85" />
<line x1="252.75" y1="407.21" x2="256.15" y2="407.21" stroke="#222" stroke-width="0.85" />
<circle cx="254.45" cy="406.93" r="1.15" fill="none" stroke="#222" stroke-width="0.85"/>
<circle cx="254.45" cy="408.61" r="1.15" fill="none" stroke="#222" stroke-width="0.85"/>
<circle cx="254.45" cy="410.29" r="1.15" fill="none" stroke="#222" stroke-width="0.85"/>
<text x="254.85" y="404.93" font-size="6.7" text-anchor="middle" fill="#333" stroke="#333" stroke-width="0.12" >ns</text>
<line x1="265.20" y1="414.20" x2="265.20" y2="415.80" stroke="#222" stroke-width="0.7" />
<rect x="261.60" y="378.98" width="7.20" height="35.22" fill="#cdd6a6" stroke="#222" stroke-width="0.85" />
<line x1="265.20" y1="378.98" x2="265.20" y2="374.51" stroke="#222" stroke-width="0.85" />
<line x1="263.50" y1="374.51" x2="266.90" y2="374.51" stroke="#222" stroke-width="0.85" />
<circle cx="265.20" cy="368.36" r="1.15" fill="none" stroke="#222" stroke-width="0.85"/>
<circle cx="265.20" cy="377.87" r="1.15" fill="none" stroke="#222" stroke-width="0.85"/>
<circle cx="265.20" cy="390.16" r="1.15" fill="none" stroke="#222" stroke-width="0.85"/>
<text x="265.20" y="363.60" font-size="5.8" text-anchor="middle" fill="#222" stroke="#222" stroke-width="0.12" >**</text>
<text x="314.10" y="352.50" font-size="7.1" text-anchor="middle" fill="#222" stroke="#222" stroke-width="0.12" >Rbm10</text>
<line x1="291.40" y1="358.30" x2="291.40" y2="414.60" stroke="#222" stroke-width="0.85" />
<line x1="291.00" y1="414.20" x2="326.90" y2="414.20" stroke="#222" stroke-width="0.85" />
<line x1="289.50" y1="414.20" x2="291.40" y2="414.20" stroke="#222" stroke-width="0.7" />
<text x="289.10" y="416.40" font-size="6.3" text-anchor="end" fill="#333" stroke="#333" stroke-width="0.12" >0.0</text>
<line x1="289.50" y1="400.23" x2="291.40" y2="400.23" stroke="#222" stroke-width="0.7" />
<text x="289.10" y="402.43" font-size="6.3" text-anchor="end" fill="#333" stroke="#333" stroke-width="0.12" >0.5</text>
<line x1="289.50" y1="386.25" x2="291.40" y2="386.25" stroke="#222" stroke-width="0.7" />
<text x="289.10" y="388.45" font-size="6.3" text-anchor="end" fill="#333" stroke="#333" stroke-width="0.12" >1.0</text>
<line x1="289.50" y1="372.27" x2="291.40" y2="372.27" stroke="#222" stroke-width="0.7" />
<text x="289.10" y="374.47" font-size="6.3" text-anchor="end" fill="#333" stroke="#333" stroke-width="0.12" >1.5</text>
<line x1="289.50" y1="358.30" x2="291.40" y2="358.30" stroke="#222" stroke-width="0.7" />
<text x="289.10" y="360.50" font-size="6.3" text-anchor="end" fill="#333" stroke="#333" stroke-width="0.12" >2.0</text>
<line x1="298.80" y1="414.20" x2="298.80" y2="415.80" stroke="#222" stroke-width="0.7" />
<rect x="295.20" y="386.25" width="7.20" height="27.95" fill="#ffffff" stroke="#222" stroke-width="0.85" />
<line x1="298.80" y1="386.25" x2="298.80" y2="384.01" stroke="#222" stroke-width="0.85" />
<line x1="297.10" y1="384.01" x2="300.50" y2="384.01" stroke="#222" stroke-width="0.85" />
<circle cx="298.80" cy="380.66" r="1.15" fill="none" stroke="#222" stroke-width="0.85"/>
<circle cx="298.80" cy="387.65" r="1.15" fill="none" stroke="#222" stroke-width="0.85"/>
<circle cx="298.80" cy="390.44" r="1.15" fill="none" stroke="#222" stroke-width="0.85"/>
<line x1="309.55" y1="414.20" x2="309.55" y2="415.80" stroke="#222" stroke-width="0.7" />
<rect x="305.95" y="402.18" width="7.20" height="12.02" fill="#c2cbe9" stroke="#222" stroke-width="0.85" />
<line x1="309.55" y1="402.18" x2="309.55" y2="398.83" stroke="#222" stroke-width="0.85" />
<line x1="307.85" y1="398.83" x2="311.25" y2="398.83" stroke="#222" stroke-width="0.85" />
<circle cx="309.55" cy="397.43" r="1.15" fill="none" stroke="#222" stroke-width="0.85"/>
<circle cx="309.55" cy="400.23" r="1.15" fill="none" stroke="#222" stroke-width="0.85"/>
<circle cx="309.55" cy="410.01" r="1.15" fill="none" stroke="#222" stroke-width="0.85"/>
<text x="309.55" y="394.10" font-size="5.8" text-anchor="middle" fill="#222" stroke="#222" stroke-width="0.12" >*</text>
<line x1="320.30" y1="414.20" x2="320.30" y2="415.80" stroke="#222" stroke-width="0.7" />
<rect x="316.70" y="393.24" width="7.20" height="20.96" fill="#cdd6a6" stroke="#222" stroke-width="0.85" />
<line x1="320.30" y1="393.24" x2="320.30" y2="382.06" stroke="#222" stroke-width="0.85" />
<line x1="318.60" y1="382.06" x2="322.00" y2="382.06" stroke="#222" stroke-width="0.85" />
<circle cx="320.30" cy="370.88" r="1.15" fill="none" stroke="#222" stroke-width="0.85"/>
<circle cx="320.30" cy="404.42" r="1.15" fill="none" stroke="#222" stroke-width="0.85"/>
<circle cx="320.30" cy="408.61" r="1.15" fill="none" stroke="#222" stroke-width="0.85"/>
<text x="320.70" y="368.88" font-size="6.7" text-anchor="middle" fill="#333" stroke="#333" stroke-width="0.12" >ns</text>
<text x="361.00" y="352.50" font-size="7.1" text-anchor="middle" fill="#222" stroke="#222" stroke-width="0.12" >Trp53</text>
<line x1="345.50" y1="359.80" x2="345.50" y2="415.20" stroke="#222" stroke-width="0.85" />
<line x1="345.10" y1="414.80" x2="381.00" y2="414.80" stroke="#222" stroke-width="0.85" />
<line x1="343.60" y1="414.80" x2="345.50" y2="414.80" stroke="#222" stroke-width="0.7" />
<text x="343.20" y="417.00" font-size="6.3" text-anchor="end" fill="#333" stroke="#333" stroke-width="0.12" >0.0</text>
<line x1="343.60" y1="396.47" x2="345.50" y2="396.47" stroke="#222" stroke-width="0.7" />
<text x="343.20" y="398.67" font-size="6.3" text-anchor="end" fill="#333" stroke="#333" stroke-width="0.12" >0.5</text>
<line x1="343.60" y1="378.13" x2="345.50" y2="378.13" stroke="#222" stroke-width="0.7" />
<text x="343.20" y="380.33" font-size="6.3" text-anchor="end" fill="#333" stroke="#333" stroke-width="0.12" >1.0</text>
<line x1="343.60" y1="359.80" x2="345.50" y2="359.80" stroke="#222" stroke-width="0.7" />
<text x="343.20" y="362.00" font-size="6.3" text-anchor="end" fill="#333" stroke="#333" stroke-width="0.12" >1.5</text>
<line x1="352.90" y1="414.80" x2="352.90" y2="416.40" stroke="#222" stroke-width="0.7" />
<rect x="349.30" y="378.13" width="7.20" height="36.67" fill="#ffffff" stroke="#222" stroke-width="0.85" />
<line x1="352.90" y1="378.13" x2="352.90" y2="368.97" stroke="#222" stroke-width="0.85" />
<line x1="351.20" y1="368.97" x2="354.60" y2="368.97" stroke="#222" stroke-width="0.85" />
<circle cx="352.90" cy="361.63" r="1.15" fill="none" stroke="#222" stroke-width="0.85"/>
<circle cx="352.90" cy="378.13" r="1.15" fill="none" stroke="#222" stroke-width="0.85"/>
<circle cx="352.90" cy="392.80" r="1.15" fill="none" stroke="#222" stroke-width="0.85"/>
<line x1="363.65" y1="414.80" x2="363.65" y2="416.40" stroke="#222" stroke-width="0.7" />
<rect x="360.05" y="389.13" width="7.20" height="25.67" fill="#c2cbe9" stroke="#222" stroke-width="0.85" />
<line x1="363.65" y1="389.13" x2="363.65" y2="387.30" stroke="#222" stroke-width="0.85" />
<line x1="361.95" y1="387.30" x2="365.35" y2="387.30" stroke="#222" stroke-width="0.85" />
<circle cx="363.65" cy="385.47" r="1.15" fill="none" stroke="#222" stroke-width="0.85"/>
<circle cx="363.65" cy="389.13" r="1.15" fill="none" stroke="#222" stroke-width="0.85"/>
<circle cx="363.65" cy="390.97" r="1.15" fill="none" stroke="#222" stroke-width="0.85"/>
<text x="364.05" y="383.47" font-size="6.7" text-anchor="middle" fill="#333" stroke="#333" stroke-width="0.12" >ns</text>
<line x1="374.40" y1="414.80" x2="374.40" y2="416.40" stroke="#222" stroke-width="0.7" />
<rect x="370.80" y="405.63" width="7.20" height="9.17" fill="#cdd6a6" stroke="#222" stroke-width="0.85" />
<line x1="374.40" y1="405.63" x2="374.40" y2="402.70" stroke="#222" stroke-width="0.85" />
<line x1="372.70" y1="402.70" x2="376.10" y2="402.70" stroke="#222" stroke-width="0.85" />
<circle cx="374.40" cy="398.30" r="1.15" fill="none" stroke="#222" stroke-width="0.85"/>
<circle cx="374.40" cy="405.63" r="1.15" fill="none" stroke="#222" stroke-width="0.85"/>
<circle cx="374.40" cy="407.47" r="1.15" fill="none" stroke="#222" stroke-width="0.85"/>
<text x="374.40" y="397.10" font-size="5.8" text-anchor="middle" fill="#222" stroke="#222" stroke-width="0.12" >*</text>
<rect x="380.50" y="365.80" width="8.00" height="3.90" fill="#ffffff" stroke="#333" stroke-width="0.7" />
<text x="390.40" y="369.80" font-size="6.3" text-anchor="start" fill="#222" stroke="#222" stroke-width="0.12" >sgCtrl</text>
<rect x="380.50" y="373.60" width="8.00" height="3.90" fill="#c2cbe9" stroke="#333" stroke-width="0.7" />
<text x="390.40" y="377.60" font-size="6.3" text-anchor="start" fill="#222" stroke="#222" stroke-width="0.12" >sgRbm10</text>
<rect x="380.50" y="381.40" width="8.00" height="3.90" fill="#cdd6a6" stroke="#333" stroke-width="0.7" />
<text x="390.40" y="385.40" font-size="6.3" text-anchor="start" fill="#222" stroke="#222" stroke-width="0.12" >sgTrp53</text>
</svg></body></html>
